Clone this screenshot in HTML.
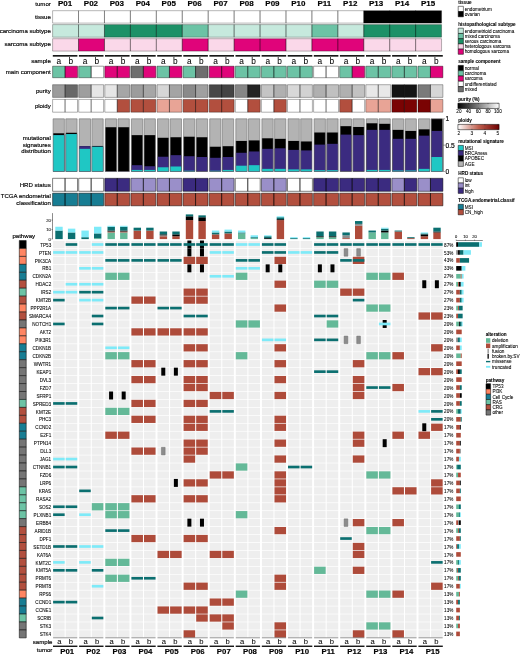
<!DOCTYPE html>
<html lang="en">
<head>
<meta charset="utf-8">
<title>Oncoprint figure</title>
<style>html,body{margin:0;padding:0;background:#fff;}svg{display:block;}svg text{stroke:#000;stroke-width:.16px;}svg text.s{stroke-width:.07px;}svg text.n{stroke-width:.05px;}</style>
</head>
<body>
<svg width="520" height="654" viewBox="0 0 520 654" font-family="'Liberation Sans', Arial, Helvetica, sans-serif" shape-rendering="auto" stroke-linejoin="round">
<defs><linearGradient id="gp" x1="0" x2="1" y1="0" y2="0"><stop offset="0" stop-color="#000"/><stop offset="1" stop-color="#fff"/></linearGradient><linearGradient id="gl" x1="0" x2="1" y1="0" y2="0"><stop offset="0" stop-color="#fff"/><stop offset="0.5" stop-color="#c0604f"/><stop offset="1" stop-color="#6e0000"/></linearGradient></defs>
<rect x="0" y="0" width="520" height="654" fill="#fff"/>
<text x="65" y="6.2" font-size="8" text-anchor="middle" font-weight="bold">P01</text>
<text x="90.93" y="6.2" font-size="8" text-anchor="middle" font-weight="bold">P02</text>
<text x="116.86" y="6.2" font-size="8" text-anchor="middle" font-weight="bold">P03</text>
<text x="142.79" y="6.2" font-size="8" text-anchor="middle" font-weight="bold">P04</text>
<text x="168.72" y="6.2" font-size="8" text-anchor="middle" font-weight="bold">P05</text>
<text x="194.65" y="6.2" font-size="8" text-anchor="middle" font-weight="bold">P06</text>
<text x="220.58" y="6.2" font-size="8" text-anchor="middle" font-weight="bold">P07</text>
<text x="246.51" y="6.2" font-size="8" text-anchor="middle" font-weight="bold">P08</text>
<text x="272.44" y="6.2" font-size="8" text-anchor="middle" font-weight="bold">P09</text>
<text x="298.37" y="6.2" font-size="8" text-anchor="middle" font-weight="bold">P10</text>
<text x="324.3" y="6.2" font-size="8" text-anchor="middle" font-weight="bold">P11</text>
<text x="350.23" y="6.2" font-size="8" text-anchor="middle" font-weight="bold">P12</text>
<text x="376.16" y="6.2" font-size="8" text-anchor="middle" font-weight="bold">P13</text>
<text x="402.09" y="6.2" font-size="8" text-anchor="middle" font-weight="bold">P14</text>
<text x="428.02" y="6.2" font-size="8" text-anchor="middle" font-weight="bold">P15</text>
<text x="50.8" y="6.3" font-size="6.1" text-anchor="end">tumor</text>
<rect x="52.6" y="10.7" width="26.33" height="12.4" fill="#fff"/>
<rect x="78.53" y="10.7" width="26.33" height="12.4" fill="#fff"/>
<rect x="104.46" y="10.7" width="26.33" height="12.4" fill="#fff"/>
<rect x="130.39" y="10.7" width="26.33" height="12.4" fill="#fff"/>
<rect x="156.32" y="10.7" width="26.33" height="12.4" fill="#fff"/>
<rect x="182.25" y="10.7" width="26.33" height="12.4" fill="#fff"/>
<rect x="208.18" y="10.7" width="26.33" height="12.4" fill="#fff"/>
<rect x="234.11" y="10.7" width="26.33" height="12.4" fill="#fff"/>
<rect x="260.04" y="10.7" width="26.33" height="12.4" fill="#fff"/>
<rect x="285.97" y="10.7" width="26.33" height="12.4" fill="#fff"/>
<rect x="311.9" y="10.7" width="26.33" height="12.4" fill="#fff"/>
<rect x="337.83" y="10.7" width="26.33" height="12.4" fill="#fff"/>
<rect x="363.76" y="10.7" width="26.33" height="12.4" fill="#000"/>
<rect x="389.69" y="10.7" width="26.33" height="12.4" fill="#000"/>
<rect x="415.62" y="10.7" width="25.93" height="12.4" fill="#000"/>
<rect x="52.6" y="10.7" width="25.93" height="12.4" fill="none" stroke="#000" stroke-width="0.8" stroke-opacity="0.36"/>
<rect x="78.53" y="10.7" width="25.93" height="12.4" fill="none" stroke="#000" stroke-width="0.8" stroke-opacity="0.36"/>
<rect x="104.46" y="10.7" width="25.93" height="12.4" fill="none" stroke="#000" stroke-width="0.8" stroke-opacity="0.36"/>
<rect x="130.39" y="10.7" width="25.93" height="12.4" fill="none" stroke="#000" stroke-width="0.8" stroke-opacity="0.36"/>
<rect x="156.32" y="10.7" width="25.93" height="12.4" fill="none" stroke="#000" stroke-width="0.8" stroke-opacity="0.36"/>
<rect x="182.25" y="10.7" width="25.93" height="12.4" fill="none" stroke="#000" stroke-width="0.8" stroke-opacity="0.36"/>
<rect x="208.18" y="10.7" width="25.93" height="12.4" fill="none" stroke="#000" stroke-width="0.8" stroke-opacity="0.36"/>
<rect x="234.11" y="10.7" width="25.93" height="12.4" fill="none" stroke="#000" stroke-width="0.8" stroke-opacity="0.36"/>
<rect x="260.04" y="10.7" width="25.93" height="12.4" fill="none" stroke="#000" stroke-width="0.8" stroke-opacity="0.36"/>
<rect x="285.97" y="10.7" width="25.93" height="12.4" fill="none" stroke="#000" stroke-width="0.8" stroke-opacity="0.36"/>
<rect x="311.9" y="10.7" width="25.93" height="12.4" fill="none" stroke="#000" stroke-width="0.8" stroke-opacity="0.36"/>
<rect x="337.83" y="10.7" width="25.93" height="12.4" fill="none" stroke="#000" stroke-width="0.8" stroke-opacity="0.36"/>
<rect x="363.76" y="10.7" width="25.93" height="12.4" fill="none" stroke="#000" stroke-width="0.8" stroke-opacity="0.36"/>
<rect x="389.69" y="10.7" width="25.93" height="12.4" fill="none" stroke="#000" stroke-width="0.8" stroke-opacity="0.36"/>
<rect x="415.62" y="10.7" width="25.93" height="12.4" fill="none" stroke="#000" stroke-width="0.8" stroke-opacity="0.36"/>
<text x="50.8" y="18.8" font-size="6.1" text-anchor="end">tissue</text>
<rect x="52.6" y="24.6" width="26.33" height="12.6" fill="#c6e9dd"/>
<rect x="78.53" y="24.6" width="26.33" height="12.6" fill="#c6e9dd"/>
<rect x="104.46" y="24.6" width="26.33" height="12.6" fill="#1c9167"/>
<rect x="130.39" y="24.6" width="26.33" height="12.6" fill="#1c9167"/>
<rect x="156.32" y="24.6" width="26.33" height="12.6" fill="#1c9167"/>
<rect x="182.25" y="24.6" width="26.33" height="12.6" fill="#6cc3a5"/>
<rect x="208.18" y="24.6" width="26.33" height="12.6" fill="#c6e9dd"/>
<rect x="234.11" y="24.6" width="26.33" height="12.6" fill="#c6e9dd"/>
<rect x="260.04" y="24.6" width="26.33" height="12.6" fill="#c6e9dd"/>
<rect x="285.97" y="24.6" width="26.33" height="12.6" fill="#c6e9dd"/>
<rect x="311.9" y="24.6" width="26.33" height="12.6" fill="#6cc3a5"/>
<rect x="337.83" y="24.6" width="26.33" height="12.6" fill="#c6e9dd"/>
<rect x="363.76" y="24.6" width="26.33" height="12.6" fill="#1c9167"/>
<rect x="389.69" y="24.6" width="26.33" height="12.6" fill="#1c9167"/>
<rect x="415.62" y="24.6" width="25.93" height="12.6" fill="#1c9167"/>
<rect x="52.6" y="24.6" width="25.93" height="12.6" fill="none" stroke="#000" stroke-width="0.8" stroke-opacity="0.36"/>
<rect x="78.53" y="24.6" width="25.93" height="12.6" fill="none" stroke="#000" stroke-width="0.8" stroke-opacity="0.36"/>
<rect x="104.46" y="24.6" width="25.93" height="12.6" fill="none" stroke="#000" stroke-width="0.8" stroke-opacity="0.36"/>
<rect x="130.39" y="24.6" width="25.93" height="12.6" fill="none" stroke="#000" stroke-width="0.8" stroke-opacity="0.36"/>
<rect x="156.32" y="24.6" width="25.93" height="12.6" fill="none" stroke="#000" stroke-width="0.8" stroke-opacity="0.36"/>
<rect x="182.25" y="24.6" width="25.93" height="12.6" fill="none" stroke="#000" stroke-width="0.8" stroke-opacity="0.36"/>
<rect x="208.18" y="24.6" width="25.93" height="12.6" fill="none" stroke="#000" stroke-width="0.8" stroke-opacity="0.36"/>
<rect x="234.11" y="24.6" width="25.93" height="12.6" fill="none" stroke="#000" stroke-width="0.8" stroke-opacity="0.36"/>
<rect x="260.04" y="24.6" width="25.93" height="12.6" fill="none" stroke="#000" stroke-width="0.8" stroke-opacity="0.36"/>
<rect x="285.97" y="24.6" width="25.93" height="12.6" fill="none" stroke="#000" stroke-width="0.8" stroke-opacity="0.36"/>
<rect x="311.9" y="24.6" width="25.93" height="12.6" fill="none" stroke="#000" stroke-width="0.8" stroke-opacity="0.36"/>
<rect x="337.83" y="24.6" width="25.93" height="12.6" fill="none" stroke="#000" stroke-width="0.8" stroke-opacity="0.36"/>
<rect x="363.76" y="24.6" width="25.93" height="12.6" fill="none" stroke="#000" stroke-width="0.8" stroke-opacity="0.36"/>
<rect x="389.69" y="24.6" width="25.93" height="12.6" fill="none" stroke="#000" stroke-width="0.8" stroke-opacity="0.36"/>
<rect x="415.62" y="24.6" width="25.93" height="12.6" fill="none" stroke="#000" stroke-width="0.8" stroke-opacity="0.36"/>
<text x="50.8" y="32.5" font-size="6.1" text-anchor="end">carcinoma subtype</text>
<rect x="52.6" y="38.7" width="26.33" height="12.4" fill="#fad8e9"/>
<rect x="78.53" y="38.7" width="26.33" height="12.4" fill="#e0047a"/>
<rect x="104.46" y="38.7" width="26.33" height="12.4" fill="#fad8e9"/>
<rect x="130.39" y="38.7" width="26.33" height="12.4" fill="#fad8e9"/>
<rect x="156.32" y="38.7" width="26.33" height="12.4" fill="#fad8e9"/>
<rect x="182.25" y="38.7" width="26.33" height="12.4" fill="#e0047a"/>
<rect x="208.18" y="38.7" width="26.33" height="12.4" fill="#fad8e9"/>
<rect x="234.11" y="38.7" width="26.33" height="12.4" fill="#e0047a"/>
<rect x="260.04" y="38.7" width="26.33" height="12.4" fill="#e0047a"/>
<rect x="285.97" y="38.7" width="26.33" height="12.4" fill="#fad8e9"/>
<rect x="311.9" y="38.7" width="26.33" height="12.4" fill="#e0047a"/>
<rect x="337.83" y="38.7" width="26.33" height="12.4" fill="#e0047a"/>
<rect x="363.76" y="38.7" width="26.33" height="12.4" fill="#fad8e9"/>
<rect x="389.69" y="38.7" width="26.33" height="12.4" fill="#fad8e9"/>
<rect x="415.62" y="38.7" width="25.93" height="12.4" fill="#fad8e9"/>
<rect x="52.6" y="38.7" width="25.93" height="12.4" fill="none" stroke="#000" stroke-width="0.8" stroke-opacity="0.36"/>
<rect x="78.53" y="38.7" width="25.93" height="12.4" fill="none" stroke="#000" stroke-width="0.8" stroke-opacity="0.36"/>
<rect x="104.46" y="38.7" width="25.93" height="12.4" fill="none" stroke="#000" stroke-width="0.8" stroke-opacity="0.36"/>
<rect x="130.39" y="38.7" width="25.93" height="12.4" fill="none" stroke="#000" stroke-width="0.8" stroke-opacity="0.36"/>
<rect x="156.32" y="38.7" width="25.93" height="12.4" fill="none" stroke="#000" stroke-width="0.8" stroke-opacity="0.36"/>
<rect x="182.25" y="38.7" width="25.93" height="12.4" fill="none" stroke="#000" stroke-width="0.8" stroke-opacity="0.36"/>
<rect x="208.18" y="38.7" width="25.93" height="12.4" fill="none" stroke="#000" stroke-width="0.8" stroke-opacity="0.36"/>
<rect x="234.11" y="38.7" width="25.93" height="12.4" fill="none" stroke="#000" stroke-width="0.8" stroke-opacity="0.36"/>
<rect x="260.04" y="38.7" width="25.93" height="12.4" fill="none" stroke="#000" stroke-width="0.8" stroke-opacity="0.36"/>
<rect x="285.97" y="38.7" width="25.93" height="12.4" fill="none" stroke="#000" stroke-width="0.8" stroke-opacity="0.36"/>
<rect x="311.9" y="38.7" width="25.93" height="12.4" fill="none" stroke="#000" stroke-width="0.8" stroke-opacity="0.36"/>
<rect x="337.83" y="38.7" width="25.93" height="12.4" fill="none" stroke="#000" stroke-width="0.8" stroke-opacity="0.36"/>
<rect x="363.76" y="38.7" width="25.93" height="12.4" fill="none" stroke="#000" stroke-width="0.8" stroke-opacity="0.36"/>
<rect x="389.69" y="38.7" width="25.93" height="12.4" fill="none" stroke="#000" stroke-width="0.8" stroke-opacity="0.36"/>
<rect x="415.62" y="38.7" width="25.93" height="12.4" fill="none" stroke="#000" stroke-width="0.8" stroke-opacity="0.36"/>
<text x="50.8" y="46.3" font-size="6.1" text-anchor="end">sarcoma subtype</text>
<rect x="52.8" y="55.1" width="24.6" height="1.5" fill="#000"/>
<text x="58.9" y="64" font-size="8.3" text-anchor="middle" class="n">a</text>
<text x="70.8" y="64" font-size="8.3" text-anchor="middle" class="n">b</text>
<rect x="78.9" y="55.1" width="24.6" height="1.5" fill="#000"/>
<text x="85" y="64" font-size="8.3" text-anchor="middle" class="n">a</text>
<text x="96.9" y="64" font-size="8.3" text-anchor="middle" class="n">b</text>
<rect x="105" y="55.1" width="24.6" height="1.5" fill="#000"/>
<text x="111.1" y="64" font-size="8.3" text-anchor="middle" class="n">a</text>
<text x="123" y="64" font-size="8.3" text-anchor="middle" class="n">b</text>
<rect x="131.1" y="55.1" width="24.6" height="1.5" fill="#000"/>
<text x="137.2" y="64" font-size="8.3" text-anchor="middle" class="n">a</text>
<text x="149.1" y="64" font-size="8.3" text-anchor="middle" class="n">b</text>
<rect x="157.2" y="55.1" width="24.6" height="1.5" fill="#000"/>
<text x="163.3" y="64" font-size="8.3" text-anchor="middle" class="n">a</text>
<text x="175.2" y="64" font-size="8.3" text-anchor="middle" class="n">b</text>
<rect x="183.3" y="55.1" width="24.6" height="1.5" fill="#000"/>
<text x="189.4" y="64" font-size="8.3" text-anchor="middle" class="n">a</text>
<text x="201.3" y="64" font-size="8.3" text-anchor="middle" class="n">b</text>
<rect x="209.4" y="55.1" width="24.6" height="1.5" fill="#000"/>
<text x="215.5" y="64" font-size="8.3" text-anchor="middle" class="n">a</text>
<text x="227.4" y="64" font-size="8.3" text-anchor="middle" class="n">b</text>
<rect x="235.5" y="55.1" width="24.6" height="1.5" fill="#000"/>
<text x="241.6" y="64" font-size="8.3" text-anchor="middle" class="n">a</text>
<text x="253.5" y="64" font-size="8.3" text-anchor="middle" class="n">b</text>
<rect x="261.6" y="55.1" width="24.6" height="1.5" fill="#000"/>
<text x="267.7" y="64" font-size="8.3" text-anchor="middle" class="n">a</text>
<text x="279.6" y="64" font-size="8.3" text-anchor="middle" class="n">b</text>
<rect x="287.7" y="55.1" width="24.6" height="1.5" fill="#000"/>
<text x="293.8" y="64" font-size="8.3" text-anchor="middle" class="n">a</text>
<text x="305.7" y="64" font-size="8.3" text-anchor="middle" class="n">b</text>
<rect x="313.8" y="55.1" width="24.6" height="1.5" fill="#000"/>
<text x="319.9" y="64" font-size="8.3" text-anchor="middle" class="n">a</text>
<text x="331.8" y="64" font-size="8.3" text-anchor="middle" class="n">b</text>
<rect x="339.9" y="55.1" width="24.6" height="1.5" fill="#000"/>
<text x="346" y="64" font-size="8.3" text-anchor="middle" class="n">a</text>
<text x="357.9" y="64" font-size="8.3" text-anchor="middle" class="n">b</text>
<rect x="366" y="55.1" width="24.6" height="1.5" fill="#000"/>
<text x="372.1" y="64" font-size="8.3" text-anchor="middle" class="n">a</text>
<text x="384" y="64" font-size="8.3" text-anchor="middle" class="n">b</text>
<rect x="392.1" y="55.1" width="24.6" height="1.5" fill="#000"/>
<text x="398.2" y="64" font-size="8.3" text-anchor="middle" class="n">a</text>
<text x="410.1" y="64" font-size="8.3" text-anchor="middle" class="n">b</text>
<rect x="418.2" y="55.1" width="24.6" height="1.5" fill="#000"/>
<text x="424.3" y="64" font-size="8.3" text-anchor="middle" class="n">a</text>
<text x="436.2" y="64" font-size="8.3" text-anchor="middle" class="n">b</text>
<text x="50.8" y="63.2" font-size="6.1" text-anchor="end">sample</text>
<rect x="52.6" y="66.2" width="12.75" height="11.5" fill="#6cc3a5"/>
<rect x="65.05" y="66.2" width="12.45" height="11.5" fill="#e0047a"/>
<rect x="52.6" y="66.2" width="12.45" height="11.5" fill="none" stroke="#000" stroke-width="0.7" stroke-opacity="0.55"/>
<rect x="65.05" y="66.2" width="12.45" height="11.5" fill="none" stroke="#000" stroke-width="0.7" stroke-opacity="0.55"/>
<rect x="78.7" y="66.2" width="12.75" height="11.5" fill="#6cc3a5"/>
<rect x="91.15" y="66.2" width="12.45" height="11.5" fill="#ffffff"/>
<rect x="78.7" y="66.2" width="12.45" height="11.5" fill="none" stroke="#000" stroke-width="0.7" stroke-opacity="0.55"/>
<rect x="91.15" y="66.2" width="12.45" height="11.5" fill="none" stroke="#000" stroke-width="0.7" stroke-opacity="0.55"/>
<rect x="104.8" y="66.2" width="12.75" height="11.5" fill="#e0047a"/>
<rect x="117.25" y="66.2" width="12.45" height="11.5" fill="#e0047a"/>
<rect x="104.8" y="66.2" width="12.45" height="11.5" fill="none" stroke="#000" stroke-width="0.7" stroke-opacity="0.55"/>
<rect x="117.25" y="66.2" width="12.45" height="11.5" fill="none" stroke="#000" stroke-width="0.7" stroke-opacity="0.55"/>
<rect x="130.9" y="66.2" width="12.75" height="11.5" fill="#6e6e6e"/>
<rect x="143.35" y="66.2" width="12.45" height="11.5" fill="#e0047a"/>
<rect x="130.9" y="66.2" width="12.45" height="11.5" fill="none" stroke="#000" stroke-width="0.7" stroke-opacity="0.55"/>
<rect x="143.35" y="66.2" width="12.45" height="11.5" fill="none" stroke="#000" stroke-width="0.7" stroke-opacity="0.55"/>
<rect x="157" y="66.2" width="12.75" height="11.5" fill="#6cc3a5"/>
<rect x="169.45" y="66.2" width="12.45" height="11.5" fill="#e0047a"/>
<rect x="157" y="66.2" width="12.45" height="11.5" fill="none" stroke="#000" stroke-width="0.7" stroke-opacity="0.55"/>
<rect x="169.45" y="66.2" width="12.45" height="11.5" fill="none" stroke="#000" stroke-width="0.7" stroke-opacity="0.55"/>
<rect x="183.1" y="66.2" width="12.75" height="11.5" fill="#6cc3a5"/>
<rect x="195.55" y="66.2" width="12.45" height="11.5" fill="#6e6e6e"/>
<rect x="183.1" y="66.2" width="12.45" height="11.5" fill="none" stroke="#000" stroke-width="0.7" stroke-opacity="0.55"/>
<rect x="195.55" y="66.2" width="12.45" height="11.5" fill="none" stroke="#000" stroke-width="0.7" stroke-opacity="0.55"/>
<rect x="209.2" y="66.2" width="12.75" height="11.5" fill="#e0047a"/>
<rect x="221.65" y="66.2" width="12.45" height="11.5" fill="#e0047a"/>
<rect x="209.2" y="66.2" width="12.45" height="11.5" fill="none" stroke="#000" stroke-width="0.7" stroke-opacity="0.55"/>
<rect x="221.65" y="66.2" width="12.45" height="11.5" fill="none" stroke="#000" stroke-width="0.7" stroke-opacity="0.55"/>
<rect x="235.3" y="66.2" width="12.75" height="11.5" fill="#6cc3a5"/>
<rect x="247.75" y="66.2" width="12.45" height="11.5" fill="#6cc3a5"/>
<rect x="235.3" y="66.2" width="12.45" height="11.5" fill="none" stroke="#000" stroke-width="0.7" stroke-opacity="0.55"/>
<rect x="247.75" y="66.2" width="12.45" height="11.5" fill="none" stroke="#000" stroke-width="0.7" stroke-opacity="0.55"/>
<rect x="261.4" y="66.2" width="12.75" height="11.5" fill="#6cc3a5"/>
<rect x="273.85" y="66.2" width="12.45" height="11.5" fill="#6cc3a5"/>
<rect x="261.4" y="66.2" width="12.45" height="11.5" fill="none" stroke="#000" stroke-width="0.7" stroke-opacity="0.55"/>
<rect x="273.85" y="66.2" width="12.45" height="11.5" fill="none" stroke="#000" stroke-width="0.7" stroke-opacity="0.55"/>
<rect x="287.5" y="66.2" width="12.75" height="11.5" fill="#6cc3a5"/>
<rect x="299.95" y="66.2" width="12.45" height="11.5" fill="#6cc3a5"/>
<rect x="287.5" y="66.2" width="12.45" height="11.5" fill="none" stroke="#000" stroke-width="0.7" stroke-opacity="0.55"/>
<rect x="299.95" y="66.2" width="12.45" height="11.5" fill="none" stroke="#000" stroke-width="0.7" stroke-opacity="0.55"/>
<rect x="313.6" y="66.2" width="12.75" height="11.5" fill="#ffffff"/>
<rect x="326.05" y="66.2" width="12.45" height="11.5" fill="#ffffff"/>
<rect x="313.6" y="66.2" width="12.45" height="11.5" fill="none" stroke="#000" stroke-width="0.7" stroke-opacity="0.55"/>
<rect x="326.05" y="66.2" width="12.45" height="11.5" fill="none" stroke="#000" stroke-width="0.7" stroke-opacity="0.55"/>
<rect x="339.7" y="66.2" width="12.75" height="11.5" fill="#6cc3a5"/>
<rect x="352.15" y="66.2" width="12.45" height="11.5" fill="#e0047a"/>
<rect x="339.7" y="66.2" width="12.45" height="11.5" fill="none" stroke="#000" stroke-width="0.7" stroke-opacity="0.55"/>
<rect x="352.15" y="66.2" width="12.45" height="11.5" fill="none" stroke="#000" stroke-width="0.7" stroke-opacity="0.55"/>
<rect x="365.8" y="66.2" width="12.75" height="11.5" fill="#6cc3a5"/>
<rect x="378.25" y="66.2" width="12.45" height="11.5" fill="#6cc3a5"/>
<rect x="365.8" y="66.2" width="12.45" height="11.5" fill="none" stroke="#000" stroke-width="0.7" stroke-opacity="0.55"/>
<rect x="378.25" y="66.2" width="12.45" height="11.5" fill="none" stroke="#000" stroke-width="0.7" stroke-opacity="0.55"/>
<rect x="391.9" y="66.2" width="12.75" height="11.5" fill="#6cc3a5"/>
<rect x="404.35" y="66.2" width="12.45" height="11.5" fill="#6cc3a5"/>
<rect x="391.9" y="66.2" width="12.45" height="11.5" fill="none" stroke="#000" stroke-width="0.7" stroke-opacity="0.55"/>
<rect x="404.35" y="66.2" width="12.45" height="11.5" fill="none" stroke="#000" stroke-width="0.7" stroke-opacity="0.55"/>
<rect x="418" y="66.2" width="12.75" height="11.5" fill="#6cc3a5"/>
<rect x="430.45" y="66.2" width="12.45" height="11.5" fill="#e0047a"/>
<rect x="418" y="66.2" width="12.45" height="11.5" fill="none" stroke="#000" stroke-width="0.7" stroke-opacity="0.55"/>
<rect x="430.45" y="66.2" width="12.45" height="11.5" fill="none" stroke="#000" stroke-width="0.7" stroke-opacity="0.55"/>
<text x="50.8" y="74.05" font-size="6.1" text-anchor="end">main component</text>
<rect x="52.6" y="84.7" width="12.75" height="12.7" fill="#9b9b9b"/>
<rect x="65.05" y="84.7" width="12.45" height="12.7" fill="#686868"/>
<rect x="52.6" y="84.7" width="12.45" height="12.7" fill="none" stroke="#000" stroke-width="0.7" stroke-opacity="0.45"/>
<rect x="65.05" y="84.7" width="12.45" height="12.7" fill="none" stroke="#000" stroke-width="0.7" stroke-opacity="0.45"/>
<rect x="78.7" y="84.7" width="12.75" height="12.7" fill="#9e9e9e"/>
<rect x="91.15" y="84.7" width="12.45" height="12.7" fill="#e6e6e6"/>
<rect x="78.7" y="84.7" width="12.45" height="12.7" fill="none" stroke="#000" stroke-width="0.7" stroke-opacity="0.45"/>
<rect x="91.15" y="84.7" width="12.45" height="12.7" fill="none" stroke="#000" stroke-width="0.7" stroke-opacity="0.45"/>
<rect x="104.8" y="84.7" width="12.75" height="12.7" fill="#e6e6e6"/>
<rect x="117.25" y="84.7" width="12.45" height="12.7" fill="#a6a6a6"/>
<rect x="104.8" y="84.7" width="12.45" height="12.7" fill="none" stroke="#000" stroke-width="0.7" stroke-opacity="0.45"/>
<rect x="117.25" y="84.7" width="12.45" height="12.7" fill="none" stroke="#000" stroke-width="0.7" stroke-opacity="0.45"/>
<rect x="130.9" y="84.7" width="12.75" height="12.7" fill="#9c9c9c"/>
<rect x="143.35" y="84.7" width="12.45" height="12.7" fill="#a6a6a6"/>
<rect x="130.9" y="84.7" width="12.45" height="12.7" fill="none" stroke="#000" stroke-width="0.7" stroke-opacity="0.45"/>
<rect x="143.35" y="84.7" width="12.45" height="12.7" fill="none" stroke="#000" stroke-width="0.7" stroke-opacity="0.45"/>
<rect x="157" y="84.7" width="12.75" height="12.7" fill="#d6d6d6"/>
<rect x="169.45" y="84.7" width="12.45" height="12.7" fill="#a4a4a4"/>
<rect x="157" y="84.7" width="12.45" height="12.7" fill="none" stroke="#000" stroke-width="0.7" stroke-opacity="0.45"/>
<rect x="169.45" y="84.7" width="12.45" height="12.7" fill="none" stroke="#000" stroke-width="0.7" stroke-opacity="0.45"/>
<rect x="183.1" y="84.7" width="12.75" height="12.7" fill="#8a8a8a"/>
<rect x="195.55" y="84.7" width="12.45" height="12.7" fill="#a0a0a0"/>
<rect x="183.1" y="84.7" width="12.45" height="12.7" fill="none" stroke="#000" stroke-width="0.7" stroke-opacity="0.45"/>
<rect x="195.55" y="84.7" width="12.45" height="12.7" fill="none" stroke="#000" stroke-width="0.7" stroke-opacity="0.45"/>
<rect x="209.2" y="84.7" width="12.75" height="12.7" fill="#484848"/>
<rect x="221.65" y="84.7" width="12.45" height="12.7" fill="#444444"/>
<rect x="209.2" y="84.7" width="12.45" height="12.7" fill="none" stroke="#000" stroke-width="0.7" stroke-opacity="0.45"/>
<rect x="221.65" y="84.7" width="12.45" height="12.7" fill="none" stroke="#000" stroke-width="0.7" stroke-opacity="0.45"/>
<rect x="235.3" y="84.7" width="12.75" height="12.7" fill="#868686"/>
<rect x="247.75" y="84.7" width="12.45" height="12.7" fill="#242424"/>
<rect x="235.3" y="84.7" width="12.45" height="12.7" fill="none" stroke="#000" stroke-width="0.7" stroke-opacity="0.45"/>
<rect x="247.75" y="84.7" width="12.45" height="12.7" fill="none" stroke="#000" stroke-width="0.7" stroke-opacity="0.45"/>
<rect x="261.4" y="84.7" width="12.75" height="12.7" fill="#c4c4c4"/>
<rect x="273.85" y="84.7" width="12.45" height="12.7" fill="#b0b0b0"/>
<rect x="261.4" y="84.7" width="12.45" height="12.7" fill="none" stroke="#000" stroke-width="0.7" stroke-opacity="0.45"/>
<rect x="273.85" y="84.7" width="12.45" height="12.7" fill="none" stroke="#000" stroke-width="0.7" stroke-opacity="0.45"/>
<rect x="287.5" y="84.7" width="12.75" height="12.7" fill="#d8d8d8"/>
<rect x="299.95" y="84.7" width="12.45" height="12.7" fill="#d2d2d2"/>
<rect x="287.5" y="84.7" width="12.45" height="12.7" fill="none" stroke="#000" stroke-width="0.7" stroke-opacity="0.45"/>
<rect x="299.95" y="84.7" width="12.45" height="12.7" fill="none" stroke="#000" stroke-width="0.7" stroke-opacity="0.45"/>
<rect x="313.6" y="84.7" width="12.75" height="12.7" fill="#b0b0b0"/>
<rect x="326.05" y="84.7" width="12.45" height="12.7" fill="#c0c0c0"/>
<rect x="313.6" y="84.7" width="12.45" height="12.7" fill="none" stroke="#000" stroke-width="0.7" stroke-opacity="0.45"/>
<rect x="326.05" y="84.7" width="12.45" height="12.7" fill="none" stroke="#000" stroke-width="0.7" stroke-opacity="0.45"/>
<rect x="339.7" y="84.7" width="12.75" height="12.7" fill="#b0b0b0"/>
<rect x="352.15" y="84.7" width="12.45" height="12.7" fill="#c2c2c2"/>
<rect x="339.7" y="84.7" width="12.45" height="12.7" fill="none" stroke="#000" stroke-width="0.7" stroke-opacity="0.45"/>
<rect x="352.15" y="84.7" width="12.45" height="12.7" fill="none" stroke="#000" stroke-width="0.7" stroke-opacity="0.45"/>
<rect x="365.8" y="84.7" width="12.75" height="12.7" fill="#e8e8e8"/>
<rect x="378.25" y="84.7" width="12.45" height="12.7" fill="#e8e8e8"/>
<rect x="365.8" y="84.7" width="12.45" height="12.7" fill="none" stroke="#000" stroke-width="0.7" stroke-opacity="0.45"/>
<rect x="378.25" y="84.7" width="12.45" height="12.7" fill="none" stroke="#000" stroke-width="0.7" stroke-opacity="0.45"/>
<rect x="391.9" y="84.7" width="12.75" height="12.7" fill="#141414"/>
<rect x="404.35" y="84.7" width="12.45" height="12.7" fill="#141414"/>
<rect x="391.9" y="84.7" width="12.45" height="12.7" fill="none" stroke="#000" stroke-width="0.7" stroke-opacity="0.45"/>
<rect x="404.35" y="84.7" width="12.45" height="12.7" fill="none" stroke="#000" stroke-width="0.7" stroke-opacity="0.45"/>
<rect x="418" y="84.7" width="12.75" height="12.7" fill="#7a7a7a"/>
<rect x="430.45" y="84.7" width="12.45" height="12.7" fill="#d6d6d6"/>
<rect x="418" y="84.7" width="12.45" height="12.7" fill="none" stroke="#000" stroke-width="0.7" stroke-opacity="0.45"/>
<rect x="430.45" y="84.7" width="12.45" height="12.7" fill="none" stroke="#000" stroke-width="0.7" stroke-opacity="0.45"/>
<text x="50.8" y="93.15" font-size="6.1" text-anchor="end">purity</text>
<rect x="52.6" y="99.4" width="12.75" height="12.8" fill="#ffffff"/>
<rect x="65.05" y="99.4" width="12.45" height="12.8" fill="#ffffff"/>
<rect x="52.6" y="99.4" width="12.45" height="12.8" fill="none" stroke="#000" stroke-width="0.7" stroke-opacity="0.45"/>
<rect x="65.05" y="99.4" width="12.45" height="12.8" fill="none" stroke="#000" stroke-width="0.7" stroke-opacity="0.45"/>
<rect x="78.7" y="99.4" width="12.75" height="12.8" fill="#ffffff"/>
<rect x="91.15" y="99.4" width="12.45" height="12.8" fill="#ffffff"/>
<rect x="78.7" y="99.4" width="12.45" height="12.8" fill="none" stroke="#000" stroke-width="0.7" stroke-opacity="0.45"/>
<rect x="91.15" y="99.4" width="12.45" height="12.8" fill="none" stroke="#000" stroke-width="0.7" stroke-opacity="0.45"/>
<rect x="104.8" y="99.4" width="12.75" height="12.8" fill="#ffffff"/>
<rect x="117.25" y="99.4" width="12.45" height="12.8" fill="#b24f3e"/>
<rect x="104.8" y="99.4" width="12.45" height="12.8" fill="none" stroke="#000" stroke-width="0.7" stroke-opacity="0.45"/>
<rect x="117.25" y="99.4" width="12.45" height="12.8" fill="none" stroke="#000" stroke-width="0.7" stroke-opacity="0.45"/>
<rect x="130.9" y="99.4" width="12.75" height="12.8" fill="#b24f3e"/>
<rect x="143.35" y="99.4" width="12.45" height="12.8" fill="#b24f3e"/>
<rect x="130.9" y="99.4" width="12.45" height="12.8" fill="none" stroke="#000" stroke-width="0.7" stroke-opacity="0.45"/>
<rect x="143.35" y="99.4" width="12.45" height="12.8" fill="none" stroke="#000" stroke-width="0.7" stroke-opacity="0.45"/>
<rect x="157" y="99.4" width="12.75" height="12.8" fill="#e8a496"/>
<rect x="169.45" y="99.4" width="12.45" height="12.8" fill="#e8a496"/>
<rect x="157" y="99.4" width="12.45" height="12.8" fill="none" stroke="#000" stroke-width="0.7" stroke-opacity="0.45"/>
<rect x="169.45" y="99.4" width="12.45" height="12.8" fill="none" stroke="#000" stroke-width="0.7" stroke-opacity="0.45"/>
<rect x="183.1" y="99.4" width="12.75" height="12.8" fill="#b24f3e"/>
<rect x="195.55" y="99.4" width="12.45" height="12.8" fill="#b24f3e"/>
<rect x="183.1" y="99.4" width="12.45" height="12.8" fill="none" stroke="#000" stroke-width="0.7" stroke-opacity="0.45"/>
<rect x="195.55" y="99.4" width="12.45" height="12.8" fill="none" stroke="#000" stroke-width="0.7" stroke-opacity="0.45"/>
<rect x="209.2" y="99.4" width="12.75" height="12.8" fill="#b24f3e"/>
<rect x="221.65" y="99.4" width="12.45" height="12.8" fill="#b24f3e"/>
<rect x="209.2" y="99.4" width="12.45" height="12.8" fill="none" stroke="#000" stroke-width="0.7" stroke-opacity="0.45"/>
<rect x="221.65" y="99.4" width="12.45" height="12.8" fill="none" stroke="#000" stroke-width="0.7" stroke-opacity="0.45"/>
<rect x="235.3" y="99.4" width="12.75" height="12.8" fill="#ffffff"/>
<rect x="247.75" y="99.4" width="12.45" height="12.8" fill="#b24f3e"/>
<rect x="235.3" y="99.4" width="12.45" height="12.8" fill="none" stroke="#000" stroke-width="0.7" stroke-opacity="0.45"/>
<rect x="247.75" y="99.4" width="12.45" height="12.8" fill="none" stroke="#000" stroke-width="0.7" stroke-opacity="0.45"/>
<rect x="261.4" y="99.4" width="12.75" height="12.8" fill="#ffffff"/>
<rect x="273.85" y="99.4" width="12.45" height="12.8" fill="#b24f3e"/>
<rect x="261.4" y="99.4" width="12.45" height="12.8" fill="none" stroke="#000" stroke-width="0.7" stroke-opacity="0.45"/>
<rect x="273.85" y="99.4" width="12.45" height="12.8" fill="none" stroke="#000" stroke-width="0.7" stroke-opacity="0.45"/>
<rect x="287.5" y="99.4" width="12.75" height="12.8" fill="#ffffff"/>
<rect x="299.95" y="99.4" width="12.45" height="12.8" fill="#ffffff"/>
<rect x="287.5" y="99.4" width="12.45" height="12.8" fill="none" stroke="#000" stroke-width="0.7" stroke-opacity="0.45"/>
<rect x="299.95" y="99.4" width="12.45" height="12.8" fill="none" stroke="#000" stroke-width="0.7" stroke-opacity="0.45"/>
<rect x="313.6" y="99.4" width="12.75" height="12.8" fill="#ffffff"/>
<rect x="326.05" y="99.4" width="12.45" height="12.8" fill="#ffffff"/>
<rect x="313.6" y="99.4" width="12.45" height="12.8" fill="none" stroke="#000" stroke-width="0.7" stroke-opacity="0.45"/>
<rect x="326.05" y="99.4" width="12.45" height="12.8" fill="none" stroke="#000" stroke-width="0.7" stroke-opacity="0.45"/>
<rect x="339.7" y="99.4" width="12.75" height="12.8" fill="#b24f3e"/>
<rect x="352.15" y="99.4" width="12.45" height="12.8" fill="#ffffff"/>
<rect x="339.7" y="99.4" width="12.45" height="12.8" fill="none" stroke="#000" stroke-width="0.7" stroke-opacity="0.45"/>
<rect x="352.15" y="99.4" width="12.45" height="12.8" fill="none" stroke="#000" stroke-width="0.7" stroke-opacity="0.45"/>
<rect x="365.8" y="99.4" width="12.75" height="12.8" fill="#e8a496"/>
<rect x="378.25" y="99.4" width="12.45" height="12.8" fill="#e8a496"/>
<rect x="365.8" y="99.4" width="12.45" height="12.8" fill="none" stroke="#000" stroke-width="0.7" stroke-opacity="0.45"/>
<rect x="378.25" y="99.4" width="12.45" height="12.8" fill="none" stroke="#000" stroke-width="0.7" stroke-opacity="0.45"/>
<rect x="391.9" y="99.4" width="12.75" height="12.8" fill="#7a0303"/>
<rect x="404.35" y="99.4" width="12.45" height="12.8" fill="#7a0303"/>
<rect x="391.9" y="99.4" width="12.45" height="12.8" fill="none" stroke="#000" stroke-width="0.7" stroke-opacity="0.45"/>
<rect x="404.35" y="99.4" width="12.45" height="12.8" fill="none" stroke="#000" stroke-width="0.7" stroke-opacity="0.45"/>
<rect x="418" y="99.4" width="12.75" height="12.8" fill="#7a0303"/>
<rect x="430.45" y="99.4" width="12.45" height="12.8" fill="#e8a496"/>
<rect x="418" y="99.4" width="12.45" height="12.8" fill="none" stroke="#000" stroke-width="0.7" stroke-opacity="0.45"/>
<rect x="430.45" y="99.4" width="12.45" height="12.8" fill="none" stroke="#000" stroke-width="0.7" stroke-opacity="0.45"/>
<text x="50.8" y="107.9" font-size="6.1" text-anchor="end">ploidy</text>
<rect x="52.6" y="178.3" width="12.75" height="13" fill="#ffffff"/>
<rect x="65.05" y="178.3" width="12.45" height="13" fill="#ffffff"/>
<rect x="52.6" y="178.3" width="12.45" height="13" fill="none" stroke="#000" stroke-width="0.8" stroke-opacity="0.62"/>
<rect x="65.05" y="178.3" width="12.45" height="13" fill="none" stroke="#000" stroke-width="0.8" stroke-opacity="0.62"/>
<rect x="78.7" y="178.3" width="12.75" height="13" fill="#ffffff"/>
<rect x="91.15" y="178.3" width="12.45" height="13" fill="#ffffff"/>
<rect x="78.7" y="178.3" width="12.45" height="13" fill="none" stroke="#000" stroke-width="0.8" stroke-opacity="0.62"/>
<rect x="91.15" y="178.3" width="12.45" height="13" fill="none" stroke="#000" stroke-width="0.8" stroke-opacity="0.62"/>
<rect x="104.8" y="178.3" width="12.75" height="13" fill="#3b2b80"/>
<rect x="117.25" y="178.3" width="12.45" height="13" fill="#3b2b80"/>
<rect x="104.8" y="178.3" width="12.45" height="13" fill="none" stroke="#000" stroke-width="0.8" stroke-opacity="0.62"/>
<rect x="117.25" y="178.3" width="12.45" height="13" fill="none" stroke="#000" stroke-width="0.8" stroke-opacity="0.62"/>
<rect x="130.9" y="178.3" width="12.75" height="13" fill="#9a8fc9"/>
<rect x="143.35" y="178.3" width="12.45" height="13" fill="#9a8fc9"/>
<rect x="130.9" y="178.3" width="12.45" height="13" fill="none" stroke="#000" stroke-width="0.8" stroke-opacity="0.62"/>
<rect x="143.35" y="178.3" width="12.45" height="13" fill="none" stroke="#000" stroke-width="0.8" stroke-opacity="0.62"/>
<rect x="157" y="178.3" width="12.75" height="13" fill="#9a8fc9"/>
<rect x="169.45" y="178.3" width="12.45" height="13" fill="#9a8fc9"/>
<rect x="157" y="178.3" width="12.45" height="13" fill="none" stroke="#000" stroke-width="0.8" stroke-opacity="0.62"/>
<rect x="169.45" y="178.3" width="12.45" height="13" fill="none" stroke="#000" stroke-width="0.8" stroke-opacity="0.62"/>
<rect x="183.1" y="178.3" width="12.75" height="13" fill="#3b2b80"/>
<rect x="195.55" y="178.3" width="12.45" height="13" fill="#3b2b80"/>
<rect x="183.1" y="178.3" width="12.45" height="13" fill="none" stroke="#000" stroke-width="0.8" stroke-opacity="0.62"/>
<rect x="195.55" y="178.3" width="12.45" height="13" fill="none" stroke="#000" stroke-width="0.8" stroke-opacity="0.62"/>
<rect x="209.2" y="178.3" width="12.75" height="13" fill="#9a8fc9"/>
<rect x="221.65" y="178.3" width="12.45" height="13" fill="#9a8fc9"/>
<rect x="209.2" y="178.3" width="12.45" height="13" fill="none" stroke="#000" stroke-width="0.8" stroke-opacity="0.62"/>
<rect x="221.65" y="178.3" width="12.45" height="13" fill="none" stroke="#000" stroke-width="0.8" stroke-opacity="0.62"/>
<rect x="235.3" y="178.3" width="12.75" height="13" fill="#ffffff"/>
<rect x="247.75" y="178.3" width="12.45" height="13" fill="#ffffff"/>
<rect x="235.3" y="178.3" width="12.45" height="13" fill="none" stroke="#000" stroke-width="0.8" stroke-opacity="0.62"/>
<rect x="247.75" y="178.3" width="12.45" height="13" fill="none" stroke="#000" stroke-width="0.8" stroke-opacity="0.62"/>
<rect x="261.4" y="178.3" width="12.75" height="13" fill="#9a8fc9"/>
<rect x="273.85" y="178.3" width="12.45" height="13" fill="#9a8fc9"/>
<rect x="261.4" y="178.3" width="12.45" height="13" fill="none" stroke="#000" stroke-width="0.8" stroke-opacity="0.62"/>
<rect x="273.85" y="178.3" width="12.45" height="13" fill="none" stroke="#000" stroke-width="0.8" stroke-opacity="0.62"/>
<rect x="287.5" y="178.3" width="12.75" height="13" fill="#ffffff"/>
<rect x="299.95" y="178.3" width="12.45" height="13" fill="#ffffff"/>
<rect x="287.5" y="178.3" width="12.45" height="13" fill="none" stroke="#000" stroke-width="0.8" stroke-opacity="0.62"/>
<rect x="299.95" y="178.3" width="12.45" height="13" fill="none" stroke="#000" stroke-width="0.8" stroke-opacity="0.62"/>
<rect x="313.6" y="178.3" width="12.75" height="13" fill="#3b2b80"/>
<rect x="326.05" y="178.3" width="12.45" height="13" fill="#3b2b80"/>
<rect x="313.6" y="178.3" width="12.45" height="13" fill="none" stroke="#000" stroke-width="0.8" stroke-opacity="0.62"/>
<rect x="326.05" y="178.3" width="12.45" height="13" fill="none" stroke="#000" stroke-width="0.8" stroke-opacity="0.62"/>
<rect x="339.7" y="178.3" width="12.75" height="13" fill="#3b2b80"/>
<rect x="352.15" y="178.3" width="12.45" height="13" fill="#3b2b80"/>
<rect x="339.7" y="178.3" width="12.45" height="13" fill="none" stroke="#000" stroke-width="0.8" stroke-opacity="0.62"/>
<rect x="352.15" y="178.3" width="12.45" height="13" fill="none" stroke="#000" stroke-width="0.8" stroke-opacity="0.62"/>
<rect x="365.8" y="178.3" width="12.75" height="13" fill="#3b2b80"/>
<rect x="378.25" y="178.3" width="12.45" height="13" fill="#3b2b80"/>
<rect x="365.8" y="178.3" width="12.45" height="13" fill="none" stroke="#000" stroke-width="0.8" stroke-opacity="0.62"/>
<rect x="378.25" y="178.3" width="12.45" height="13" fill="none" stroke="#000" stroke-width="0.8" stroke-opacity="0.62"/>
<rect x="391.9" y="178.3" width="12.75" height="13" fill="#9a8fc9"/>
<rect x="404.35" y="178.3" width="12.45" height="13" fill="#3b2b80"/>
<rect x="391.9" y="178.3" width="12.45" height="13" fill="none" stroke="#000" stroke-width="0.8" stroke-opacity="0.62"/>
<rect x="404.35" y="178.3" width="12.45" height="13" fill="none" stroke="#000" stroke-width="0.8" stroke-opacity="0.62"/>
<rect x="418" y="178.3" width="12.75" height="13" fill="#9a8fc9"/>
<rect x="430.45" y="178.3" width="12.45" height="13" fill="#3b2b80"/>
<rect x="418" y="178.3" width="12.45" height="13" fill="none" stroke="#000" stroke-width="0.8" stroke-opacity="0.62"/>
<rect x="430.45" y="178.3" width="12.45" height="13" fill="none" stroke="#000" stroke-width="0.8" stroke-opacity="0.62"/>
<text x="50.8" y="186.9" font-size="6.1" text-anchor="end">HRD status</text>
<rect x="52.6" y="193.2" width="12.75" height="12.6" fill="#177d93"/>
<rect x="65.05" y="193.2" width="12.45" height="12.6" fill="#177d93"/>
<rect x="52.6" y="193.2" width="12.45" height="12.6" fill="none" stroke="#000" stroke-width="0.8" stroke-opacity="0.62"/>
<rect x="65.05" y="193.2" width="12.45" height="12.6" fill="none" stroke="#000" stroke-width="0.8" stroke-opacity="0.62"/>
<rect x="78.7" y="193.2" width="12.75" height="12.6" fill="#177d93"/>
<rect x="91.15" y="193.2" width="12.45" height="12.6" fill="#177d93"/>
<rect x="78.7" y="193.2" width="12.45" height="12.6" fill="none" stroke="#000" stroke-width="0.8" stroke-opacity="0.62"/>
<rect x="91.15" y="193.2" width="12.45" height="12.6" fill="none" stroke="#000" stroke-width="0.8" stroke-opacity="0.62"/>
<rect x="104.8" y="193.2" width="12.75" height="12.6" fill="#b24f3e"/>
<rect x="117.25" y="193.2" width="12.45" height="12.6" fill="#b24f3e"/>
<rect x="104.8" y="193.2" width="12.45" height="12.6" fill="none" stroke="#000" stroke-width="0.8" stroke-opacity="0.62"/>
<rect x="117.25" y="193.2" width="12.45" height="12.6" fill="none" stroke="#000" stroke-width="0.8" stroke-opacity="0.62"/>
<rect x="130.9" y="193.2" width="12.75" height="12.6" fill="#b24f3e"/>
<rect x="143.35" y="193.2" width="12.45" height="12.6" fill="#b24f3e"/>
<rect x="130.9" y="193.2" width="12.45" height="12.6" fill="none" stroke="#000" stroke-width="0.8" stroke-opacity="0.62"/>
<rect x="143.35" y="193.2" width="12.45" height="12.6" fill="none" stroke="#000" stroke-width="0.8" stroke-opacity="0.62"/>
<rect x="157" y="193.2" width="12.75" height="12.6" fill="#b24f3e"/>
<rect x="169.45" y="193.2" width="12.45" height="12.6" fill="#b24f3e"/>
<rect x="157" y="193.2" width="12.45" height="12.6" fill="none" stroke="#000" stroke-width="0.8" stroke-opacity="0.62"/>
<rect x="169.45" y="193.2" width="12.45" height="12.6" fill="none" stroke="#000" stroke-width="0.8" stroke-opacity="0.62"/>
<rect x="183.1" y="193.2" width="12.75" height="12.6" fill="#b24f3e"/>
<rect x="195.55" y="193.2" width="12.45" height="12.6" fill="#b24f3e"/>
<rect x="183.1" y="193.2" width="12.45" height="12.6" fill="none" stroke="#000" stroke-width="0.8" stroke-opacity="0.62"/>
<rect x="195.55" y="193.2" width="12.45" height="12.6" fill="none" stroke="#000" stroke-width="0.8" stroke-opacity="0.62"/>
<rect x="209.2" y="193.2" width="12.75" height="12.6" fill="#b24f3e"/>
<rect x="221.65" y="193.2" width="12.45" height="12.6" fill="#b24f3e"/>
<rect x="209.2" y="193.2" width="12.45" height="12.6" fill="none" stroke="#000" stroke-width="0.8" stroke-opacity="0.62"/>
<rect x="221.65" y="193.2" width="12.45" height="12.6" fill="none" stroke="#000" stroke-width="0.8" stroke-opacity="0.62"/>
<rect x="235.3" y="193.2" width="12.75" height="12.6" fill="#b24f3e"/>
<rect x="247.75" y="193.2" width="12.45" height="12.6" fill="#b24f3e"/>
<rect x="235.3" y="193.2" width="12.45" height="12.6" fill="none" stroke="#000" stroke-width="0.8" stroke-opacity="0.62"/>
<rect x="247.75" y="193.2" width="12.45" height="12.6" fill="none" stroke="#000" stroke-width="0.8" stroke-opacity="0.62"/>
<rect x="261.4" y="193.2" width="12.75" height="12.6" fill="#b24f3e"/>
<rect x="273.85" y="193.2" width="12.45" height="12.6" fill="#b24f3e"/>
<rect x="261.4" y="193.2" width="12.45" height="12.6" fill="none" stroke="#000" stroke-width="0.8" stroke-opacity="0.62"/>
<rect x="273.85" y="193.2" width="12.45" height="12.6" fill="none" stroke="#000" stroke-width="0.8" stroke-opacity="0.62"/>
<rect x="287.5" y="193.2" width="12.75" height="12.6" fill="#b24f3e"/>
<rect x="299.95" y="193.2" width="12.45" height="12.6" fill="#b24f3e"/>
<rect x="287.5" y="193.2" width="12.45" height="12.6" fill="none" stroke="#000" stroke-width="0.8" stroke-opacity="0.62"/>
<rect x="299.95" y="193.2" width="12.45" height="12.6" fill="none" stroke="#000" stroke-width="0.8" stroke-opacity="0.62"/>
<rect x="313.6" y="193.2" width="12.75" height="12.6" fill="#b24f3e"/>
<rect x="326.05" y="193.2" width="12.45" height="12.6" fill="#b24f3e"/>
<rect x="313.6" y="193.2" width="12.45" height="12.6" fill="none" stroke="#000" stroke-width="0.8" stroke-opacity="0.62"/>
<rect x="326.05" y="193.2" width="12.45" height="12.6" fill="none" stroke="#000" stroke-width="0.8" stroke-opacity="0.62"/>
<rect x="339.7" y="193.2" width="12.75" height="12.6" fill="#b24f3e"/>
<rect x="352.15" y="193.2" width="12.45" height="12.6" fill="#b24f3e"/>
<rect x="339.7" y="193.2" width="12.45" height="12.6" fill="none" stroke="#000" stroke-width="0.8" stroke-opacity="0.62"/>
<rect x="352.15" y="193.2" width="12.45" height="12.6" fill="none" stroke="#000" stroke-width="0.8" stroke-opacity="0.62"/>
<rect x="365.8" y="193.2" width="12.75" height="12.6" fill="#b24f3e"/>
<rect x="378.25" y="193.2" width="12.45" height="12.6" fill="#b24f3e"/>
<rect x="365.8" y="193.2" width="12.45" height="12.6" fill="none" stroke="#000" stroke-width="0.8" stroke-opacity="0.62"/>
<rect x="378.25" y="193.2" width="12.45" height="12.6" fill="none" stroke="#000" stroke-width="0.8" stroke-opacity="0.62"/>
<rect x="391.9" y="193.2" width="12.75" height="12.6" fill="#b24f3e"/>
<rect x="404.35" y="193.2" width="12.45" height="12.6" fill="#b24f3e"/>
<rect x="391.9" y="193.2" width="12.45" height="12.6" fill="none" stroke="#000" stroke-width="0.8" stroke-opacity="0.62"/>
<rect x="404.35" y="193.2" width="12.45" height="12.6" fill="none" stroke="#000" stroke-width="0.8" stroke-opacity="0.62"/>
<rect x="418" y="193.2" width="12.75" height="12.6" fill="#b24f3e"/>
<rect x="430.45" y="193.2" width="12.45" height="12.6" fill="#b24f3e"/>
<rect x="418" y="193.2" width="12.45" height="12.6" fill="none" stroke="#000" stroke-width="0.8" stroke-opacity="0.62"/>
<rect x="430.45" y="193.2" width="12.45" height="12.6" fill="none" stroke="#000" stroke-width="0.8" stroke-opacity="0.62"/>
<text x="50.8" y="197.9" font-size="6.1" text-anchor="end">TCGA endometrial</text>
<text x="50.8" y="204.6" font-size="6.1" text-anchor="end">classification</text>
<rect x="53.1" y="118.8" width="11.3" height="52.7" fill="#b3b3b3"/>
<rect x="53.1" y="133.29" width="11.3" height="38.21" fill="#000000"/>
<rect x="53.1" y="135.14" width="11.3" height="36.36" fill="#3b2b80"/>
<rect x="53.1" y="135.14" width="11.3" height="36.36" fill="#1fc7c4"/>
<rect x="53.1" y="118.8" width="11.3" height="52.7" fill="none" stroke="#6e6e6e" stroke-width="0.6"/>
<rect x="65.8" y="118.8" width="11.3" height="52.7" fill="#b3b3b3"/>
<rect x="65.8" y="132.77" width="11.3" height="38.73" fill="#000000"/>
<rect x="65.8" y="134.08" width="11.3" height="37.42" fill="#3b2b80"/>
<rect x="65.8" y="134.08" width="11.3" height="37.42" fill="#1fc7c4"/>
<rect x="65.8" y="118.8" width="11.3" height="52.7" fill="none" stroke="#6e6e6e" stroke-width="0.6"/>
<rect x="79.2" y="118.8" width="11.3" height="52.7" fill="#b3b3b3"/>
<rect x="79.2" y="146.2" width="11.3" height="25.3" fill="#000000"/>
<rect x="79.2" y="146.2" width="11.3" height="25.3" fill="#3b2b80"/>
<rect x="79.2" y="148.84" width="11.3" height="22.66" fill="#1fc7c4"/>
<rect x="79.2" y="118.8" width="11.3" height="52.7" fill="none" stroke="#6e6e6e" stroke-width="0.6"/>
<rect x="91.9" y="118.8" width="11.3" height="52.7" fill="#b3b3b3"/>
<rect x="91.9" y="145.94" width="11.3" height="25.56" fill="#000000"/>
<rect x="91.9" y="146.73" width="11.3" height="24.77" fill="#3b2b80"/>
<rect x="91.9" y="146.73" width="11.3" height="24.77" fill="#1fc7c4"/>
<rect x="91.9" y="118.8" width="11.3" height="52.7" fill="none" stroke="#6e6e6e" stroke-width="0.6"/>
<rect x="105.3" y="118.8" width="11.3" height="52.7" fill="#b3b3b3"/>
<rect x="105.3" y="127.23" width="11.3" height="44.27" fill="#000000"/>
<rect x="105.3" y="171.24" width="11.3" height="0.26" fill="#3b2b80"/>
<rect x="105.3" y="118.8" width="11.3" height="52.7" fill="none" stroke="#6e6e6e" stroke-width="0.6"/>
<rect x="118" y="118.8" width="11.3" height="52.7" fill="#b3b3b3"/>
<rect x="118" y="127.23" width="11.3" height="44.27" fill="#000000"/>
<rect x="118" y="171.24" width="11.3" height="0.26" fill="#3b2b80"/>
<rect x="118" y="118.8" width="11.3" height="52.7" fill="none" stroke="#6e6e6e" stroke-width="0.6"/>
<rect x="131.4" y="118.8" width="11.3" height="52.7" fill="#b3b3b3"/>
<rect x="131.4" y="135.14" width="11.3" height="36.36" fill="#000000"/>
<rect x="131.4" y="165.18" width="11.3" height="6.32" fill="#3b2b80"/>
<rect x="131.4" y="169.92" width="11.3" height="1.58" fill="#1fc7c4"/>
<rect x="131.4" y="118.8" width="11.3" height="52.7" fill="none" stroke="#6e6e6e" stroke-width="0.6"/>
<rect x="144.1" y="118.8" width="11.3" height="52.7" fill="#b3b3b3"/>
<rect x="144.1" y="135.14" width="11.3" height="36.36" fill="#000000"/>
<rect x="144.1" y="166.23" width="11.3" height="5.27" fill="#3b2b80"/>
<rect x="144.1" y="169.92" width="11.3" height="1.58" fill="#1fc7c4"/>
<rect x="144.1" y="118.8" width="11.3" height="52.7" fill="none" stroke="#6e6e6e" stroke-width="0.6"/>
<rect x="157.5" y="118.8" width="11.3" height="52.7" fill="#b3b3b3"/>
<rect x="157.5" y="137.77" width="11.3" height="33.73" fill="#000000"/>
<rect x="157.5" y="156.74" width="11.3" height="14.76" fill="#3b2b80"/>
<rect x="157.5" y="167.28" width="11.3" height="4.22" fill="#1fc7c4"/>
<rect x="157.5" y="118.8" width="11.3" height="52.7" fill="none" stroke="#6e6e6e" stroke-width="0.6"/>
<rect x="170.2" y="118.8" width="11.3" height="52.7" fill="#b3b3b3"/>
<rect x="170.2" y="137.25" width="11.3" height="34.26" fill="#000000"/>
<rect x="170.2" y="155.16" width="11.3" height="16.34" fill="#3b2b80"/>
<rect x="170.2" y="166.49" width="11.3" height="5.01" fill="#1fc7c4"/>
<rect x="170.2" y="118.8" width="11.3" height="52.7" fill="none" stroke="#6e6e6e" stroke-width="0.6"/>
<rect x="183.6" y="118.8" width="11.3" height="52.7" fill="#b3b3b3"/>
<rect x="183.6" y="136.72" width="11.3" height="34.78" fill="#000000"/>
<rect x="183.6" y="156.22" width="11.3" height="15.28" fill="#3b2b80"/>
<rect x="183.6" y="170.71" width="11.3" height="0.79" fill="#1fc7c4"/>
<rect x="183.6" y="118.8" width="11.3" height="52.7" fill="none" stroke="#6e6e6e" stroke-width="0.6"/>
<rect x="196.3" y="118.8" width="11.3" height="52.7" fill="#b3b3b3"/>
<rect x="196.3" y="137.25" width="11.3" height="34.26" fill="#000000"/>
<rect x="196.3" y="157.01" width="11.3" height="14.49" fill="#3b2b80"/>
<rect x="196.3" y="118.8" width="11.3" height="52.7" fill="none" stroke="#6e6e6e" stroke-width="0.6"/>
<rect x="209.7" y="118.8" width="11.3" height="52.7" fill="#b3b3b3"/>
<rect x="209.7" y="146.73" width="11.3" height="24.77" fill="#000000"/>
<rect x="209.7" y="157.8" width="11.3" height="13.7" fill="#3b2b80"/>
<rect x="209.7" y="170.71" width="11.3" height="0.79" fill="#1fc7c4"/>
<rect x="209.7" y="118.8" width="11.3" height="52.7" fill="none" stroke="#6e6e6e" stroke-width="0.6"/>
<rect x="222.4" y="118.8" width="11.3" height="52.7" fill="#b3b3b3"/>
<rect x="222.4" y="146.2" width="11.3" height="25.3" fill="#000000"/>
<rect x="222.4" y="157.01" width="11.3" height="14.49" fill="#3b2b80"/>
<rect x="222.4" y="169.92" width="11.3" height="1.58" fill="#1fc7c4"/>
<rect x="222.4" y="118.8" width="11.3" height="52.7" fill="none" stroke="#6e6e6e" stroke-width="0.6"/>
<rect x="235.8" y="118.8" width="11.3" height="52.7" fill="#b3b3b3"/>
<rect x="235.8" y="140.93" width="11.3" height="30.57" fill="#000000"/>
<rect x="235.8" y="152.79" width="11.3" height="18.71" fill="#3b2b80"/>
<rect x="235.8" y="165.7" width="11.3" height="5.8" fill="#1fc7c4"/>
<rect x="235.8" y="118.8" width="11.3" height="52.7" fill="none" stroke="#6e6e6e" stroke-width="0.6"/>
<rect x="248.5" y="118.8" width="11.3" height="52.7" fill="#b3b3b3"/>
<rect x="248.5" y="140.41" width="11.3" height="31.09" fill="#000000"/>
<rect x="248.5" y="151.47" width="11.3" height="20.03" fill="#3b2b80"/>
<rect x="248.5" y="165.18" width="11.3" height="6.32" fill="#1fc7c4"/>
<rect x="248.5" y="118.8" width="11.3" height="52.7" fill="none" stroke="#6e6e6e" stroke-width="0.6"/>
<rect x="261.9" y="118.8" width="11.3" height="52.7" fill="#b3b3b3"/>
<rect x="261.9" y="138.3" width="11.3" height="33.2" fill="#000000"/>
<rect x="261.9" y="148.84" width="11.3" height="22.66" fill="#3b2b80"/>
<rect x="261.9" y="168.87" width="11.3" height="2.64" fill="#1fc7c4"/>
<rect x="261.9" y="118.8" width="11.3" height="52.7" fill="none" stroke="#6e6e6e" stroke-width="0.6"/>
<rect x="274.6" y="118.8" width="11.3" height="52.7" fill="#b3b3b3"/>
<rect x="274.6" y="138.83" width="11.3" height="32.67" fill="#000000"/>
<rect x="274.6" y="148.31" width="11.3" height="23.19" fill="#3b2b80"/>
<rect x="274.6" y="168.87" width="11.3" height="2.64" fill="#1fc7c4"/>
<rect x="274.6" y="118.8" width="11.3" height="52.7" fill="none" stroke="#6e6e6e" stroke-width="0.6"/>
<rect x="288" y="118.8" width="11.3" height="52.7" fill="#b3b3b3"/>
<rect x="288" y="140.93" width="11.3" height="30.57" fill="#000000"/>
<rect x="288" y="149.89" width="11.3" height="21.61" fill="#3b2b80"/>
<rect x="288" y="169.39" width="11.3" height="2.11" fill="#1fc7c4"/>
<rect x="288" y="118.8" width="11.3" height="52.7" fill="none" stroke="#6e6e6e" stroke-width="0.6"/>
<rect x="300.7" y="118.8" width="11.3" height="52.7" fill="#b3b3b3"/>
<rect x="300.7" y="141.46" width="11.3" height="30.04" fill="#000000"/>
<rect x="300.7" y="150.42" width="11.3" height="21.08" fill="#3b2b80"/>
<rect x="300.7" y="169.39" width="11.3" height="2.11" fill="#1fc7c4"/>
<rect x="300.7" y="118.8" width="11.3" height="52.7" fill="none" stroke="#6e6e6e" stroke-width="0.6"/>
<rect x="314.1" y="118.8" width="11.3" height="52.7" fill="#b3b3b3"/>
<rect x="314.1" y="132.5" width="11.3" height="39" fill="#000000"/>
<rect x="314.1" y="144.62" width="11.3" height="26.88" fill="#3b2b80"/>
<rect x="314.1" y="170.18" width="11.3" height="1.32" fill="#1fc7c4"/>
<rect x="314.1" y="118.8" width="11.3" height="52.7" fill="none" stroke="#6e6e6e" stroke-width="0.6"/>
<rect x="326.8" y="118.8" width="11.3" height="52.7" fill="#b3b3b3"/>
<rect x="326.8" y="132.5" width="11.3" height="39" fill="#000000"/>
<rect x="326.8" y="143.83" width="11.3" height="27.67" fill="#3b2b80"/>
<rect x="326.8" y="170.18" width="11.3" height="1.32" fill="#1fc7c4"/>
<rect x="326.8" y="118.8" width="11.3" height="52.7" fill="none" stroke="#6e6e6e" stroke-width="0.6"/>
<rect x="340.2" y="118.8" width="11.3" height="52.7" fill="#b3b3b3"/>
<rect x="340.2" y="126.18" width="11.3" height="45.32" fill="#000000"/>
<rect x="340.2" y="134.61" width="11.3" height="36.89" fill="#3b2b80"/>
<rect x="340.2" y="118.8" width="11.3" height="52.7" fill="none" stroke="#6e6e6e" stroke-width="0.6"/>
<rect x="352.9" y="118.8" width="11.3" height="52.7" fill="#b3b3b3"/>
<rect x="352.9" y="126.97" width="11.3" height="44.53" fill="#000000"/>
<rect x="352.9" y="135.14" width="11.3" height="36.36" fill="#3b2b80"/>
<rect x="352.9" y="118.8" width="11.3" height="52.7" fill="none" stroke="#6e6e6e" stroke-width="0.6"/>
<rect x="366.3" y="118.8" width="11.3" height="52.7" fill="#b3b3b3"/>
<rect x="366.3" y="123.28" width="11.3" height="48.22" fill="#000000"/>
<rect x="366.3" y="129.87" width="11.3" height="41.63" fill="#3b2b80"/>
<rect x="366.3" y="169.92" width="11.3" height="1.58" fill="#1fc7c4"/>
<rect x="366.3" y="118.8" width="11.3" height="52.7" fill="none" stroke="#6e6e6e" stroke-width="0.6"/>
<rect x="379" y="118.8" width="11.3" height="52.7" fill="#b3b3b3"/>
<rect x="379" y="123.81" width="11.3" height="47.69" fill="#000000"/>
<rect x="379" y="129.87" width="11.3" height="41.63" fill="#3b2b80"/>
<rect x="379" y="169.92" width="11.3" height="1.58" fill="#1fc7c4"/>
<rect x="379" y="118.8" width="11.3" height="52.7" fill="none" stroke="#6e6e6e" stroke-width="0.6"/>
<rect x="392.4" y="118.8" width="11.3" height="52.7" fill="#b3b3b3"/>
<rect x="392.4" y="129.87" width="11.3" height="41.63" fill="#000000"/>
<rect x="392.4" y="138.83" width="11.3" height="32.67" fill="#3b2b80"/>
<rect x="392.4" y="170.45" width="11.3" height="1.05" fill="#1fc7c4"/>
<rect x="392.4" y="118.8" width="11.3" height="52.7" fill="none" stroke="#6e6e6e" stroke-width="0.6"/>
<rect x="405.1" y="118.8" width="11.3" height="52.7" fill="#b3b3b3"/>
<rect x="405.1" y="130.92" width="11.3" height="40.58" fill="#000000"/>
<rect x="405.1" y="138.83" width="11.3" height="32.67" fill="#3b2b80"/>
<rect x="405.1" y="170.45" width="11.3" height="1.05" fill="#1fc7c4"/>
<rect x="405.1" y="118.8" width="11.3" height="52.7" fill="none" stroke="#6e6e6e" stroke-width="0.6"/>
<rect x="418.5" y="118.8" width="11.3" height="52.7" fill="#b3b3b3"/>
<rect x="418.5" y="129.34" width="11.3" height="42.16" fill="#000000"/>
<rect x="418.5" y="135.66" width="11.3" height="35.84" fill="#3b2b80"/>
<rect x="418.5" y="168.87" width="11.3" height="2.64" fill="#1fc7c4"/>
<rect x="418.5" y="118.8" width="11.3" height="52.7" fill="none" stroke="#6e6e6e" stroke-width="0.6"/>
<rect x="431.2" y="118.8" width="11.3" height="52.7" fill="#b3b3b3"/>
<rect x="431.2" y="118.8" width="11.3" height="52.7" fill="#000000"/>
<rect x="431.2" y="130.92" width="11.3" height="40.58" fill="#3b2b80"/>
<rect x="431.2" y="157.01" width="11.3" height="14.49" fill="#1fc7c4"/>
<rect x="431.2" y="118.8" width="11.3" height="52.7" fill="none" stroke="#6e6e6e" stroke-width="0.6"/>
<text x="50.8" y="140" font-size="6.1" text-anchor="end">mutational</text>
<text x="50.8" y="146.6" font-size="6.1" text-anchor="end">signatures</text>
<text x="50.8" y="153.2" font-size="6.1" text-anchor="end">distribution</text>
<line x1="443.5" y1="118.8" x2="443.5" y2="171.5" stroke="#000" stroke-width="0.4"/>
<line x1="443.5" y1="118.8" x2="444.7" y2="118.8" stroke="#000" stroke-width="0.5"/>
<text x="445.5" y="121.2" font-size="6.7">1</text>
<line x1="443.5" y1="145.15" x2="444.7" y2="145.15" stroke="#000" stroke-width="0.5"/>
<text x="445.5" y="147.55" font-size="6.7">0.5</text>
<line x1="443.5" y1="171.5" x2="444.7" y2="171.5" stroke="#000" stroke-width="0.5"/>
<text x="445.5" y="173.9" font-size="6.7">0</text>
<rect x="53.1" y="240.88" width="11.55" height="7.25" fill="#eeeeee"/>
<rect x="65.7" y="240.88" width="11.55" height="7.25" fill="#eeeeee"/>
<rect x="79.2" y="240.88" width="11.55" height="7.25" fill="#eeeeee"/>
<rect x="91.8" y="240.88" width="11.55" height="7.25" fill="#eeeeee"/>
<rect x="105.3" y="240.88" width="11.55" height="7.25" fill="#eeeeee"/>
<rect x="117.9" y="240.88" width="11.55" height="7.25" fill="#eeeeee"/>
<rect x="131.4" y="240.88" width="11.55" height="7.25" fill="#eeeeee"/>
<rect x="144" y="240.88" width="11.55" height="7.25" fill="#eeeeee"/>
<rect x="157.5" y="240.88" width="11.55" height="7.25" fill="#eeeeee"/>
<rect x="170.1" y="240.88" width="11.55" height="7.25" fill="#eeeeee"/>
<rect x="183.6" y="240.88" width="11.55" height="7.25" fill="#eeeeee"/>
<rect x="196.2" y="240.88" width="11.55" height="7.25" fill="#eeeeee"/>
<rect x="209.7" y="240.88" width="11.55" height="7.25" fill="#eeeeee"/>
<rect x="222.3" y="240.88" width="11.55" height="7.25" fill="#eeeeee"/>
<rect x="235.8" y="240.88" width="11.55" height="7.25" fill="#eeeeee"/>
<rect x="248.4" y="240.88" width="11.55" height="7.25" fill="#eeeeee"/>
<rect x="261.9" y="240.88" width="11.55" height="7.25" fill="#eeeeee"/>
<rect x="274.5" y="240.88" width="11.55" height="7.25" fill="#eeeeee"/>
<rect x="288" y="240.88" width="11.55" height="7.25" fill="#eeeeee"/>
<rect x="300.6" y="240.88" width="11.55" height="7.25" fill="#eeeeee"/>
<rect x="314.1" y="240.88" width="11.55" height="7.25" fill="#eeeeee"/>
<rect x="326.7" y="240.88" width="11.55" height="7.25" fill="#eeeeee"/>
<rect x="340.2" y="240.88" width="11.55" height="7.25" fill="#eeeeee"/>
<rect x="352.8" y="240.88" width="11.55" height="7.25" fill="#eeeeee"/>
<rect x="366.3" y="240.88" width="11.55" height="7.25" fill="#eeeeee"/>
<rect x="378.9" y="240.88" width="11.55" height="7.25" fill="#eeeeee"/>
<rect x="392.4" y="240.88" width="11.55" height="7.25" fill="#eeeeee"/>
<rect x="405" y="240.88" width="11.55" height="7.25" fill="#eeeeee"/>
<rect x="418.5" y="240.88" width="11.55" height="7.25" fill="#eeeeee"/>
<rect x="431.1" y="240.88" width="11.55" height="7.25" fill="#eeeeee"/>
<rect x="53.1" y="248.82" width="11.55" height="7.25" fill="#eeeeee"/>
<rect x="65.7" y="248.82" width="11.55" height="7.25" fill="#eeeeee"/>
<rect x="79.2" y="248.82" width="11.55" height="7.25" fill="#eeeeee"/>
<rect x="91.8" y="248.82" width="11.55" height="7.25" fill="#eeeeee"/>
<rect x="105.3" y="248.82" width="11.55" height="7.25" fill="#eeeeee"/>
<rect x="117.9" y="248.82" width="11.55" height="7.25" fill="#eeeeee"/>
<rect x="131.4" y="248.82" width="11.55" height="7.25" fill="#eeeeee"/>
<rect x="144" y="248.82" width="11.55" height="7.25" fill="#eeeeee"/>
<rect x="157.5" y="248.82" width="11.55" height="7.25" fill="#eeeeee"/>
<rect x="170.1" y="248.82" width="11.55" height="7.25" fill="#eeeeee"/>
<rect x="183.6" y="248.82" width="11.55" height="7.25" fill="#eeeeee"/>
<rect x="196.2" y="248.82" width="11.55" height="7.25" fill="#eeeeee"/>
<rect x="209.7" y="248.82" width="11.55" height="7.25" fill="#eeeeee"/>
<rect x="222.3" y="248.82" width="11.55" height="7.25" fill="#eeeeee"/>
<rect x="235.8" y="248.82" width="11.55" height="7.25" fill="#eeeeee"/>
<rect x="248.4" y="248.82" width="11.55" height="7.25" fill="#eeeeee"/>
<rect x="261.9" y="248.82" width="11.55" height="7.25" fill="#eeeeee"/>
<rect x="274.5" y="248.82" width="11.55" height="7.25" fill="#eeeeee"/>
<rect x="288" y="248.82" width="11.55" height="7.25" fill="#eeeeee"/>
<rect x="300.6" y="248.82" width="11.55" height="7.25" fill="#eeeeee"/>
<rect x="314.1" y="248.82" width="11.55" height="7.25" fill="#eeeeee"/>
<rect x="326.7" y="248.82" width="11.55" height="7.25" fill="#eeeeee"/>
<rect x="340.2" y="248.82" width="11.55" height="7.25" fill="#eeeeee"/>
<rect x="352.8" y="248.82" width="11.55" height="7.25" fill="#eeeeee"/>
<rect x="366.3" y="248.82" width="11.55" height="7.25" fill="#eeeeee"/>
<rect x="378.9" y="248.82" width="11.55" height="7.25" fill="#eeeeee"/>
<rect x="392.4" y="248.82" width="11.55" height="7.25" fill="#eeeeee"/>
<rect x="405" y="248.82" width="11.55" height="7.25" fill="#eeeeee"/>
<rect x="418.5" y="248.82" width="11.55" height="7.25" fill="#eeeeee"/>
<rect x="431.1" y="248.82" width="11.55" height="7.25" fill="#eeeeee"/>
<rect x="53.1" y="256.77" width="11.55" height="7.25" fill="#eeeeee"/>
<rect x="65.7" y="256.77" width="11.55" height="7.25" fill="#eeeeee"/>
<rect x="79.2" y="256.77" width="11.55" height="7.25" fill="#eeeeee"/>
<rect x="91.8" y="256.77" width="11.55" height="7.25" fill="#eeeeee"/>
<rect x="105.3" y="256.77" width="11.55" height="7.25" fill="#eeeeee"/>
<rect x="117.9" y="256.77" width="11.55" height="7.25" fill="#eeeeee"/>
<rect x="131.4" y="256.77" width="11.55" height="7.25" fill="#eeeeee"/>
<rect x="144" y="256.77" width="11.55" height="7.25" fill="#eeeeee"/>
<rect x="157.5" y="256.77" width="11.55" height="7.25" fill="#eeeeee"/>
<rect x="170.1" y="256.77" width="11.55" height="7.25" fill="#eeeeee"/>
<rect x="183.6" y="256.77" width="11.55" height="7.25" fill="#eeeeee"/>
<rect x="196.2" y="256.77" width="11.55" height="7.25" fill="#eeeeee"/>
<rect x="209.7" y="256.77" width="11.55" height="7.25" fill="#eeeeee"/>
<rect x="222.3" y="256.77" width="11.55" height="7.25" fill="#eeeeee"/>
<rect x="235.8" y="256.77" width="11.55" height="7.25" fill="#eeeeee"/>
<rect x="248.4" y="256.77" width="11.55" height="7.25" fill="#eeeeee"/>
<rect x="261.9" y="256.77" width="11.55" height="7.25" fill="#eeeeee"/>
<rect x="274.5" y="256.77" width="11.55" height="7.25" fill="#eeeeee"/>
<rect x="288" y="256.77" width="11.55" height="7.25" fill="#eeeeee"/>
<rect x="300.6" y="256.77" width="11.55" height="7.25" fill="#eeeeee"/>
<rect x="314.1" y="256.77" width="11.55" height="7.25" fill="#eeeeee"/>
<rect x="326.7" y="256.77" width="11.55" height="7.25" fill="#eeeeee"/>
<rect x="340.2" y="256.77" width="11.55" height="7.25" fill="#eeeeee"/>
<rect x="352.8" y="256.77" width="11.55" height="7.25" fill="#eeeeee"/>
<rect x="366.3" y="256.77" width="11.55" height="7.25" fill="#eeeeee"/>
<rect x="378.9" y="256.77" width="11.55" height="7.25" fill="#eeeeee"/>
<rect x="392.4" y="256.77" width="11.55" height="7.25" fill="#eeeeee"/>
<rect x="405" y="256.77" width="11.55" height="7.25" fill="#eeeeee"/>
<rect x="418.5" y="256.77" width="11.55" height="7.25" fill="#eeeeee"/>
<rect x="431.1" y="256.77" width="11.55" height="7.25" fill="#eeeeee"/>
<rect x="53.1" y="264.72" width="11.55" height="7.25" fill="#eeeeee"/>
<rect x="65.7" y="264.72" width="11.55" height="7.25" fill="#eeeeee"/>
<rect x="79.2" y="264.72" width="11.55" height="7.25" fill="#eeeeee"/>
<rect x="91.8" y="264.72" width="11.55" height="7.25" fill="#eeeeee"/>
<rect x="105.3" y="264.72" width="11.55" height="7.25" fill="#eeeeee"/>
<rect x="117.9" y="264.72" width="11.55" height="7.25" fill="#eeeeee"/>
<rect x="131.4" y="264.72" width="11.55" height="7.25" fill="#eeeeee"/>
<rect x="144" y="264.72" width="11.55" height="7.25" fill="#eeeeee"/>
<rect x="157.5" y="264.72" width="11.55" height="7.25" fill="#eeeeee"/>
<rect x="170.1" y="264.72" width="11.55" height="7.25" fill="#eeeeee"/>
<rect x="183.6" y="264.72" width="11.55" height="7.25" fill="#eeeeee"/>
<rect x="196.2" y="264.72" width="11.55" height="7.25" fill="#eeeeee"/>
<rect x="209.7" y="264.72" width="11.55" height="7.25" fill="#eeeeee"/>
<rect x="222.3" y="264.72" width="11.55" height="7.25" fill="#eeeeee"/>
<rect x="235.8" y="264.72" width="11.55" height="7.25" fill="#eeeeee"/>
<rect x="248.4" y="264.72" width="11.55" height="7.25" fill="#eeeeee"/>
<rect x="261.9" y="264.72" width="11.55" height="7.25" fill="#eeeeee"/>
<rect x="274.5" y="264.72" width="11.55" height="7.25" fill="#eeeeee"/>
<rect x="288" y="264.72" width="11.55" height="7.25" fill="#eeeeee"/>
<rect x="300.6" y="264.72" width="11.55" height="7.25" fill="#eeeeee"/>
<rect x="314.1" y="264.72" width="11.55" height="7.25" fill="#eeeeee"/>
<rect x="326.7" y="264.72" width="11.55" height="7.25" fill="#eeeeee"/>
<rect x="340.2" y="264.72" width="11.55" height="7.25" fill="#eeeeee"/>
<rect x="352.8" y="264.72" width="11.55" height="7.25" fill="#eeeeee"/>
<rect x="366.3" y="264.72" width="11.55" height="7.25" fill="#eeeeee"/>
<rect x="378.9" y="264.72" width="11.55" height="7.25" fill="#eeeeee"/>
<rect x="392.4" y="264.72" width="11.55" height="7.25" fill="#eeeeee"/>
<rect x="405" y="264.72" width="11.55" height="7.25" fill="#eeeeee"/>
<rect x="418.5" y="264.72" width="11.55" height="7.25" fill="#eeeeee"/>
<rect x="431.1" y="264.72" width="11.55" height="7.25" fill="#eeeeee"/>
<rect x="53.1" y="272.66" width="11.55" height="7.25" fill="#eeeeee"/>
<rect x="65.7" y="272.66" width="11.55" height="7.25" fill="#eeeeee"/>
<rect x="79.2" y="272.66" width="11.55" height="7.25" fill="#eeeeee"/>
<rect x="91.8" y="272.66" width="11.55" height="7.25" fill="#eeeeee"/>
<rect x="105.3" y="272.66" width="11.55" height="7.25" fill="#eeeeee"/>
<rect x="117.9" y="272.66" width="11.55" height="7.25" fill="#eeeeee"/>
<rect x="131.4" y="272.66" width="11.55" height="7.25" fill="#eeeeee"/>
<rect x="144" y="272.66" width="11.55" height="7.25" fill="#eeeeee"/>
<rect x="157.5" y="272.66" width="11.55" height="7.25" fill="#eeeeee"/>
<rect x="170.1" y="272.66" width="11.55" height="7.25" fill="#eeeeee"/>
<rect x="183.6" y="272.66" width="11.55" height="7.25" fill="#eeeeee"/>
<rect x="196.2" y="272.66" width="11.55" height="7.25" fill="#eeeeee"/>
<rect x="209.7" y="272.66" width="11.55" height="7.25" fill="#eeeeee"/>
<rect x="222.3" y="272.66" width="11.55" height="7.25" fill="#eeeeee"/>
<rect x="235.8" y="272.66" width="11.55" height="7.25" fill="#eeeeee"/>
<rect x="248.4" y="272.66" width="11.55" height="7.25" fill="#eeeeee"/>
<rect x="261.9" y="272.66" width="11.55" height="7.25" fill="#eeeeee"/>
<rect x="274.5" y="272.66" width="11.55" height="7.25" fill="#eeeeee"/>
<rect x="288" y="272.66" width="11.55" height="7.25" fill="#eeeeee"/>
<rect x="300.6" y="272.66" width="11.55" height="7.25" fill="#eeeeee"/>
<rect x="314.1" y="272.66" width="11.55" height="7.25" fill="#eeeeee"/>
<rect x="326.7" y="272.66" width="11.55" height="7.25" fill="#eeeeee"/>
<rect x="340.2" y="272.66" width="11.55" height="7.25" fill="#eeeeee"/>
<rect x="352.8" y="272.66" width="11.55" height="7.25" fill="#eeeeee"/>
<rect x="366.3" y="272.66" width="11.55" height="7.25" fill="#eeeeee"/>
<rect x="378.9" y="272.66" width="11.55" height="7.25" fill="#eeeeee"/>
<rect x="392.4" y="272.66" width="11.55" height="7.25" fill="#eeeeee"/>
<rect x="405" y="272.66" width="11.55" height="7.25" fill="#eeeeee"/>
<rect x="418.5" y="272.66" width="11.55" height="7.25" fill="#eeeeee"/>
<rect x="431.1" y="272.66" width="11.55" height="7.25" fill="#eeeeee"/>
<rect x="53.1" y="280.61" width="11.55" height="7.25" fill="#eeeeee"/>
<rect x="65.7" y="280.61" width="11.55" height="7.25" fill="#eeeeee"/>
<rect x="79.2" y="280.61" width="11.55" height="7.25" fill="#eeeeee"/>
<rect x="91.8" y="280.61" width="11.55" height="7.25" fill="#eeeeee"/>
<rect x="105.3" y="280.61" width="11.55" height="7.25" fill="#eeeeee"/>
<rect x="117.9" y="280.61" width="11.55" height="7.25" fill="#eeeeee"/>
<rect x="131.4" y="280.61" width="11.55" height="7.25" fill="#eeeeee"/>
<rect x="144" y="280.61" width="11.55" height="7.25" fill="#eeeeee"/>
<rect x="157.5" y="280.61" width="11.55" height="7.25" fill="#eeeeee"/>
<rect x="170.1" y="280.61" width="11.55" height="7.25" fill="#eeeeee"/>
<rect x="183.6" y="280.61" width="11.55" height="7.25" fill="#eeeeee"/>
<rect x="196.2" y="280.61" width="11.55" height="7.25" fill="#eeeeee"/>
<rect x="209.7" y="280.61" width="11.55" height="7.25" fill="#eeeeee"/>
<rect x="222.3" y="280.61" width="11.55" height="7.25" fill="#eeeeee"/>
<rect x="235.8" y="280.61" width="11.55" height="7.25" fill="#eeeeee"/>
<rect x="248.4" y="280.61" width="11.55" height="7.25" fill="#eeeeee"/>
<rect x="261.9" y="280.61" width="11.55" height="7.25" fill="#eeeeee"/>
<rect x="274.5" y="280.61" width="11.55" height="7.25" fill="#eeeeee"/>
<rect x="288" y="280.61" width="11.55" height="7.25" fill="#eeeeee"/>
<rect x="300.6" y="280.61" width="11.55" height="7.25" fill="#eeeeee"/>
<rect x="314.1" y="280.61" width="11.55" height="7.25" fill="#eeeeee"/>
<rect x="326.7" y="280.61" width="11.55" height="7.25" fill="#eeeeee"/>
<rect x="340.2" y="280.61" width="11.55" height="7.25" fill="#eeeeee"/>
<rect x="352.8" y="280.61" width="11.55" height="7.25" fill="#eeeeee"/>
<rect x="366.3" y="280.61" width="11.55" height="7.25" fill="#eeeeee"/>
<rect x="378.9" y="280.61" width="11.55" height="7.25" fill="#eeeeee"/>
<rect x="392.4" y="280.61" width="11.55" height="7.25" fill="#eeeeee"/>
<rect x="405" y="280.61" width="11.55" height="7.25" fill="#eeeeee"/>
<rect x="418.5" y="280.61" width="11.55" height="7.25" fill="#eeeeee"/>
<rect x="431.1" y="280.61" width="11.55" height="7.25" fill="#eeeeee"/>
<rect x="53.1" y="288.56" width="11.55" height="7.25" fill="#eeeeee"/>
<rect x="65.7" y="288.56" width="11.55" height="7.25" fill="#eeeeee"/>
<rect x="79.2" y="288.56" width="11.55" height="7.25" fill="#eeeeee"/>
<rect x="91.8" y="288.56" width="11.55" height="7.25" fill="#eeeeee"/>
<rect x="105.3" y="288.56" width="11.55" height="7.25" fill="#eeeeee"/>
<rect x="117.9" y="288.56" width="11.55" height="7.25" fill="#eeeeee"/>
<rect x="131.4" y="288.56" width="11.55" height="7.25" fill="#eeeeee"/>
<rect x="144" y="288.56" width="11.55" height="7.25" fill="#eeeeee"/>
<rect x="157.5" y="288.56" width="11.55" height="7.25" fill="#eeeeee"/>
<rect x="170.1" y="288.56" width="11.55" height="7.25" fill="#eeeeee"/>
<rect x="183.6" y="288.56" width="11.55" height="7.25" fill="#eeeeee"/>
<rect x="196.2" y="288.56" width="11.55" height="7.25" fill="#eeeeee"/>
<rect x="209.7" y="288.56" width="11.55" height="7.25" fill="#eeeeee"/>
<rect x="222.3" y="288.56" width="11.55" height="7.25" fill="#eeeeee"/>
<rect x="235.8" y="288.56" width="11.55" height="7.25" fill="#eeeeee"/>
<rect x="248.4" y="288.56" width="11.55" height="7.25" fill="#eeeeee"/>
<rect x="261.9" y="288.56" width="11.55" height="7.25" fill="#eeeeee"/>
<rect x="274.5" y="288.56" width="11.55" height="7.25" fill="#eeeeee"/>
<rect x="288" y="288.56" width="11.55" height="7.25" fill="#eeeeee"/>
<rect x="300.6" y="288.56" width="11.55" height="7.25" fill="#eeeeee"/>
<rect x="314.1" y="288.56" width="11.55" height="7.25" fill="#eeeeee"/>
<rect x="326.7" y="288.56" width="11.55" height="7.25" fill="#eeeeee"/>
<rect x="340.2" y="288.56" width="11.55" height="7.25" fill="#eeeeee"/>
<rect x="352.8" y="288.56" width="11.55" height="7.25" fill="#eeeeee"/>
<rect x="366.3" y="288.56" width="11.55" height="7.25" fill="#eeeeee"/>
<rect x="378.9" y="288.56" width="11.55" height="7.25" fill="#eeeeee"/>
<rect x="392.4" y="288.56" width="11.55" height="7.25" fill="#eeeeee"/>
<rect x="405" y="288.56" width="11.55" height="7.25" fill="#eeeeee"/>
<rect x="418.5" y="288.56" width="11.55" height="7.25" fill="#eeeeee"/>
<rect x="431.1" y="288.56" width="11.55" height="7.25" fill="#eeeeee"/>
<rect x="53.1" y="296.5" width="11.55" height="7.25" fill="#eeeeee"/>
<rect x="65.7" y="296.5" width="11.55" height="7.25" fill="#eeeeee"/>
<rect x="79.2" y="296.5" width="11.55" height="7.25" fill="#eeeeee"/>
<rect x="91.8" y="296.5" width="11.55" height="7.25" fill="#eeeeee"/>
<rect x="105.3" y="296.5" width="11.55" height="7.25" fill="#eeeeee"/>
<rect x="117.9" y="296.5" width="11.55" height="7.25" fill="#eeeeee"/>
<rect x="131.4" y="296.5" width="11.55" height="7.25" fill="#eeeeee"/>
<rect x="144" y="296.5" width="11.55" height="7.25" fill="#eeeeee"/>
<rect x="157.5" y="296.5" width="11.55" height="7.25" fill="#eeeeee"/>
<rect x="170.1" y="296.5" width="11.55" height="7.25" fill="#eeeeee"/>
<rect x="183.6" y="296.5" width="11.55" height="7.25" fill="#eeeeee"/>
<rect x="196.2" y="296.5" width="11.55" height="7.25" fill="#eeeeee"/>
<rect x="209.7" y="296.5" width="11.55" height="7.25" fill="#eeeeee"/>
<rect x="222.3" y="296.5" width="11.55" height="7.25" fill="#eeeeee"/>
<rect x="235.8" y="296.5" width="11.55" height="7.25" fill="#eeeeee"/>
<rect x="248.4" y="296.5" width="11.55" height="7.25" fill="#eeeeee"/>
<rect x="261.9" y="296.5" width="11.55" height="7.25" fill="#eeeeee"/>
<rect x="274.5" y="296.5" width="11.55" height="7.25" fill="#eeeeee"/>
<rect x="288" y="296.5" width="11.55" height="7.25" fill="#eeeeee"/>
<rect x="300.6" y="296.5" width="11.55" height="7.25" fill="#eeeeee"/>
<rect x="314.1" y="296.5" width="11.55" height="7.25" fill="#eeeeee"/>
<rect x="326.7" y="296.5" width="11.55" height="7.25" fill="#eeeeee"/>
<rect x="340.2" y="296.5" width="11.55" height="7.25" fill="#eeeeee"/>
<rect x="352.8" y="296.5" width="11.55" height="7.25" fill="#eeeeee"/>
<rect x="366.3" y="296.5" width="11.55" height="7.25" fill="#eeeeee"/>
<rect x="378.9" y="296.5" width="11.55" height="7.25" fill="#eeeeee"/>
<rect x="392.4" y="296.5" width="11.55" height="7.25" fill="#eeeeee"/>
<rect x="405" y="296.5" width="11.55" height="7.25" fill="#eeeeee"/>
<rect x="418.5" y="296.5" width="11.55" height="7.25" fill="#eeeeee"/>
<rect x="431.1" y="296.5" width="11.55" height="7.25" fill="#eeeeee"/>
<rect x="53.1" y="304.45" width="11.55" height="7.25" fill="#eeeeee"/>
<rect x="65.7" y="304.45" width="11.55" height="7.25" fill="#eeeeee"/>
<rect x="79.2" y="304.45" width="11.55" height="7.25" fill="#eeeeee"/>
<rect x="91.8" y="304.45" width="11.55" height="7.25" fill="#eeeeee"/>
<rect x="105.3" y="304.45" width="11.55" height="7.25" fill="#eeeeee"/>
<rect x="117.9" y="304.45" width="11.55" height="7.25" fill="#eeeeee"/>
<rect x="131.4" y="304.45" width="11.55" height="7.25" fill="#eeeeee"/>
<rect x="144" y="304.45" width="11.55" height="7.25" fill="#eeeeee"/>
<rect x="157.5" y="304.45" width="11.55" height="7.25" fill="#eeeeee"/>
<rect x="170.1" y="304.45" width="11.55" height="7.25" fill="#eeeeee"/>
<rect x="183.6" y="304.45" width="11.55" height="7.25" fill="#eeeeee"/>
<rect x="196.2" y="304.45" width="11.55" height="7.25" fill="#eeeeee"/>
<rect x="209.7" y="304.45" width="11.55" height="7.25" fill="#eeeeee"/>
<rect x="222.3" y="304.45" width="11.55" height="7.25" fill="#eeeeee"/>
<rect x="235.8" y="304.45" width="11.55" height="7.25" fill="#eeeeee"/>
<rect x="248.4" y="304.45" width="11.55" height="7.25" fill="#eeeeee"/>
<rect x="261.9" y="304.45" width="11.55" height="7.25" fill="#eeeeee"/>
<rect x="274.5" y="304.45" width="11.55" height="7.25" fill="#eeeeee"/>
<rect x="288" y="304.45" width="11.55" height="7.25" fill="#eeeeee"/>
<rect x="300.6" y="304.45" width="11.55" height="7.25" fill="#eeeeee"/>
<rect x="314.1" y="304.45" width="11.55" height="7.25" fill="#eeeeee"/>
<rect x="326.7" y="304.45" width="11.55" height="7.25" fill="#eeeeee"/>
<rect x="340.2" y="304.45" width="11.55" height="7.25" fill="#eeeeee"/>
<rect x="352.8" y="304.45" width="11.55" height="7.25" fill="#eeeeee"/>
<rect x="366.3" y="304.45" width="11.55" height="7.25" fill="#eeeeee"/>
<rect x="378.9" y="304.45" width="11.55" height="7.25" fill="#eeeeee"/>
<rect x="392.4" y="304.45" width="11.55" height="7.25" fill="#eeeeee"/>
<rect x="405" y="304.45" width="11.55" height="7.25" fill="#eeeeee"/>
<rect x="418.5" y="304.45" width="11.55" height="7.25" fill="#eeeeee"/>
<rect x="431.1" y="304.45" width="11.55" height="7.25" fill="#eeeeee"/>
<rect x="53.1" y="312.4" width="11.55" height="7.25" fill="#eeeeee"/>
<rect x="65.7" y="312.4" width="11.55" height="7.25" fill="#eeeeee"/>
<rect x="79.2" y="312.4" width="11.55" height="7.25" fill="#eeeeee"/>
<rect x="91.8" y="312.4" width="11.55" height="7.25" fill="#eeeeee"/>
<rect x="105.3" y="312.4" width="11.55" height="7.25" fill="#eeeeee"/>
<rect x="117.9" y="312.4" width="11.55" height="7.25" fill="#eeeeee"/>
<rect x="131.4" y="312.4" width="11.55" height="7.25" fill="#eeeeee"/>
<rect x="144" y="312.4" width="11.55" height="7.25" fill="#eeeeee"/>
<rect x="157.5" y="312.4" width="11.55" height="7.25" fill="#eeeeee"/>
<rect x="170.1" y="312.4" width="11.55" height="7.25" fill="#eeeeee"/>
<rect x="183.6" y="312.4" width="11.55" height="7.25" fill="#eeeeee"/>
<rect x="196.2" y="312.4" width="11.55" height="7.25" fill="#eeeeee"/>
<rect x="209.7" y="312.4" width="11.55" height="7.25" fill="#eeeeee"/>
<rect x="222.3" y="312.4" width="11.55" height="7.25" fill="#eeeeee"/>
<rect x="235.8" y="312.4" width="11.55" height="7.25" fill="#eeeeee"/>
<rect x="248.4" y="312.4" width="11.55" height="7.25" fill="#eeeeee"/>
<rect x="261.9" y="312.4" width="11.55" height="7.25" fill="#eeeeee"/>
<rect x="274.5" y="312.4" width="11.55" height="7.25" fill="#eeeeee"/>
<rect x="288" y="312.4" width="11.55" height="7.25" fill="#eeeeee"/>
<rect x="300.6" y="312.4" width="11.55" height="7.25" fill="#eeeeee"/>
<rect x="314.1" y="312.4" width="11.55" height="7.25" fill="#eeeeee"/>
<rect x="326.7" y="312.4" width="11.55" height="7.25" fill="#eeeeee"/>
<rect x="340.2" y="312.4" width="11.55" height="7.25" fill="#eeeeee"/>
<rect x="352.8" y="312.4" width="11.55" height="7.25" fill="#eeeeee"/>
<rect x="366.3" y="312.4" width="11.55" height="7.25" fill="#eeeeee"/>
<rect x="378.9" y="312.4" width="11.55" height="7.25" fill="#eeeeee"/>
<rect x="392.4" y="312.4" width="11.55" height="7.25" fill="#eeeeee"/>
<rect x="405" y="312.4" width="11.55" height="7.25" fill="#eeeeee"/>
<rect x="418.5" y="312.4" width="11.55" height="7.25" fill="#eeeeee"/>
<rect x="431.1" y="312.4" width="11.55" height="7.25" fill="#eeeeee"/>
<rect x="53.1" y="320.35" width="11.55" height="7.25" fill="#eeeeee"/>
<rect x="65.7" y="320.35" width="11.55" height="7.25" fill="#eeeeee"/>
<rect x="79.2" y="320.35" width="11.55" height="7.25" fill="#eeeeee"/>
<rect x="91.8" y="320.35" width="11.55" height="7.25" fill="#eeeeee"/>
<rect x="105.3" y="320.35" width="11.55" height="7.25" fill="#eeeeee"/>
<rect x="117.9" y="320.35" width="11.55" height="7.25" fill="#eeeeee"/>
<rect x="131.4" y="320.35" width="11.55" height="7.25" fill="#eeeeee"/>
<rect x="144" y="320.35" width="11.55" height="7.25" fill="#eeeeee"/>
<rect x="157.5" y="320.35" width="11.55" height="7.25" fill="#eeeeee"/>
<rect x="170.1" y="320.35" width="11.55" height="7.25" fill="#eeeeee"/>
<rect x="183.6" y="320.35" width="11.55" height="7.25" fill="#eeeeee"/>
<rect x="196.2" y="320.35" width="11.55" height="7.25" fill="#eeeeee"/>
<rect x="209.7" y="320.35" width="11.55" height="7.25" fill="#eeeeee"/>
<rect x="222.3" y="320.35" width="11.55" height="7.25" fill="#eeeeee"/>
<rect x="235.8" y="320.35" width="11.55" height="7.25" fill="#eeeeee"/>
<rect x="248.4" y="320.35" width="11.55" height="7.25" fill="#eeeeee"/>
<rect x="261.9" y="320.35" width="11.55" height="7.25" fill="#eeeeee"/>
<rect x="274.5" y="320.35" width="11.55" height="7.25" fill="#eeeeee"/>
<rect x="288" y="320.35" width="11.55" height="7.25" fill="#eeeeee"/>
<rect x="300.6" y="320.35" width="11.55" height="7.25" fill="#eeeeee"/>
<rect x="314.1" y="320.35" width="11.55" height="7.25" fill="#eeeeee"/>
<rect x="326.7" y="320.35" width="11.55" height="7.25" fill="#eeeeee"/>
<rect x="340.2" y="320.35" width="11.55" height="7.25" fill="#eeeeee"/>
<rect x="352.8" y="320.35" width="11.55" height="7.25" fill="#eeeeee"/>
<rect x="366.3" y="320.35" width="11.55" height="7.25" fill="#eeeeee"/>
<rect x="378.9" y="320.35" width="11.55" height="7.25" fill="#eeeeee"/>
<rect x="392.4" y="320.35" width="11.55" height="7.25" fill="#eeeeee"/>
<rect x="405" y="320.35" width="11.55" height="7.25" fill="#eeeeee"/>
<rect x="418.5" y="320.35" width="11.55" height="7.25" fill="#eeeeee"/>
<rect x="431.1" y="320.35" width="11.55" height="7.25" fill="#eeeeee"/>
<rect x="53.1" y="328.29" width="11.55" height="7.25" fill="#eeeeee"/>
<rect x="65.7" y="328.29" width="11.55" height="7.25" fill="#eeeeee"/>
<rect x="79.2" y="328.29" width="11.55" height="7.25" fill="#eeeeee"/>
<rect x="91.8" y="328.29" width="11.55" height="7.25" fill="#eeeeee"/>
<rect x="105.3" y="328.29" width="11.55" height="7.25" fill="#eeeeee"/>
<rect x="117.9" y="328.29" width="11.55" height="7.25" fill="#eeeeee"/>
<rect x="131.4" y="328.29" width="11.55" height="7.25" fill="#eeeeee"/>
<rect x="144" y="328.29" width="11.55" height="7.25" fill="#eeeeee"/>
<rect x="157.5" y="328.29" width="11.55" height="7.25" fill="#eeeeee"/>
<rect x="170.1" y="328.29" width="11.55" height="7.25" fill="#eeeeee"/>
<rect x="183.6" y="328.29" width="11.55" height="7.25" fill="#eeeeee"/>
<rect x="196.2" y="328.29" width="11.55" height="7.25" fill="#eeeeee"/>
<rect x="209.7" y="328.29" width="11.55" height="7.25" fill="#eeeeee"/>
<rect x="222.3" y="328.29" width="11.55" height="7.25" fill="#eeeeee"/>
<rect x="235.8" y="328.29" width="11.55" height="7.25" fill="#eeeeee"/>
<rect x="248.4" y="328.29" width="11.55" height="7.25" fill="#eeeeee"/>
<rect x="261.9" y="328.29" width="11.55" height="7.25" fill="#eeeeee"/>
<rect x="274.5" y="328.29" width="11.55" height="7.25" fill="#eeeeee"/>
<rect x="288" y="328.29" width="11.55" height="7.25" fill="#eeeeee"/>
<rect x="300.6" y="328.29" width="11.55" height="7.25" fill="#eeeeee"/>
<rect x="314.1" y="328.29" width="11.55" height="7.25" fill="#eeeeee"/>
<rect x="326.7" y="328.29" width="11.55" height="7.25" fill="#eeeeee"/>
<rect x="340.2" y="328.29" width="11.55" height="7.25" fill="#eeeeee"/>
<rect x="352.8" y="328.29" width="11.55" height="7.25" fill="#eeeeee"/>
<rect x="366.3" y="328.29" width="11.55" height="7.25" fill="#eeeeee"/>
<rect x="378.9" y="328.29" width="11.55" height="7.25" fill="#eeeeee"/>
<rect x="392.4" y="328.29" width="11.55" height="7.25" fill="#eeeeee"/>
<rect x="405" y="328.29" width="11.55" height="7.25" fill="#eeeeee"/>
<rect x="418.5" y="328.29" width="11.55" height="7.25" fill="#eeeeee"/>
<rect x="431.1" y="328.29" width="11.55" height="7.25" fill="#eeeeee"/>
<rect x="53.1" y="336.24" width="11.55" height="7.25" fill="#eeeeee"/>
<rect x="65.7" y="336.24" width="11.55" height="7.25" fill="#eeeeee"/>
<rect x="79.2" y="336.24" width="11.55" height="7.25" fill="#eeeeee"/>
<rect x="91.8" y="336.24" width="11.55" height="7.25" fill="#eeeeee"/>
<rect x="105.3" y="336.24" width="11.55" height="7.25" fill="#eeeeee"/>
<rect x="117.9" y="336.24" width="11.55" height="7.25" fill="#eeeeee"/>
<rect x="131.4" y="336.24" width="11.55" height="7.25" fill="#eeeeee"/>
<rect x="144" y="336.24" width="11.55" height="7.25" fill="#eeeeee"/>
<rect x="157.5" y="336.24" width="11.55" height="7.25" fill="#eeeeee"/>
<rect x="170.1" y="336.24" width="11.55" height="7.25" fill="#eeeeee"/>
<rect x="183.6" y="336.24" width="11.55" height="7.25" fill="#eeeeee"/>
<rect x="196.2" y="336.24" width="11.55" height="7.25" fill="#eeeeee"/>
<rect x="209.7" y="336.24" width="11.55" height="7.25" fill="#eeeeee"/>
<rect x="222.3" y="336.24" width="11.55" height="7.25" fill="#eeeeee"/>
<rect x="235.8" y="336.24" width="11.55" height="7.25" fill="#eeeeee"/>
<rect x="248.4" y="336.24" width="11.55" height="7.25" fill="#eeeeee"/>
<rect x="261.9" y="336.24" width="11.55" height="7.25" fill="#eeeeee"/>
<rect x="274.5" y="336.24" width="11.55" height="7.25" fill="#eeeeee"/>
<rect x="288" y="336.24" width="11.55" height="7.25" fill="#eeeeee"/>
<rect x="300.6" y="336.24" width="11.55" height="7.25" fill="#eeeeee"/>
<rect x="314.1" y="336.24" width="11.55" height="7.25" fill="#eeeeee"/>
<rect x="326.7" y="336.24" width="11.55" height="7.25" fill="#eeeeee"/>
<rect x="340.2" y="336.24" width="11.55" height="7.25" fill="#eeeeee"/>
<rect x="352.8" y="336.24" width="11.55" height="7.25" fill="#eeeeee"/>
<rect x="366.3" y="336.24" width="11.55" height="7.25" fill="#eeeeee"/>
<rect x="378.9" y="336.24" width="11.55" height="7.25" fill="#eeeeee"/>
<rect x="392.4" y="336.24" width="11.55" height="7.25" fill="#eeeeee"/>
<rect x="405" y="336.24" width="11.55" height="7.25" fill="#eeeeee"/>
<rect x="418.5" y="336.24" width="11.55" height="7.25" fill="#eeeeee"/>
<rect x="431.1" y="336.24" width="11.55" height="7.25" fill="#eeeeee"/>
<rect x="53.1" y="344.19" width="11.55" height="7.25" fill="#eeeeee"/>
<rect x="65.7" y="344.19" width="11.55" height="7.25" fill="#eeeeee"/>
<rect x="79.2" y="344.19" width="11.55" height="7.25" fill="#eeeeee"/>
<rect x="91.8" y="344.19" width="11.55" height="7.25" fill="#eeeeee"/>
<rect x="105.3" y="344.19" width="11.55" height="7.25" fill="#eeeeee"/>
<rect x="117.9" y="344.19" width="11.55" height="7.25" fill="#eeeeee"/>
<rect x="131.4" y="344.19" width="11.55" height="7.25" fill="#eeeeee"/>
<rect x="144" y="344.19" width="11.55" height="7.25" fill="#eeeeee"/>
<rect x="157.5" y="344.19" width="11.55" height="7.25" fill="#eeeeee"/>
<rect x="170.1" y="344.19" width="11.55" height="7.25" fill="#eeeeee"/>
<rect x="183.6" y="344.19" width="11.55" height="7.25" fill="#eeeeee"/>
<rect x="196.2" y="344.19" width="11.55" height="7.25" fill="#eeeeee"/>
<rect x="209.7" y="344.19" width="11.55" height="7.25" fill="#eeeeee"/>
<rect x="222.3" y="344.19" width="11.55" height="7.25" fill="#eeeeee"/>
<rect x="235.8" y="344.19" width="11.55" height="7.25" fill="#eeeeee"/>
<rect x="248.4" y="344.19" width="11.55" height="7.25" fill="#eeeeee"/>
<rect x="261.9" y="344.19" width="11.55" height="7.25" fill="#eeeeee"/>
<rect x="274.5" y="344.19" width="11.55" height="7.25" fill="#eeeeee"/>
<rect x="288" y="344.19" width="11.55" height="7.25" fill="#eeeeee"/>
<rect x="300.6" y="344.19" width="11.55" height="7.25" fill="#eeeeee"/>
<rect x="314.1" y="344.19" width="11.55" height="7.25" fill="#eeeeee"/>
<rect x="326.7" y="344.19" width="11.55" height="7.25" fill="#eeeeee"/>
<rect x="340.2" y="344.19" width="11.55" height="7.25" fill="#eeeeee"/>
<rect x="352.8" y="344.19" width="11.55" height="7.25" fill="#eeeeee"/>
<rect x="366.3" y="344.19" width="11.55" height="7.25" fill="#eeeeee"/>
<rect x="378.9" y="344.19" width="11.55" height="7.25" fill="#eeeeee"/>
<rect x="392.4" y="344.19" width="11.55" height="7.25" fill="#eeeeee"/>
<rect x="405" y="344.19" width="11.55" height="7.25" fill="#eeeeee"/>
<rect x="418.5" y="344.19" width="11.55" height="7.25" fill="#eeeeee"/>
<rect x="431.1" y="344.19" width="11.55" height="7.25" fill="#eeeeee"/>
<rect x="53.1" y="352.13" width="11.55" height="7.25" fill="#eeeeee"/>
<rect x="65.7" y="352.13" width="11.55" height="7.25" fill="#eeeeee"/>
<rect x="79.2" y="352.13" width="11.55" height="7.25" fill="#eeeeee"/>
<rect x="91.8" y="352.13" width="11.55" height="7.25" fill="#eeeeee"/>
<rect x="105.3" y="352.13" width="11.55" height="7.25" fill="#eeeeee"/>
<rect x="117.9" y="352.13" width="11.55" height="7.25" fill="#eeeeee"/>
<rect x="131.4" y="352.13" width="11.55" height="7.25" fill="#eeeeee"/>
<rect x="144" y="352.13" width="11.55" height="7.25" fill="#eeeeee"/>
<rect x="157.5" y="352.13" width="11.55" height="7.25" fill="#eeeeee"/>
<rect x="170.1" y="352.13" width="11.55" height="7.25" fill="#eeeeee"/>
<rect x="183.6" y="352.13" width="11.55" height="7.25" fill="#eeeeee"/>
<rect x="196.2" y="352.13" width="11.55" height="7.25" fill="#eeeeee"/>
<rect x="209.7" y="352.13" width="11.55" height="7.25" fill="#eeeeee"/>
<rect x="222.3" y="352.13" width="11.55" height="7.25" fill="#eeeeee"/>
<rect x="235.8" y="352.13" width="11.55" height="7.25" fill="#eeeeee"/>
<rect x="248.4" y="352.13" width="11.55" height="7.25" fill="#eeeeee"/>
<rect x="261.9" y="352.13" width="11.55" height="7.25" fill="#eeeeee"/>
<rect x="274.5" y="352.13" width="11.55" height="7.25" fill="#eeeeee"/>
<rect x="288" y="352.13" width="11.55" height="7.25" fill="#eeeeee"/>
<rect x="300.6" y="352.13" width="11.55" height="7.25" fill="#eeeeee"/>
<rect x="314.1" y="352.13" width="11.55" height="7.25" fill="#eeeeee"/>
<rect x="326.7" y="352.13" width="11.55" height="7.25" fill="#eeeeee"/>
<rect x="340.2" y="352.13" width="11.55" height="7.25" fill="#eeeeee"/>
<rect x="352.8" y="352.13" width="11.55" height="7.25" fill="#eeeeee"/>
<rect x="366.3" y="352.13" width="11.55" height="7.25" fill="#eeeeee"/>
<rect x="378.9" y="352.13" width="11.55" height="7.25" fill="#eeeeee"/>
<rect x="392.4" y="352.13" width="11.55" height="7.25" fill="#eeeeee"/>
<rect x="405" y="352.13" width="11.55" height="7.25" fill="#eeeeee"/>
<rect x="418.5" y="352.13" width="11.55" height="7.25" fill="#eeeeee"/>
<rect x="431.1" y="352.13" width="11.55" height="7.25" fill="#eeeeee"/>
<rect x="53.1" y="360.08" width="11.55" height="7.25" fill="#eeeeee"/>
<rect x="65.7" y="360.08" width="11.55" height="7.25" fill="#eeeeee"/>
<rect x="79.2" y="360.08" width="11.55" height="7.25" fill="#eeeeee"/>
<rect x="91.8" y="360.08" width="11.55" height="7.25" fill="#eeeeee"/>
<rect x="105.3" y="360.08" width="11.55" height="7.25" fill="#eeeeee"/>
<rect x="117.9" y="360.08" width="11.55" height="7.25" fill="#eeeeee"/>
<rect x="131.4" y="360.08" width="11.55" height="7.25" fill="#eeeeee"/>
<rect x="144" y="360.08" width="11.55" height="7.25" fill="#eeeeee"/>
<rect x="157.5" y="360.08" width="11.55" height="7.25" fill="#eeeeee"/>
<rect x="170.1" y="360.08" width="11.55" height="7.25" fill="#eeeeee"/>
<rect x="183.6" y="360.08" width="11.55" height="7.25" fill="#eeeeee"/>
<rect x="196.2" y="360.08" width="11.55" height="7.25" fill="#eeeeee"/>
<rect x="209.7" y="360.08" width="11.55" height="7.25" fill="#eeeeee"/>
<rect x="222.3" y="360.08" width="11.55" height="7.25" fill="#eeeeee"/>
<rect x="235.8" y="360.08" width="11.55" height="7.25" fill="#eeeeee"/>
<rect x="248.4" y="360.08" width="11.55" height="7.25" fill="#eeeeee"/>
<rect x="261.9" y="360.08" width="11.55" height="7.25" fill="#eeeeee"/>
<rect x="274.5" y="360.08" width="11.55" height="7.25" fill="#eeeeee"/>
<rect x="288" y="360.08" width="11.55" height="7.25" fill="#eeeeee"/>
<rect x="300.6" y="360.08" width="11.55" height="7.25" fill="#eeeeee"/>
<rect x="314.1" y="360.08" width="11.55" height="7.25" fill="#eeeeee"/>
<rect x="326.7" y="360.08" width="11.55" height="7.25" fill="#eeeeee"/>
<rect x="340.2" y="360.08" width="11.55" height="7.25" fill="#eeeeee"/>
<rect x="352.8" y="360.08" width="11.55" height="7.25" fill="#eeeeee"/>
<rect x="366.3" y="360.08" width="11.55" height="7.25" fill="#eeeeee"/>
<rect x="378.9" y="360.08" width="11.55" height="7.25" fill="#eeeeee"/>
<rect x="392.4" y="360.08" width="11.55" height="7.25" fill="#eeeeee"/>
<rect x="405" y="360.08" width="11.55" height="7.25" fill="#eeeeee"/>
<rect x="418.5" y="360.08" width="11.55" height="7.25" fill="#eeeeee"/>
<rect x="431.1" y="360.08" width="11.55" height="7.25" fill="#eeeeee"/>
<rect x="53.1" y="368.03" width="11.55" height="7.25" fill="#eeeeee"/>
<rect x="65.7" y="368.03" width="11.55" height="7.25" fill="#eeeeee"/>
<rect x="79.2" y="368.03" width="11.55" height="7.25" fill="#eeeeee"/>
<rect x="91.8" y="368.03" width="11.55" height="7.25" fill="#eeeeee"/>
<rect x="105.3" y="368.03" width="11.55" height="7.25" fill="#eeeeee"/>
<rect x="117.9" y="368.03" width="11.55" height="7.25" fill="#eeeeee"/>
<rect x="131.4" y="368.03" width="11.55" height="7.25" fill="#eeeeee"/>
<rect x="144" y="368.03" width="11.55" height="7.25" fill="#eeeeee"/>
<rect x="157.5" y="368.03" width="11.55" height="7.25" fill="#eeeeee"/>
<rect x="170.1" y="368.03" width="11.55" height="7.25" fill="#eeeeee"/>
<rect x="183.6" y="368.03" width="11.55" height="7.25" fill="#eeeeee"/>
<rect x="196.2" y="368.03" width="11.55" height="7.25" fill="#eeeeee"/>
<rect x="209.7" y="368.03" width="11.55" height="7.25" fill="#eeeeee"/>
<rect x="222.3" y="368.03" width="11.55" height="7.25" fill="#eeeeee"/>
<rect x="235.8" y="368.03" width="11.55" height="7.25" fill="#eeeeee"/>
<rect x="248.4" y="368.03" width="11.55" height="7.25" fill="#eeeeee"/>
<rect x="261.9" y="368.03" width="11.55" height="7.25" fill="#eeeeee"/>
<rect x="274.5" y="368.03" width="11.55" height="7.25" fill="#eeeeee"/>
<rect x="288" y="368.03" width="11.55" height="7.25" fill="#eeeeee"/>
<rect x="300.6" y="368.03" width="11.55" height="7.25" fill="#eeeeee"/>
<rect x="314.1" y="368.03" width="11.55" height="7.25" fill="#eeeeee"/>
<rect x="326.7" y="368.03" width="11.55" height="7.25" fill="#eeeeee"/>
<rect x="340.2" y="368.03" width="11.55" height="7.25" fill="#eeeeee"/>
<rect x="352.8" y="368.03" width="11.55" height="7.25" fill="#eeeeee"/>
<rect x="366.3" y="368.03" width="11.55" height="7.25" fill="#eeeeee"/>
<rect x="378.9" y="368.03" width="11.55" height="7.25" fill="#eeeeee"/>
<rect x="392.4" y="368.03" width="11.55" height="7.25" fill="#eeeeee"/>
<rect x="405" y="368.03" width="11.55" height="7.25" fill="#eeeeee"/>
<rect x="418.5" y="368.03" width="11.55" height="7.25" fill="#eeeeee"/>
<rect x="431.1" y="368.03" width="11.55" height="7.25" fill="#eeeeee"/>
<rect x="53.1" y="375.97" width="11.55" height="7.25" fill="#eeeeee"/>
<rect x="65.7" y="375.97" width="11.55" height="7.25" fill="#eeeeee"/>
<rect x="79.2" y="375.97" width="11.55" height="7.25" fill="#eeeeee"/>
<rect x="91.8" y="375.97" width="11.55" height="7.25" fill="#eeeeee"/>
<rect x="105.3" y="375.97" width="11.55" height="7.25" fill="#eeeeee"/>
<rect x="117.9" y="375.97" width="11.55" height="7.25" fill="#eeeeee"/>
<rect x="131.4" y="375.97" width="11.55" height="7.25" fill="#eeeeee"/>
<rect x="144" y="375.97" width="11.55" height="7.25" fill="#eeeeee"/>
<rect x="157.5" y="375.97" width="11.55" height="7.25" fill="#eeeeee"/>
<rect x="170.1" y="375.97" width="11.55" height="7.25" fill="#eeeeee"/>
<rect x="183.6" y="375.97" width="11.55" height="7.25" fill="#eeeeee"/>
<rect x="196.2" y="375.97" width="11.55" height="7.25" fill="#eeeeee"/>
<rect x="209.7" y="375.97" width="11.55" height="7.25" fill="#eeeeee"/>
<rect x="222.3" y="375.97" width="11.55" height="7.25" fill="#eeeeee"/>
<rect x="235.8" y="375.97" width="11.55" height="7.25" fill="#eeeeee"/>
<rect x="248.4" y="375.97" width="11.55" height="7.25" fill="#eeeeee"/>
<rect x="261.9" y="375.97" width="11.55" height="7.25" fill="#eeeeee"/>
<rect x="274.5" y="375.97" width="11.55" height="7.25" fill="#eeeeee"/>
<rect x="288" y="375.97" width="11.55" height="7.25" fill="#eeeeee"/>
<rect x="300.6" y="375.97" width="11.55" height="7.25" fill="#eeeeee"/>
<rect x="314.1" y="375.97" width="11.55" height="7.25" fill="#eeeeee"/>
<rect x="326.7" y="375.97" width="11.55" height="7.25" fill="#eeeeee"/>
<rect x="340.2" y="375.97" width="11.55" height="7.25" fill="#eeeeee"/>
<rect x="352.8" y="375.97" width="11.55" height="7.25" fill="#eeeeee"/>
<rect x="366.3" y="375.97" width="11.55" height="7.25" fill="#eeeeee"/>
<rect x="378.9" y="375.97" width="11.55" height="7.25" fill="#eeeeee"/>
<rect x="392.4" y="375.97" width="11.55" height="7.25" fill="#eeeeee"/>
<rect x="405" y="375.97" width="11.55" height="7.25" fill="#eeeeee"/>
<rect x="418.5" y="375.97" width="11.55" height="7.25" fill="#eeeeee"/>
<rect x="431.1" y="375.97" width="11.55" height="7.25" fill="#eeeeee"/>
<rect x="53.1" y="383.92" width="11.55" height="7.25" fill="#eeeeee"/>
<rect x="65.7" y="383.92" width="11.55" height="7.25" fill="#eeeeee"/>
<rect x="79.2" y="383.92" width="11.55" height="7.25" fill="#eeeeee"/>
<rect x="91.8" y="383.92" width="11.55" height="7.25" fill="#eeeeee"/>
<rect x="105.3" y="383.92" width="11.55" height="7.25" fill="#eeeeee"/>
<rect x="117.9" y="383.92" width="11.55" height="7.25" fill="#eeeeee"/>
<rect x="131.4" y="383.92" width="11.55" height="7.25" fill="#eeeeee"/>
<rect x="144" y="383.92" width="11.55" height="7.25" fill="#eeeeee"/>
<rect x="157.5" y="383.92" width="11.55" height="7.25" fill="#eeeeee"/>
<rect x="170.1" y="383.92" width="11.55" height="7.25" fill="#eeeeee"/>
<rect x="183.6" y="383.92" width="11.55" height="7.25" fill="#eeeeee"/>
<rect x="196.2" y="383.92" width="11.55" height="7.25" fill="#eeeeee"/>
<rect x="209.7" y="383.92" width="11.55" height="7.25" fill="#eeeeee"/>
<rect x="222.3" y="383.92" width="11.55" height="7.25" fill="#eeeeee"/>
<rect x="235.8" y="383.92" width="11.55" height="7.25" fill="#eeeeee"/>
<rect x="248.4" y="383.92" width="11.55" height="7.25" fill="#eeeeee"/>
<rect x="261.9" y="383.92" width="11.55" height="7.25" fill="#eeeeee"/>
<rect x="274.5" y="383.92" width="11.55" height="7.25" fill="#eeeeee"/>
<rect x="288" y="383.92" width="11.55" height="7.25" fill="#eeeeee"/>
<rect x="300.6" y="383.92" width="11.55" height="7.25" fill="#eeeeee"/>
<rect x="314.1" y="383.92" width="11.55" height="7.25" fill="#eeeeee"/>
<rect x="326.7" y="383.92" width="11.55" height="7.25" fill="#eeeeee"/>
<rect x="340.2" y="383.92" width="11.55" height="7.25" fill="#eeeeee"/>
<rect x="352.8" y="383.92" width="11.55" height="7.25" fill="#eeeeee"/>
<rect x="366.3" y="383.92" width="11.55" height="7.25" fill="#eeeeee"/>
<rect x="378.9" y="383.92" width="11.55" height="7.25" fill="#eeeeee"/>
<rect x="392.4" y="383.92" width="11.55" height="7.25" fill="#eeeeee"/>
<rect x="405" y="383.92" width="11.55" height="7.25" fill="#eeeeee"/>
<rect x="418.5" y="383.92" width="11.55" height="7.25" fill="#eeeeee"/>
<rect x="431.1" y="383.92" width="11.55" height="7.25" fill="#eeeeee"/>
<rect x="53.1" y="391.87" width="11.55" height="7.25" fill="#eeeeee"/>
<rect x="65.7" y="391.87" width="11.55" height="7.25" fill="#eeeeee"/>
<rect x="79.2" y="391.87" width="11.55" height="7.25" fill="#eeeeee"/>
<rect x="91.8" y="391.87" width="11.55" height="7.25" fill="#eeeeee"/>
<rect x="105.3" y="391.87" width="11.55" height="7.25" fill="#eeeeee"/>
<rect x="117.9" y="391.87" width="11.55" height="7.25" fill="#eeeeee"/>
<rect x="131.4" y="391.87" width="11.55" height="7.25" fill="#eeeeee"/>
<rect x="144" y="391.87" width="11.55" height="7.25" fill="#eeeeee"/>
<rect x="157.5" y="391.87" width="11.55" height="7.25" fill="#eeeeee"/>
<rect x="170.1" y="391.87" width="11.55" height="7.25" fill="#eeeeee"/>
<rect x="183.6" y="391.87" width="11.55" height="7.25" fill="#eeeeee"/>
<rect x="196.2" y="391.87" width="11.55" height="7.25" fill="#eeeeee"/>
<rect x="209.7" y="391.87" width="11.55" height="7.25" fill="#eeeeee"/>
<rect x="222.3" y="391.87" width="11.55" height="7.25" fill="#eeeeee"/>
<rect x="235.8" y="391.87" width="11.55" height="7.25" fill="#eeeeee"/>
<rect x="248.4" y="391.87" width="11.55" height="7.25" fill="#eeeeee"/>
<rect x="261.9" y="391.87" width="11.55" height="7.25" fill="#eeeeee"/>
<rect x="274.5" y="391.87" width="11.55" height="7.25" fill="#eeeeee"/>
<rect x="288" y="391.87" width="11.55" height="7.25" fill="#eeeeee"/>
<rect x="300.6" y="391.87" width="11.55" height="7.25" fill="#eeeeee"/>
<rect x="314.1" y="391.87" width="11.55" height="7.25" fill="#eeeeee"/>
<rect x="326.7" y="391.87" width="11.55" height="7.25" fill="#eeeeee"/>
<rect x="340.2" y="391.87" width="11.55" height="7.25" fill="#eeeeee"/>
<rect x="352.8" y="391.87" width="11.55" height="7.25" fill="#eeeeee"/>
<rect x="366.3" y="391.87" width="11.55" height="7.25" fill="#eeeeee"/>
<rect x="378.9" y="391.87" width="11.55" height="7.25" fill="#eeeeee"/>
<rect x="392.4" y="391.87" width="11.55" height="7.25" fill="#eeeeee"/>
<rect x="405" y="391.87" width="11.55" height="7.25" fill="#eeeeee"/>
<rect x="418.5" y="391.87" width="11.55" height="7.25" fill="#eeeeee"/>
<rect x="431.1" y="391.87" width="11.55" height="7.25" fill="#eeeeee"/>
<rect x="53.1" y="399.81" width="11.55" height="7.25" fill="#eeeeee"/>
<rect x="65.7" y="399.81" width="11.55" height="7.25" fill="#eeeeee"/>
<rect x="79.2" y="399.81" width="11.55" height="7.25" fill="#eeeeee"/>
<rect x="91.8" y="399.81" width="11.55" height="7.25" fill="#eeeeee"/>
<rect x="105.3" y="399.81" width="11.55" height="7.25" fill="#eeeeee"/>
<rect x="117.9" y="399.81" width="11.55" height="7.25" fill="#eeeeee"/>
<rect x="131.4" y="399.81" width="11.55" height="7.25" fill="#eeeeee"/>
<rect x="144" y="399.81" width="11.55" height="7.25" fill="#eeeeee"/>
<rect x="157.5" y="399.81" width="11.55" height="7.25" fill="#eeeeee"/>
<rect x="170.1" y="399.81" width="11.55" height="7.25" fill="#eeeeee"/>
<rect x="183.6" y="399.81" width="11.55" height="7.25" fill="#eeeeee"/>
<rect x="196.2" y="399.81" width="11.55" height="7.25" fill="#eeeeee"/>
<rect x="209.7" y="399.81" width="11.55" height="7.25" fill="#eeeeee"/>
<rect x="222.3" y="399.81" width="11.55" height="7.25" fill="#eeeeee"/>
<rect x="235.8" y="399.81" width="11.55" height="7.25" fill="#eeeeee"/>
<rect x="248.4" y="399.81" width="11.55" height="7.25" fill="#eeeeee"/>
<rect x="261.9" y="399.81" width="11.55" height="7.25" fill="#eeeeee"/>
<rect x="274.5" y="399.81" width="11.55" height="7.25" fill="#eeeeee"/>
<rect x="288" y="399.81" width="11.55" height="7.25" fill="#eeeeee"/>
<rect x="300.6" y="399.81" width="11.55" height="7.25" fill="#eeeeee"/>
<rect x="314.1" y="399.81" width="11.55" height="7.25" fill="#eeeeee"/>
<rect x="326.7" y="399.81" width="11.55" height="7.25" fill="#eeeeee"/>
<rect x="340.2" y="399.81" width="11.55" height="7.25" fill="#eeeeee"/>
<rect x="352.8" y="399.81" width="11.55" height="7.25" fill="#eeeeee"/>
<rect x="366.3" y="399.81" width="11.55" height="7.25" fill="#eeeeee"/>
<rect x="378.9" y="399.81" width="11.55" height="7.25" fill="#eeeeee"/>
<rect x="392.4" y="399.81" width="11.55" height="7.25" fill="#eeeeee"/>
<rect x="405" y="399.81" width="11.55" height="7.25" fill="#eeeeee"/>
<rect x="418.5" y="399.81" width="11.55" height="7.25" fill="#eeeeee"/>
<rect x="431.1" y="399.81" width="11.55" height="7.25" fill="#eeeeee"/>
<rect x="53.1" y="407.76" width="11.55" height="7.25" fill="#eeeeee"/>
<rect x="65.7" y="407.76" width="11.55" height="7.25" fill="#eeeeee"/>
<rect x="79.2" y="407.76" width="11.55" height="7.25" fill="#eeeeee"/>
<rect x="91.8" y="407.76" width="11.55" height="7.25" fill="#eeeeee"/>
<rect x="105.3" y="407.76" width="11.55" height="7.25" fill="#eeeeee"/>
<rect x="117.9" y="407.76" width="11.55" height="7.25" fill="#eeeeee"/>
<rect x="131.4" y="407.76" width="11.55" height="7.25" fill="#eeeeee"/>
<rect x="144" y="407.76" width="11.55" height="7.25" fill="#eeeeee"/>
<rect x="157.5" y="407.76" width="11.55" height="7.25" fill="#eeeeee"/>
<rect x="170.1" y="407.76" width="11.55" height="7.25" fill="#eeeeee"/>
<rect x="183.6" y="407.76" width="11.55" height="7.25" fill="#eeeeee"/>
<rect x="196.2" y="407.76" width="11.55" height="7.25" fill="#eeeeee"/>
<rect x="209.7" y="407.76" width="11.55" height="7.25" fill="#eeeeee"/>
<rect x="222.3" y="407.76" width="11.55" height="7.25" fill="#eeeeee"/>
<rect x="235.8" y="407.76" width="11.55" height="7.25" fill="#eeeeee"/>
<rect x="248.4" y="407.76" width="11.55" height="7.25" fill="#eeeeee"/>
<rect x="261.9" y="407.76" width="11.55" height="7.25" fill="#eeeeee"/>
<rect x="274.5" y="407.76" width="11.55" height="7.25" fill="#eeeeee"/>
<rect x="288" y="407.76" width="11.55" height="7.25" fill="#eeeeee"/>
<rect x="300.6" y="407.76" width="11.55" height="7.25" fill="#eeeeee"/>
<rect x="314.1" y="407.76" width="11.55" height="7.25" fill="#eeeeee"/>
<rect x="326.7" y="407.76" width="11.55" height="7.25" fill="#eeeeee"/>
<rect x="340.2" y="407.76" width="11.55" height="7.25" fill="#eeeeee"/>
<rect x="352.8" y="407.76" width="11.55" height="7.25" fill="#eeeeee"/>
<rect x="366.3" y="407.76" width="11.55" height="7.25" fill="#eeeeee"/>
<rect x="378.9" y="407.76" width="11.55" height="7.25" fill="#eeeeee"/>
<rect x="392.4" y="407.76" width="11.55" height="7.25" fill="#eeeeee"/>
<rect x="405" y="407.76" width="11.55" height="7.25" fill="#eeeeee"/>
<rect x="418.5" y="407.76" width="11.55" height="7.25" fill="#eeeeee"/>
<rect x="431.1" y="407.76" width="11.55" height="7.25" fill="#eeeeee"/>
<rect x="53.1" y="415.71" width="11.55" height="7.25" fill="#eeeeee"/>
<rect x="65.7" y="415.71" width="11.55" height="7.25" fill="#eeeeee"/>
<rect x="79.2" y="415.71" width="11.55" height="7.25" fill="#eeeeee"/>
<rect x="91.8" y="415.71" width="11.55" height="7.25" fill="#eeeeee"/>
<rect x="105.3" y="415.71" width="11.55" height="7.25" fill="#eeeeee"/>
<rect x="117.9" y="415.71" width="11.55" height="7.25" fill="#eeeeee"/>
<rect x="131.4" y="415.71" width="11.55" height="7.25" fill="#eeeeee"/>
<rect x="144" y="415.71" width="11.55" height="7.25" fill="#eeeeee"/>
<rect x="157.5" y="415.71" width="11.55" height="7.25" fill="#eeeeee"/>
<rect x="170.1" y="415.71" width="11.55" height="7.25" fill="#eeeeee"/>
<rect x="183.6" y="415.71" width="11.55" height="7.25" fill="#eeeeee"/>
<rect x="196.2" y="415.71" width="11.55" height="7.25" fill="#eeeeee"/>
<rect x="209.7" y="415.71" width="11.55" height="7.25" fill="#eeeeee"/>
<rect x="222.3" y="415.71" width="11.55" height="7.25" fill="#eeeeee"/>
<rect x="235.8" y="415.71" width="11.55" height="7.25" fill="#eeeeee"/>
<rect x="248.4" y="415.71" width="11.55" height="7.25" fill="#eeeeee"/>
<rect x="261.9" y="415.71" width="11.55" height="7.25" fill="#eeeeee"/>
<rect x="274.5" y="415.71" width="11.55" height="7.25" fill="#eeeeee"/>
<rect x="288" y="415.71" width="11.55" height="7.25" fill="#eeeeee"/>
<rect x="300.6" y="415.71" width="11.55" height="7.25" fill="#eeeeee"/>
<rect x="314.1" y="415.71" width="11.55" height="7.25" fill="#eeeeee"/>
<rect x="326.7" y="415.71" width="11.55" height="7.25" fill="#eeeeee"/>
<rect x="340.2" y="415.71" width="11.55" height="7.25" fill="#eeeeee"/>
<rect x="352.8" y="415.71" width="11.55" height="7.25" fill="#eeeeee"/>
<rect x="366.3" y="415.71" width="11.55" height="7.25" fill="#eeeeee"/>
<rect x="378.9" y="415.71" width="11.55" height="7.25" fill="#eeeeee"/>
<rect x="392.4" y="415.71" width="11.55" height="7.25" fill="#eeeeee"/>
<rect x="405" y="415.71" width="11.55" height="7.25" fill="#eeeeee"/>
<rect x="418.5" y="415.71" width="11.55" height="7.25" fill="#eeeeee"/>
<rect x="431.1" y="415.71" width="11.55" height="7.25" fill="#eeeeee"/>
<rect x="53.1" y="423.66" width="11.55" height="7.25" fill="#eeeeee"/>
<rect x="65.7" y="423.66" width="11.55" height="7.25" fill="#eeeeee"/>
<rect x="79.2" y="423.66" width="11.55" height="7.25" fill="#eeeeee"/>
<rect x="91.8" y="423.66" width="11.55" height="7.25" fill="#eeeeee"/>
<rect x="105.3" y="423.66" width="11.55" height="7.25" fill="#eeeeee"/>
<rect x="117.9" y="423.66" width="11.55" height="7.25" fill="#eeeeee"/>
<rect x="131.4" y="423.66" width="11.55" height="7.25" fill="#eeeeee"/>
<rect x="144" y="423.66" width="11.55" height="7.25" fill="#eeeeee"/>
<rect x="157.5" y="423.66" width="11.55" height="7.25" fill="#eeeeee"/>
<rect x="170.1" y="423.66" width="11.55" height="7.25" fill="#eeeeee"/>
<rect x="183.6" y="423.66" width="11.55" height="7.25" fill="#eeeeee"/>
<rect x="196.2" y="423.66" width="11.55" height="7.25" fill="#eeeeee"/>
<rect x="209.7" y="423.66" width="11.55" height="7.25" fill="#eeeeee"/>
<rect x="222.3" y="423.66" width="11.55" height="7.25" fill="#eeeeee"/>
<rect x="235.8" y="423.66" width="11.55" height="7.25" fill="#eeeeee"/>
<rect x="248.4" y="423.66" width="11.55" height="7.25" fill="#eeeeee"/>
<rect x="261.9" y="423.66" width="11.55" height="7.25" fill="#eeeeee"/>
<rect x="274.5" y="423.66" width="11.55" height="7.25" fill="#eeeeee"/>
<rect x="288" y="423.66" width="11.55" height="7.25" fill="#eeeeee"/>
<rect x="300.6" y="423.66" width="11.55" height="7.25" fill="#eeeeee"/>
<rect x="314.1" y="423.66" width="11.55" height="7.25" fill="#eeeeee"/>
<rect x="326.7" y="423.66" width="11.55" height="7.25" fill="#eeeeee"/>
<rect x="340.2" y="423.66" width="11.55" height="7.25" fill="#eeeeee"/>
<rect x="352.8" y="423.66" width="11.55" height="7.25" fill="#eeeeee"/>
<rect x="366.3" y="423.66" width="11.55" height="7.25" fill="#eeeeee"/>
<rect x="378.9" y="423.66" width="11.55" height="7.25" fill="#eeeeee"/>
<rect x="392.4" y="423.66" width="11.55" height="7.25" fill="#eeeeee"/>
<rect x="405" y="423.66" width="11.55" height="7.25" fill="#eeeeee"/>
<rect x="418.5" y="423.66" width="11.55" height="7.25" fill="#eeeeee"/>
<rect x="431.1" y="423.66" width="11.55" height="7.25" fill="#eeeeee"/>
<rect x="53.1" y="431.6" width="11.55" height="7.25" fill="#eeeeee"/>
<rect x="65.7" y="431.6" width="11.55" height="7.25" fill="#eeeeee"/>
<rect x="79.2" y="431.6" width="11.55" height="7.25" fill="#eeeeee"/>
<rect x="91.8" y="431.6" width="11.55" height="7.25" fill="#eeeeee"/>
<rect x="105.3" y="431.6" width="11.55" height="7.25" fill="#eeeeee"/>
<rect x="117.9" y="431.6" width="11.55" height="7.25" fill="#eeeeee"/>
<rect x="131.4" y="431.6" width="11.55" height="7.25" fill="#eeeeee"/>
<rect x="144" y="431.6" width="11.55" height="7.25" fill="#eeeeee"/>
<rect x="157.5" y="431.6" width="11.55" height="7.25" fill="#eeeeee"/>
<rect x="170.1" y="431.6" width="11.55" height="7.25" fill="#eeeeee"/>
<rect x="183.6" y="431.6" width="11.55" height="7.25" fill="#eeeeee"/>
<rect x="196.2" y="431.6" width="11.55" height="7.25" fill="#eeeeee"/>
<rect x="209.7" y="431.6" width="11.55" height="7.25" fill="#eeeeee"/>
<rect x="222.3" y="431.6" width="11.55" height="7.25" fill="#eeeeee"/>
<rect x="235.8" y="431.6" width="11.55" height="7.25" fill="#eeeeee"/>
<rect x="248.4" y="431.6" width="11.55" height="7.25" fill="#eeeeee"/>
<rect x="261.9" y="431.6" width="11.55" height="7.25" fill="#eeeeee"/>
<rect x="274.5" y="431.6" width="11.55" height="7.25" fill="#eeeeee"/>
<rect x="288" y="431.6" width="11.55" height="7.25" fill="#eeeeee"/>
<rect x="300.6" y="431.6" width="11.55" height="7.25" fill="#eeeeee"/>
<rect x="314.1" y="431.6" width="11.55" height="7.25" fill="#eeeeee"/>
<rect x="326.7" y="431.6" width="11.55" height="7.25" fill="#eeeeee"/>
<rect x="340.2" y="431.6" width="11.55" height="7.25" fill="#eeeeee"/>
<rect x="352.8" y="431.6" width="11.55" height="7.25" fill="#eeeeee"/>
<rect x="366.3" y="431.6" width="11.55" height="7.25" fill="#eeeeee"/>
<rect x="378.9" y="431.6" width="11.55" height="7.25" fill="#eeeeee"/>
<rect x="392.4" y="431.6" width="11.55" height="7.25" fill="#eeeeee"/>
<rect x="405" y="431.6" width="11.55" height="7.25" fill="#eeeeee"/>
<rect x="418.5" y="431.6" width="11.55" height="7.25" fill="#eeeeee"/>
<rect x="431.1" y="431.6" width="11.55" height="7.25" fill="#eeeeee"/>
<rect x="53.1" y="439.55" width="11.55" height="7.25" fill="#eeeeee"/>
<rect x="65.7" y="439.55" width="11.55" height="7.25" fill="#eeeeee"/>
<rect x="79.2" y="439.55" width="11.55" height="7.25" fill="#eeeeee"/>
<rect x="91.8" y="439.55" width="11.55" height="7.25" fill="#eeeeee"/>
<rect x="105.3" y="439.55" width="11.55" height="7.25" fill="#eeeeee"/>
<rect x="117.9" y="439.55" width="11.55" height="7.25" fill="#eeeeee"/>
<rect x="131.4" y="439.55" width="11.55" height="7.25" fill="#eeeeee"/>
<rect x="144" y="439.55" width="11.55" height="7.25" fill="#eeeeee"/>
<rect x="157.5" y="439.55" width="11.55" height="7.25" fill="#eeeeee"/>
<rect x="170.1" y="439.55" width="11.55" height="7.25" fill="#eeeeee"/>
<rect x="183.6" y="439.55" width="11.55" height="7.25" fill="#eeeeee"/>
<rect x="196.2" y="439.55" width="11.55" height="7.25" fill="#eeeeee"/>
<rect x="209.7" y="439.55" width="11.55" height="7.25" fill="#eeeeee"/>
<rect x="222.3" y="439.55" width="11.55" height="7.25" fill="#eeeeee"/>
<rect x="235.8" y="439.55" width="11.55" height="7.25" fill="#eeeeee"/>
<rect x="248.4" y="439.55" width="11.55" height="7.25" fill="#eeeeee"/>
<rect x="261.9" y="439.55" width="11.55" height="7.25" fill="#eeeeee"/>
<rect x="274.5" y="439.55" width="11.55" height="7.25" fill="#eeeeee"/>
<rect x="288" y="439.55" width="11.55" height="7.25" fill="#eeeeee"/>
<rect x="300.6" y="439.55" width="11.55" height="7.25" fill="#eeeeee"/>
<rect x="314.1" y="439.55" width="11.55" height="7.25" fill="#eeeeee"/>
<rect x="326.7" y="439.55" width="11.55" height="7.25" fill="#eeeeee"/>
<rect x="340.2" y="439.55" width="11.55" height="7.25" fill="#eeeeee"/>
<rect x="352.8" y="439.55" width="11.55" height="7.25" fill="#eeeeee"/>
<rect x="366.3" y="439.55" width="11.55" height="7.25" fill="#eeeeee"/>
<rect x="378.9" y="439.55" width="11.55" height="7.25" fill="#eeeeee"/>
<rect x="392.4" y="439.55" width="11.55" height="7.25" fill="#eeeeee"/>
<rect x="405" y="439.55" width="11.55" height="7.25" fill="#eeeeee"/>
<rect x="418.5" y="439.55" width="11.55" height="7.25" fill="#eeeeee"/>
<rect x="431.1" y="439.55" width="11.55" height="7.25" fill="#eeeeee"/>
<rect x="53.1" y="447.5" width="11.55" height="7.25" fill="#eeeeee"/>
<rect x="65.7" y="447.5" width="11.55" height="7.25" fill="#eeeeee"/>
<rect x="79.2" y="447.5" width="11.55" height="7.25" fill="#eeeeee"/>
<rect x="91.8" y="447.5" width="11.55" height="7.25" fill="#eeeeee"/>
<rect x="105.3" y="447.5" width="11.55" height="7.25" fill="#eeeeee"/>
<rect x="117.9" y="447.5" width="11.55" height="7.25" fill="#eeeeee"/>
<rect x="131.4" y="447.5" width="11.55" height="7.25" fill="#eeeeee"/>
<rect x="144" y="447.5" width="11.55" height="7.25" fill="#eeeeee"/>
<rect x="157.5" y="447.5" width="11.55" height="7.25" fill="#eeeeee"/>
<rect x="170.1" y="447.5" width="11.55" height="7.25" fill="#eeeeee"/>
<rect x="183.6" y="447.5" width="11.55" height="7.25" fill="#eeeeee"/>
<rect x="196.2" y="447.5" width="11.55" height="7.25" fill="#eeeeee"/>
<rect x="209.7" y="447.5" width="11.55" height="7.25" fill="#eeeeee"/>
<rect x="222.3" y="447.5" width="11.55" height="7.25" fill="#eeeeee"/>
<rect x="235.8" y="447.5" width="11.55" height="7.25" fill="#eeeeee"/>
<rect x="248.4" y="447.5" width="11.55" height="7.25" fill="#eeeeee"/>
<rect x="261.9" y="447.5" width="11.55" height="7.25" fill="#eeeeee"/>
<rect x="274.5" y="447.5" width="11.55" height="7.25" fill="#eeeeee"/>
<rect x="288" y="447.5" width="11.55" height="7.25" fill="#eeeeee"/>
<rect x="300.6" y="447.5" width="11.55" height="7.25" fill="#eeeeee"/>
<rect x="314.1" y="447.5" width="11.55" height="7.25" fill="#eeeeee"/>
<rect x="326.7" y="447.5" width="11.55" height="7.25" fill="#eeeeee"/>
<rect x="340.2" y="447.5" width="11.55" height="7.25" fill="#eeeeee"/>
<rect x="352.8" y="447.5" width="11.55" height="7.25" fill="#eeeeee"/>
<rect x="366.3" y="447.5" width="11.55" height="7.25" fill="#eeeeee"/>
<rect x="378.9" y="447.5" width="11.55" height="7.25" fill="#eeeeee"/>
<rect x="392.4" y="447.5" width="11.55" height="7.25" fill="#eeeeee"/>
<rect x="405" y="447.5" width="11.55" height="7.25" fill="#eeeeee"/>
<rect x="418.5" y="447.5" width="11.55" height="7.25" fill="#eeeeee"/>
<rect x="431.1" y="447.5" width="11.55" height="7.25" fill="#eeeeee"/>
<rect x="53.1" y="455.44" width="11.55" height="7.25" fill="#eeeeee"/>
<rect x="65.7" y="455.44" width="11.55" height="7.25" fill="#eeeeee"/>
<rect x="79.2" y="455.44" width="11.55" height="7.25" fill="#eeeeee"/>
<rect x="91.8" y="455.44" width="11.55" height="7.25" fill="#eeeeee"/>
<rect x="105.3" y="455.44" width="11.55" height="7.25" fill="#eeeeee"/>
<rect x="117.9" y="455.44" width="11.55" height="7.25" fill="#eeeeee"/>
<rect x="131.4" y="455.44" width="11.55" height="7.25" fill="#eeeeee"/>
<rect x="144" y="455.44" width="11.55" height="7.25" fill="#eeeeee"/>
<rect x="157.5" y="455.44" width="11.55" height="7.25" fill="#eeeeee"/>
<rect x="170.1" y="455.44" width="11.55" height="7.25" fill="#eeeeee"/>
<rect x="183.6" y="455.44" width="11.55" height="7.25" fill="#eeeeee"/>
<rect x="196.2" y="455.44" width="11.55" height="7.25" fill="#eeeeee"/>
<rect x="209.7" y="455.44" width="11.55" height="7.25" fill="#eeeeee"/>
<rect x="222.3" y="455.44" width="11.55" height="7.25" fill="#eeeeee"/>
<rect x="235.8" y="455.44" width="11.55" height="7.25" fill="#eeeeee"/>
<rect x="248.4" y="455.44" width="11.55" height="7.25" fill="#eeeeee"/>
<rect x="261.9" y="455.44" width="11.55" height="7.25" fill="#eeeeee"/>
<rect x="274.5" y="455.44" width="11.55" height="7.25" fill="#eeeeee"/>
<rect x="288" y="455.44" width="11.55" height="7.25" fill="#eeeeee"/>
<rect x="300.6" y="455.44" width="11.55" height="7.25" fill="#eeeeee"/>
<rect x="314.1" y="455.44" width="11.55" height="7.25" fill="#eeeeee"/>
<rect x="326.7" y="455.44" width="11.55" height="7.25" fill="#eeeeee"/>
<rect x="340.2" y="455.44" width="11.55" height="7.25" fill="#eeeeee"/>
<rect x="352.8" y="455.44" width="11.55" height="7.25" fill="#eeeeee"/>
<rect x="366.3" y="455.44" width="11.55" height="7.25" fill="#eeeeee"/>
<rect x="378.9" y="455.44" width="11.55" height="7.25" fill="#eeeeee"/>
<rect x="392.4" y="455.44" width="11.55" height="7.25" fill="#eeeeee"/>
<rect x="405" y="455.44" width="11.55" height="7.25" fill="#eeeeee"/>
<rect x="418.5" y="455.44" width="11.55" height="7.25" fill="#eeeeee"/>
<rect x="431.1" y="455.44" width="11.55" height="7.25" fill="#eeeeee"/>
<rect x="53.1" y="463.39" width="11.55" height="7.25" fill="#eeeeee"/>
<rect x="65.7" y="463.39" width="11.55" height="7.25" fill="#eeeeee"/>
<rect x="79.2" y="463.39" width="11.55" height="7.25" fill="#eeeeee"/>
<rect x="91.8" y="463.39" width="11.55" height="7.25" fill="#eeeeee"/>
<rect x="105.3" y="463.39" width="11.55" height="7.25" fill="#eeeeee"/>
<rect x="117.9" y="463.39" width="11.55" height="7.25" fill="#eeeeee"/>
<rect x="131.4" y="463.39" width="11.55" height="7.25" fill="#eeeeee"/>
<rect x="144" y="463.39" width="11.55" height="7.25" fill="#eeeeee"/>
<rect x="157.5" y="463.39" width="11.55" height="7.25" fill="#eeeeee"/>
<rect x="170.1" y="463.39" width="11.55" height="7.25" fill="#eeeeee"/>
<rect x="183.6" y="463.39" width="11.55" height="7.25" fill="#eeeeee"/>
<rect x="196.2" y="463.39" width="11.55" height="7.25" fill="#eeeeee"/>
<rect x="209.7" y="463.39" width="11.55" height="7.25" fill="#eeeeee"/>
<rect x="222.3" y="463.39" width="11.55" height="7.25" fill="#eeeeee"/>
<rect x="235.8" y="463.39" width="11.55" height="7.25" fill="#eeeeee"/>
<rect x="248.4" y="463.39" width="11.55" height="7.25" fill="#eeeeee"/>
<rect x="261.9" y="463.39" width="11.55" height="7.25" fill="#eeeeee"/>
<rect x="274.5" y="463.39" width="11.55" height="7.25" fill="#eeeeee"/>
<rect x="288" y="463.39" width="11.55" height="7.25" fill="#eeeeee"/>
<rect x="300.6" y="463.39" width="11.55" height="7.25" fill="#eeeeee"/>
<rect x="314.1" y="463.39" width="11.55" height="7.25" fill="#eeeeee"/>
<rect x="326.7" y="463.39" width="11.55" height="7.25" fill="#eeeeee"/>
<rect x="340.2" y="463.39" width="11.55" height="7.25" fill="#eeeeee"/>
<rect x="352.8" y="463.39" width="11.55" height="7.25" fill="#eeeeee"/>
<rect x="366.3" y="463.39" width="11.55" height="7.25" fill="#eeeeee"/>
<rect x="378.9" y="463.39" width="11.55" height="7.25" fill="#eeeeee"/>
<rect x="392.4" y="463.39" width="11.55" height="7.25" fill="#eeeeee"/>
<rect x="405" y="463.39" width="11.55" height="7.25" fill="#eeeeee"/>
<rect x="418.5" y="463.39" width="11.55" height="7.25" fill="#eeeeee"/>
<rect x="431.1" y="463.39" width="11.55" height="7.25" fill="#eeeeee"/>
<rect x="53.1" y="471.34" width="11.55" height="7.25" fill="#eeeeee"/>
<rect x="65.7" y="471.34" width="11.55" height="7.25" fill="#eeeeee"/>
<rect x="79.2" y="471.34" width="11.55" height="7.25" fill="#eeeeee"/>
<rect x="91.8" y="471.34" width="11.55" height="7.25" fill="#eeeeee"/>
<rect x="105.3" y="471.34" width="11.55" height="7.25" fill="#eeeeee"/>
<rect x="117.9" y="471.34" width="11.55" height="7.25" fill="#eeeeee"/>
<rect x="131.4" y="471.34" width="11.55" height="7.25" fill="#eeeeee"/>
<rect x="144" y="471.34" width="11.55" height="7.25" fill="#eeeeee"/>
<rect x="157.5" y="471.34" width="11.55" height="7.25" fill="#eeeeee"/>
<rect x="170.1" y="471.34" width="11.55" height="7.25" fill="#eeeeee"/>
<rect x="183.6" y="471.34" width="11.55" height="7.25" fill="#eeeeee"/>
<rect x="196.2" y="471.34" width="11.55" height="7.25" fill="#eeeeee"/>
<rect x="209.7" y="471.34" width="11.55" height="7.25" fill="#eeeeee"/>
<rect x="222.3" y="471.34" width="11.55" height="7.25" fill="#eeeeee"/>
<rect x="235.8" y="471.34" width="11.55" height="7.25" fill="#eeeeee"/>
<rect x="248.4" y="471.34" width="11.55" height="7.25" fill="#eeeeee"/>
<rect x="261.9" y="471.34" width="11.55" height="7.25" fill="#eeeeee"/>
<rect x="274.5" y="471.34" width="11.55" height="7.25" fill="#eeeeee"/>
<rect x="288" y="471.34" width="11.55" height="7.25" fill="#eeeeee"/>
<rect x="300.6" y="471.34" width="11.55" height="7.25" fill="#eeeeee"/>
<rect x="314.1" y="471.34" width="11.55" height="7.25" fill="#eeeeee"/>
<rect x="326.7" y="471.34" width="11.55" height="7.25" fill="#eeeeee"/>
<rect x="340.2" y="471.34" width="11.55" height="7.25" fill="#eeeeee"/>
<rect x="352.8" y="471.34" width="11.55" height="7.25" fill="#eeeeee"/>
<rect x="366.3" y="471.34" width="11.55" height="7.25" fill="#eeeeee"/>
<rect x="378.9" y="471.34" width="11.55" height="7.25" fill="#eeeeee"/>
<rect x="392.4" y="471.34" width="11.55" height="7.25" fill="#eeeeee"/>
<rect x="405" y="471.34" width="11.55" height="7.25" fill="#eeeeee"/>
<rect x="418.5" y="471.34" width="11.55" height="7.25" fill="#eeeeee"/>
<rect x="431.1" y="471.34" width="11.55" height="7.25" fill="#eeeeee"/>
<rect x="53.1" y="479.28" width="11.55" height="7.25" fill="#eeeeee"/>
<rect x="65.7" y="479.28" width="11.55" height="7.25" fill="#eeeeee"/>
<rect x="79.2" y="479.28" width="11.55" height="7.25" fill="#eeeeee"/>
<rect x="91.8" y="479.28" width="11.55" height="7.25" fill="#eeeeee"/>
<rect x="105.3" y="479.28" width="11.55" height="7.25" fill="#eeeeee"/>
<rect x="117.9" y="479.28" width="11.55" height="7.25" fill="#eeeeee"/>
<rect x="131.4" y="479.28" width="11.55" height="7.25" fill="#eeeeee"/>
<rect x="144" y="479.28" width="11.55" height="7.25" fill="#eeeeee"/>
<rect x="157.5" y="479.28" width="11.55" height="7.25" fill="#eeeeee"/>
<rect x="170.1" y="479.28" width="11.55" height="7.25" fill="#eeeeee"/>
<rect x="183.6" y="479.28" width="11.55" height="7.25" fill="#eeeeee"/>
<rect x="196.2" y="479.28" width="11.55" height="7.25" fill="#eeeeee"/>
<rect x="209.7" y="479.28" width="11.55" height="7.25" fill="#eeeeee"/>
<rect x="222.3" y="479.28" width="11.55" height="7.25" fill="#eeeeee"/>
<rect x="235.8" y="479.28" width="11.55" height="7.25" fill="#eeeeee"/>
<rect x="248.4" y="479.28" width="11.55" height="7.25" fill="#eeeeee"/>
<rect x="261.9" y="479.28" width="11.55" height="7.25" fill="#eeeeee"/>
<rect x="274.5" y="479.28" width="11.55" height="7.25" fill="#eeeeee"/>
<rect x="288" y="479.28" width="11.55" height="7.25" fill="#eeeeee"/>
<rect x="300.6" y="479.28" width="11.55" height="7.25" fill="#eeeeee"/>
<rect x="314.1" y="479.28" width="11.55" height="7.25" fill="#eeeeee"/>
<rect x="326.7" y="479.28" width="11.55" height="7.25" fill="#eeeeee"/>
<rect x="340.2" y="479.28" width="11.55" height="7.25" fill="#eeeeee"/>
<rect x="352.8" y="479.28" width="11.55" height="7.25" fill="#eeeeee"/>
<rect x="366.3" y="479.28" width="11.55" height="7.25" fill="#eeeeee"/>
<rect x="378.9" y="479.28" width="11.55" height="7.25" fill="#eeeeee"/>
<rect x="392.4" y="479.28" width="11.55" height="7.25" fill="#eeeeee"/>
<rect x="405" y="479.28" width="11.55" height="7.25" fill="#eeeeee"/>
<rect x="418.5" y="479.28" width="11.55" height="7.25" fill="#eeeeee"/>
<rect x="431.1" y="479.28" width="11.55" height="7.25" fill="#eeeeee"/>
<rect x="53.1" y="487.23" width="11.55" height="7.25" fill="#eeeeee"/>
<rect x="65.7" y="487.23" width="11.55" height="7.25" fill="#eeeeee"/>
<rect x="79.2" y="487.23" width="11.55" height="7.25" fill="#eeeeee"/>
<rect x="91.8" y="487.23" width="11.55" height="7.25" fill="#eeeeee"/>
<rect x="105.3" y="487.23" width="11.55" height="7.25" fill="#eeeeee"/>
<rect x="117.9" y="487.23" width="11.55" height="7.25" fill="#eeeeee"/>
<rect x="131.4" y="487.23" width="11.55" height="7.25" fill="#eeeeee"/>
<rect x="144" y="487.23" width="11.55" height="7.25" fill="#eeeeee"/>
<rect x="157.5" y="487.23" width="11.55" height="7.25" fill="#eeeeee"/>
<rect x="170.1" y="487.23" width="11.55" height="7.25" fill="#eeeeee"/>
<rect x="183.6" y="487.23" width="11.55" height="7.25" fill="#eeeeee"/>
<rect x="196.2" y="487.23" width="11.55" height="7.25" fill="#eeeeee"/>
<rect x="209.7" y="487.23" width="11.55" height="7.25" fill="#eeeeee"/>
<rect x="222.3" y="487.23" width="11.55" height="7.25" fill="#eeeeee"/>
<rect x="235.8" y="487.23" width="11.55" height="7.25" fill="#eeeeee"/>
<rect x="248.4" y="487.23" width="11.55" height="7.25" fill="#eeeeee"/>
<rect x="261.9" y="487.23" width="11.55" height="7.25" fill="#eeeeee"/>
<rect x="274.5" y="487.23" width="11.55" height="7.25" fill="#eeeeee"/>
<rect x="288" y="487.23" width="11.55" height="7.25" fill="#eeeeee"/>
<rect x="300.6" y="487.23" width="11.55" height="7.25" fill="#eeeeee"/>
<rect x="314.1" y="487.23" width="11.55" height="7.25" fill="#eeeeee"/>
<rect x="326.7" y="487.23" width="11.55" height="7.25" fill="#eeeeee"/>
<rect x="340.2" y="487.23" width="11.55" height="7.25" fill="#eeeeee"/>
<rect x="352.8" y="487.23" width="11.55" height="7.25" fill="#eeeeee"/>
<rect x="366.3" y="487.23" width="11.55" height="7.25" fill="#eeeeee"/>
<rect x="378.9" y="487.23" width="11.55" height="7.25" fill="#eeeeee"/>
<rect x="392.4" y="487.23" width="11.55" height="7.25" fill="#eeeeee"/>
<rect x="405" y="487.23" width="11.55" height="7.25" fill="#eeeeee"/>
<rect x="418.5" y="487.23" width="11.55" height="7.25" fill="#eeeeee"/>
<rect x="431.1" y="487.23" width="11.55" height="7.25" fill="#eeeeee"/>
<rect x="53.1" y="495.18" width="11.55" height="7.25" fill="#eeeeee"/>
<rect x="65.7" y="495.18" width="11.55" height="7.25" fill="#eeeeee"/>
<rect x="79.2" y="495.18" width="11.55" height="7.25" fill="#eeeeee"/>
<rect x="91.8" y="495.18" width="11.55" height="7.25" fill="#eeeeee"/>
<rect x="105.3" y="495.18" width="11.55" height="7.25" fill="#eeeeee"/>
<rect x="117.9" y="495.18" width="11.55" height="7.25" fill="#eeeeee"/>
<rect x="131.4" y="495.18" width="11.55" height="7.25" fill="#eeeeee"/>
<rect x="144" y="495.18" width="11.55" height="7.25" fill="#eeeeee"/>
<rect x="157.5" y="495.18" width="11.55" height="7.25" fill="#eeeeee"/>
<rect x="170.1" y="495.18" width="11.55" height="7.25" fill="#eeeeee"/>
<rect x="183.6" y="495.18" width="11.55" height="7.25" fill="#eeeeee"/>
<rect x="196.2" y="495.18" width="11.55" height="7.25" fill="#eeeeee"/>
<rect x="209.7" y="495.18" width="11.55" height="7.25" fill="#eeeeee"/>
<rect x="222.3" y="495.18" width="11.55" height="7.25" fill="#eeeeee"/>
<rect x="235.8" y="495.18" width="11.55" height="7.25" fill="#eeeeee"/>
<rect x="248.4" y="495.18" width="11.55" height="7.25" fill="#eeeeee"/>
<rect x="261.9" y="495.18" width="11.55" height="7.25" fill="#eeeeee"/>
<rect x="274.5" y="495.18" width="11.55" height="7.25" fill="#eeeeee"/>
<rect x="288" y="495.18" width="11.55" height="7.25" fill="#eeeeee"/>
<rect x="300.6" y="495.18" width="11.55" height="7.25" fill="#eeeeee"/>
<rect x="314.1" y="495.18" width="11.55" height="7.25" fill="#eeeeee"/>
<rect x="326.7" y="495.18" width="11.55" height="7.25" fill="#eeeeee"/>
<rect x="340.2" y="495.18" width="11.55" height="7.25" fill="#eeeeee"/>
<rect x="352.8" y="495.18" width="11.55" height="7.25" fill="#eeeeee"/>
<rect x="366.3" y="495.18" width="11.55" height="7.25" fill="#eeeeee"/>
<rect x="378.9" y="495.18" width="11.55" height="7.25" fill="#eeeeee"/>
<rect x="392.4" y="495.18" width="11.55" height="7.25" fill="#eeeeee"/>
<rect x="405" y="495.18" width="11.55" height="7.25" fill="#eeeeee"/>
<rect x="418.5" y="495.18" width="11.55" height="7.25" fill="#eeeeee"/>
<rect x="431.1" y="495.18" width="11.55" height="7.25" fill="#eeeeee"/>
<rect x="53.1" y="503.13" width="11.55" height="7.25" fill="#eeeeee"/>
<rect x="65.7" y="503.13" width="11.55" height="7.25" fill="#eeeeee"/>
<rect x="79.2" y="503.13" width="11.55" height="7.25" fill="#eeeeee"/>
<rect x="91.8" y="503.13" width="11.55" height="7.25" fill="#eeeeee"/>
<rect x="105.3" y="503.13" width="11.55" height="7.25" fill="#eeeeee"/>
<rect x="117.9" y="503.13" width="11.55" height="7.25" fill="#eeeeee"/>
<rect x="131.4" y="503.13" width="11.55" height="7.25" fill="#eeeeee"/>
<rect x="144" y="503.13" width="11.55" height="7.25" fill="#eeeeee"/>
<rect x="157.5" y="503.13" width="11.55" height="7.25" fill="#eeeeee"/>
<rect x="170.1" y="503.13" width="11.55" height="7.25" fill="#eeeeee"/>
<rect x="183.6" y="503.13" width="11.55" height="7.25" fill="#eeeeee"/>
<rect x="196.2" y="503.13" width="11.55" height="7.25" fill="#eeeeee"/>
<rect x="209.7" y="503.13" width="11.55" height="7.25" fill="#eeeeee"/>
<rect x="222.3" y="503.13" width="11.55" height="7.25" fill="#eeeeee"/>
<rect x="235.8" y="503.13" width="11.55" height="7.25" fill="#eeeeee"/>
<rect x="248.4" y="503.13" width="11.55" height="7.25" fill="#eeeeee"/>
<rect x="261.9" y="503.13" width="11.55" height="7.25" fill="#eeeeee"/>
<rect x="274.5" y="503.13" width="11.55" height="7.25" fill="#eeeeee"/>
<rect x="288" y="503.13" width="11.55" height="7.25" fill="#eeeeee"/>
<rect x="300.6" y="503.13" width="11.55" height="7.25" fill="#eeeeee"/>
<rect x="314.1" y="503.13" width="11.55" height="7.25" fill="#eeeeee"/>
<rect x="326.7" y="503.13" width="11.55" height="7.25" fill="#eeeeee"/>
<rect x="340.2" y="503.13" width="11.55" height="7.25" fill="#eeeeee"/>
<rect x="352.8" y="503.13" width="11.55" height="7.25" fill="#eeeeee"/>
<rect x="366.3" y="503.13" width="11.55" height="7.25" fill="#eeeeee"/>
<rect x="378.9" y="503.13" width="11.55" height="7.25" fill="#eeeeee"/>
<rect x="392.4" y="503.13" width="11.55" height="7.25" fill="#eeeeee"/>
<rect x="405" y="503.13" width="11.55" height="7.25" fill="#eeeeee"/>
<rect x="418.5" y="503.13" width="11.55" height="7.25" fill="#eeeeee"/>
<rect x="431.1" y="503.13" width="11.55" height="7.25" fill="#eeeeee"/>
<rect x="53.1" y="511.07" width="11.55" height="7.25" fill="#eeeeee"/>
<rect x="65.7" y="511.07" width="11.55" height="7.25" fill="#eeeeee"/>
<rect x="79.2" y="511.07" width="11.55" height="7.25" fill="#eeeeee"/>
<rect x="91.8" y="511.07" width="11.55" height="7.25" fill="#eeeeee"/>
<rect x="105.3" y="511.07" width="11.55" height="7.25" fill="#eeeeee"/>
<rect x="117.9" y="511.07" width="11.55" height="7.25" fill="#eeeeee"/>
<rect x="131.4" y="511.07" width="11.55" height="7.25" fill="#eeeeee"/>
<rect x="144" y="511.07" width="11.55" height="7.25" fill="#eeeeee"/>
<rect x="157.5" y="511.07" width="11.55" height="7.25" fill="#eeeeee"/>
<rect x="170.1" y="511.07" width="11.55" height="7.25" fill="#eeeeee"/>
<rect x="183.6" y="511.07" width="11.55" height="7.25" fill="#eeeeee"/>
<rect x="196.2" y="511.07" width="11.55" height="7.25" fill="#eeeeee"/>
<rect x="209.7" y="511.07" width="11.55" height="7.25" fill="#eeeeee"/>
<rect x="222.3" y="511.07" width="11.55" height="7.25" fill="#eeeeee"/>
<rect x="235.8" y="511.07" width="11.55" height="7.25" fill="#eeeeee"/>
<rect x="248.4" y="511.07" width="11.55" height="7.25" fill="#eeeeee"/>
<rect x="261.9" y="511.07" width="11.55" height="7.25" fill="#eeeeee"/>
<rect x="274.5" y="511.07" width="11.55" height="7.25" fill="#eeeeee"/>
<rect x="288" y="511.07" width="11.55" height="7.25" fill="#eeeeee"/>
<rect x="300.6" y="511.07" width="11.55" height="7.25" fill="#eeeeee"/>
<rect x="314.1" y="511.07" width="11.55" height="7.25" fill="#eeeeee"/>
<rect x="326.7" y="511.07" width="11.55" height="7.25" fill="#eeeeee"/>
<rect x="340.2" y="511.07" width="11.55" height="7.25" fill="#eeeeee"/>
<rect x="352.8" y="511.07" width="11.55" height="7.25" fill="#eeeeee"/>
<rect x="366.3" y="511.07" width="11.55" height="7.25" fill="#eeeeee"/>
<rect x="378.9" y="511.07" width="11.55" height="7.25" fill="#eeeeee"/>
<rect x="392.4" y="511.07" width="11.55" height="7.25" fill="#eeeeee"/>
<rect x="405" y="511.07" width="11.55" height="7.25" fill="#eeeeee"/>
<rect x="418.5" y="511.07" width="11.55" height="7.25" fill="#eeeeee"/>
<rect x="431.1" y="511.07" width="11.55" height="7.25" fill="#eeeeee"/>
<rect x="53.1" y="519.02" width="11.55" height="7.25" fill="#eeeeee"/>
<rect x="65.7" y="519.02" width="11.55" height="7.25" fill="#eeeeee"/>
<rect x="79.2" y="519.02" width="11.55" height="7.25" fill="#eeeeee"/>
<rect x="91.8" y="519.02" width="11.55" height="7.25" fill="#eeeeee"/>
<rect x="105.3" y="519.02" width="11.55" height="7.25" fill="#eeeeee"/>
<rect x="117.9" y="519.02" width="11.55" height="7.25" fill="#eeeeee"/>
<rect x="131.4" y="519.02" width="11.55" height="7.25" fill="#eeeeee"/>
<rect x="144" y="519.02" width="11.55" height="7.25" fill="#eeeeee"/>
<rect x="157.5" y="519.02" width="11.55" height="7.25" fill="#eeeeee"/>
<rect x="170.1" y="519.02" width="11.55" height="7.25" fill="#eeeeee"/>
<rect x="183.6" y="519.02" width="11.55" height="7.25" fill="#eeeeee"/>
<rect x="196.2" y="519.02" width="11.55" height="7.25" fill="#eeeeee"/>
<rect x="209.7" y="519.02" width="11.55" height="7.25" fill="#eeeeee"/>
<rect x="222.3" y="519.02" width="11.55" height="7.25" fill="#eeeeee"/>
<rect x="235.8" y="519.02" width="11.55" height="7.25" fill="#eeeeee"/>
<rect x="248.4" y="519.02" width="11.55" height="7.25" fill="#eeeeee"/>
<rect x="261.9" y="519.02" width="11.55" height="7.25" fill="#eeeeee"/>
<rect x="274.5" y="519.02" width="11.55" height="7.25" fill="#eeeeee"/>
<rect x="288" y="519.02" width="11.55" height="7.25" fill="#eeeeee"/>
<rect x="300.6" y="519.02" width="11.55" height="7.25" fill="#eeeeee"/>
<rect x="314.1" y="519.02" width="11.55" height="7.25" fill="#eeeeee"/>
<rect x="326.7" y="519.02" width="11.55" height="7.25" fill="#eeeeee"/>
<rect x="340.2" y="519.02" width="11.55" height="7.25" fill="#eeeeee"/>
<rect x="352.8" y="519.02" width="11.55" height="7.25" fill="#eeeeee"/>
<rect x="366.3" y="519.02" width="11.55" height="7.25" fill="#eeeeee"/>
<rect x="378.9" y="519.02" width="11.55" height="7.25" fill="#eeeeee"/>
<rect x="392.4" y="519.02" width="11.55" height="7.25" fill="#eeeeee"/>
<rect x="405" y="519.02" width="11.55" height="7.25" fill="#eeeeee"/>
<rect x="418.5" y="519.02" width="11.55" height="7.25" fill="#eeeeee"/>
<rect x="431.1" y="519.02" width="11.55" height="7.25" fill="#eeeeee"/>
<rect x="53.1" y="526.97" width="11.55" height="7.25" fill="#eeeeee"/>
<rect x="65.7" y="526.97" width="11.55" height="7.25" fill="#eeeeee"/>
<rect x="79.2" y="526.97" width="11.55" height="7.25" fill="#eeeeee"/>
<rect x="91.8" y="526.97" width="11.55" height="7.25" fill="#eeeeee"/>
<rect x="105.3" y="526.97" width="11.55" height="7.25" fill="#eeeeee"/>
<rect x="117.9" y="526.97" width="11.55" height="7.25" fill="#eeeeee"/>
<rect x="131.4" y="526.97" width="11.55" height="7.25" fill="#eeeeee"/>
<rect x="144" y="526.97" width="11.55" height="7.25" fill="#eeeeee"/>
<rect x="157.5" y="526.97" width="11.55" height="7.25" fill="#eeeeee"/>
<rect x="170.1" y="526.97" width="11.55" height="7.25" fill="#eeeeee"/>
<rect x="183.6" y="526.97" width="11.55" height="7.25" fill="#eeeeee"/>
<rect x="196.2" y="526.97" width="11.55" height="7.25" fill="#eeeeee"/>
<rect x="209.7" y="526.97" width="11.55" height="7.25" fill="#eeeeee"/>
<rect x="222.3" y="526.97" width="11.55" height="7.25" fill="#eeeeee"/>
<rect x="235.8" y="526.97" width="11.55" height="7.25" fill="#eeeeee"/>
<rect x="248.4" y="526.97" width="11.55" height="7.25" fill="#eeeeee"/>
<rect x="261.9" y="526.97" width="11.55" height="7.25" fill="#eeeeee"/>
<rect x="274.5" y="526.97" width="11.55" height="7.25" fill="#eeeeee"/>
<rect x="288" y="526.97" width="11.55" height="7.25" fill="#eeeeee"/>
<rect x="300.6" y="526.97" width="11.55" height="7.25" fill="#eeeeee"/>
<rect x="314.1" y="526.97" width="11.55" height="7.25" fill="#eeeeee"/>
<rect x="326.7" y="526.97" width="11.55" height="7.25" fill="#eeeeee"/>
<rect x="340.2" y="526.97" width="11.55" height="7.25" fill="#eeeeee"/>
<rect x="352.8" y="526.97" width="11.55" height="7.25" fill="#eeeeee"/>
<rect x="366.3" y="526.97" width="11.55" height="7.25" fill="#eeeeee"/>
<rect x="378.9" y="526.97" width="11.55" height="7.25" fill="#eeeeee"/>
<rect x="392.4" y="526.97" width="11.55" height="7.25" fill="#eeeeee"/>
<rect x="405" y="526.97" width="11.55" height="7.25" fill="#eeeeee"/>
<rect x="418.5" y="526.97" width="11.55" height="7.25" fill="#eeeeee"/>
<rect x="431.1" y="526.97" width="11.55" height="7.25" fill="#eeeeee"/>
<rect x="53.1" y="534.91" width="11.55" height="7.25" fill="#eeeeee"/>
<rect x="65.7" y="534.91" width="11.55" height="7.25" fill="#eeeeee"/>
<rect x="79.2" y="534.91" width="11.55" height="7.25" fill="#eeeeee"/>
<rect x="91.8" y="534.91" width="11.55" height="7.25" fill="#eeeeee"/>
<rect x="105.3" y="534.91" width="11.55" height="7.25" fill="#eeeeee"/>
<rect x="117.9" y="534.91" width="11.55" height="7.25" fill="#eeeeee"/>
<rect x="131.4" y="534.91" width="11.55" height="7.25" fill="#eeeeee"/>
<rect x="144" y="534.91" width="11.55" height="7.25" fill="#eeeeee"/>
<rect x="157.5" y="534.91" width="11.55" height="7.25" fill="#eeeeee"/>
<rect x="170.1" y="534.91" width="11.55" height="7.25" fill="#eeeeee"/>
<rect x="183.6" y="534.91" width="11.55" height="7.25" fill="#eeeeee"/>
<rect x="196.2" y="534.91" width="11.55" height="7.25" fill="#eeeeee"/>
<rect x="209.7" y="534.91" width="11.55" height="7.25" fill="#eeeeee"/>
<rect x="222.3" y="534.91" width="11.55" height="7.25" fill="#eeeeee"/>
<rect x="235.8" y="534.91" width="11.55" height="7.25" fill="#eeeeee"/>
<rect x="248.4" y="534.91" width="11.55" height="7.25" fill="#eeeeee"/>
<rect x="261.9" y="534.91" width="11.55" height="7.25" fill="#eeeeee"/>
<rect x="274.5" y="534.91" width="11.55" height="7.25" fill="#eeeeee"/>
<rect x="288" y="534.91" width="11.55" height="7.25" fill="#eeeeee"/>
<rect x="300.6" y="534.91" width="11.55" height="7.25" fill="#eeeeee"/>
<rect x="314.1" y="534.91" width="11.55" height="7.25" fill="#eeeeee"/>
<rect x="326.7" y="534.91" width="11.55" height="7.25" fill="#eeeeee"/>
<rect x="340.2" y="534.91" width="11.55" height="7.25" fill="#eeeeee"/>
<rect x="352.8" y="534.91" width="11.55" height="7.25" fill="#eeeeee"/>
<rect x="366.3" y="534.91" width="11.55" height="7.25" fill="#eeeeee"/>
<rect x="378.9" y="534.91" width="11.55" height="7.25" fill="#eeeeee"/>
<rect x="392.4" y="534.91" width="11.55" height="7.25" fill="#eeeeee"/>
<rect x="405" y="534.91" width="11.55" height="7.25" fill="#eeeeee"/>
<rect x="418.5" y="534.91" width="11.55" height="7.25" fill="#eeeeee"/>
<rect x="431.1" y="534.91" width="11.55" height="7.25" fill="#eeeeee"/>
<rect x="53.1" y="542.86" width="11.55" height="7.25" fill="#eeeeee"/>
<rect x="65.7" y="542.86" width="11.55" height="7.25" fill="#eeeeee"/>
<rect x="79.2" y="542.86" width="11.55" height="7.25" fill="#eeeeee"/>
<rect x="91.8" y="542.86" width="11.55" height="7.25" fill="#eeeeee"/>
<rect x="105.3" y="542.86" width="11.55" height="7.25" fill="#eeeeee"/>
<rect x="117.9" y="542.86" width="11.55" height="7.25" fill="#eeeeee"/>
<rect x="131.4" y="542.86" width="11.55" height="7.25" fill="#eeeeee"/>
<rect x="144" y="542.86" width="11.55" height="7.25" fill="#eeeeee"/>
<rect x="157.5" y="542.86" width="11.55" height="7.25" fill="#eeeeee"/>
<rect x="170.1" y="542.86" width="11.55" height="7.25" fill="#eeeeee"/>
<rect x="183.6" y="542.86" width="11.55" height="7.25" fill="#eeeeee"/>
<rect x="196.2" y="542.86" width="11.55" height="7.25" fill="#eeeeee"/>
<rect x="209.7" y="542.86" width="11.55" height="7.25" fill="#eeeeee"/>
<rect x="222.3" y="542.86" width="11.55" height="7.25" fill="#eeeeee"/>
<rect x="235.8" y="542.86" width="11.55" height="7.25" fill="#eeeeee"/>
<rect x="248.4" y="542.86" width="11.55" height="7.25" fill="#eeeeee"/>
<rect x="261.9" y="542.86" width="11.55" height="7.25" fill="#eeeeee"/>
<rect x="274.5" y="542.86" width="11.55" height="7.25" fill="#eeeeee"/>
<rect x="288" y="542.86" width="11.55" height="7.25" fill="#eeeeee"/>
<rect x="300.6" y="542.86" width="11.55" height="7.25" fill="#eeeeee"/>
<rect x="314.1" y="542.86" width="11.55" height="7.25" fill="#eeeeee"/>
<rect x="326.7" y="542.86" width="11.55" height="7.25" fill="#eeeeee"/>
<rect x="340.2" y="542.86" width="11.55" height="7.25" fill="#eeeeee"/>
<rect x="352.8" y="542.86" width="11.55" height="7.25" fill="#eeeeee"/>
<rect x="366.3" y="542.86" width="11.55" height="7.25" fill="#eeeeee"/>
<rect x="378.9" y="542.86" width="11.55" height="7.25" fill="#eeeeee"/>
<rect x="392.4" y="542.86" width="11.55" height="7.25" fill="#eeeeee"/>
<rect x="405" y="542.86" width="11.55" height="7.25" fill="#eeeeee"/>
<rect x="418.5" y="542.86" width="11.55" height="7.25" fill="#eeeeee"/>
<rect x="431.1" y="542.86" width="11.55" height="7.25" fill="#eeeeee"/>
<rect x="53.1" y="550.81" width="11.55" height="7.25" fill="#eeeeee"/>
<rect x="65.7" y="550.81" width="11.55" height="7.25" fill="#eeeeee"/>
<rect x="79.2" y="550.81" width="11.55" height="7.25" fill="#eeeeee"/>
<rect x="91.8" y="550.81" width="11.55" height="7.25" fill="#eeeeee"/>
<rect x="105.3" y="550.81" width="11.55" height="7.25" fill="#eeeeee"/>
<rect x="117.9" y="550.81" width="11.55" height="7.25" fill="#eeeeee"/>
<rect x="131.4" y="550.81" width="11.55" height="7.25" fill="#eeeeee"/>
<rect x="144" y="550.81" width="11.55" height="7.25" fill="#eeeeee"/>
<rect x="157.5" y="550.81" width="11.55" height="7.25" fill="#eeeeee"/>
<rect x="170.1" y="550.81" width="11.55" height="7.25" fill="#eeeeee"/>
<rect x="183.6" y="550.81" width="11.55" height="7.25" fill="#eeeeee"/>
<rect x="196.2" y="550.81" width="11.55" height="7.25" fill="#eeeeee"/>
<rect x="209.7" y="550.81" width="11.55" height="7.25" fill="#eeeeee"/>
<rect x="222.3" y="550.81" width="11.55" height="7.25" fill="#eeeeee"/>
<rect x="235.8" y="550.81" width="11.55" height="7.25" fill="#eeeeee"/>
<rect x="248.4" y="550.81" width="11.55" height="7.25" fill="#eeeeee"/>
<rect x="261.9" y="550.81" width="11.55" height="7.25" fill="#eeeeee"/>
<rect x="274.5" y="550.81" width="11.55" height="7.25" fill="#eeeeee"/>
<rect x="288" y="550.81" width="11.55" height="7.25" fill="#eeeeee"/>
<rect x="300.6" y="550.81" width="11.55" height="7.25" fill="#eeeeee"/>
<rect x="314.1" y="550.81" width="11.55" height="7.25" fill="#eeeeee"/>
<rect x="326.7" y="550.81" width="11.55" height="7.25" fill="#eeeeee"/>
<rect x="340.2" y="550.81" width="11.55" height="7.25" fill="#eeeeee"/>
<rect x="352.8" y="550.81" width="11.55" height="7.25" fill="#eeeeee"/>
<rect x="366.3" y="550.81" width="11.55" height="7.25" fill="#eeeeee"/>
<rect x="378.9" y="550.81" width="11.55" height="7.25" fill="#eeeeee"/>
<rect x="392.4" y="550.81" width="11.55" height="7.25" fill="#eeeeee"/>
<rect x="405" y="550.81" width="11.55" height="7.25" fill="#eeeeee"/>
<rect x="418.5" y="550.81" width="11.55" height="7.25" fill="#eeeeee"/>
<rect x="431.1" y="550.81" width="11.55" height="7.25" fill="#eeeeee"/>
<rect x="53.1" y="558.75" width="11.55" height="7.25" fill="#eeeeee"/>
<rect x="65.7" y="558.75" width="11.55" height="7.25" fill="#eeeeee"/>
<rect x="79.2" y="558.75" width="11.55" height="7.25" fill="#eeeeee"/>
<rect x="91.8" y="558.75" width="11.55" height="7.25" fill="#eeeeee"/>
<rect x="105.3" y="558.75" width="11.55" height="7.25" fill="#eeeeee"/>
<rect x="117.9" y="558.75" width="11.55" height="7.25" fill="#eeeeee"/>
<rect x="131.4" y="558.75" width="11.55" height="7.25" fill="#eeeeee"/>
<rect x="144" y="558.75" width="11.55" height="7.25" fill="#eeeeee"/>
<rect x="157.5" y="558.75" width="11.55" height="7.25" fill="#eeeeee"/>
<rect x="170.1" y="558.75" width="11.55" height="7.25" fill="#eeeeee"/>
<rect x="183.6" y="558.75" width="11.55" height="7.25" fill="#eeeeee"/>
<rect x="196.2" y="558.75" width="11.55" height="7.25" fill="#eeeeee"/>
<rect x="209.7" y="558.75" width="11.55" height="7.25" fill="#eeeeee"/>
<rect x="222.3" y="558.75" width="11.55" height="7.25" fill="#eeeeee"/>
<rect x="235.8" y="558.75" width="11.55" height="7.25" fill="#eeeeee"/>
<rect x="248.4" y="558.75" width="11.55" height="7.25" fill="#eeeeee"/>
<rect x="261.9" y="558.75" width="11.55" height="7.25" fill="#eeeeee"/>
<rect x="274.5" y="558.75" width="11.55" height="7.25" fill="#eeeeee"/>
<rect x="288" y="558.75" width="11.55" height="7.25" fill="#eeeeee"/>
<rect x="300.6" y="558.75" width="11.55" height="7.25" fill="#eeeeee"/>
<rect x="314.1" y="558.75" width="11.55" height="7.25" fill="#eeeeee"/>
<rect x="326.7" y="558.75" width="11.55" height="7.25" fill="#eeeeee"/>
<rect x="340.2" y="558.75" width="11.55" height="7.25" fill="#eeeeee"/>
<rect x="352.8" y="558.75" width="11.55" height="7.25" fill="#eeeeee"/>
<rect x="366.3" y="558.75" width="11.55" height="7.25" fill="#eeeeee"/>
<rect x="378.9" y="558.75" width="11.55" height="7.25" fill="#eeeeee"/>
<rect x="392.4" y="558.75" width="11.55" height="7.25" fill="#eeeeee"/>
<rect x="405" y="558.75" width="11.55" height="7.25" fill="#eeeeee"/>
<rect x="418.5" y="558.75" width="11.55" height="7.25" fill="#eeeeee"/>
<rect x="431.1" y="558.75" width="11.55" height="7.25" fill="#eeeeee"/>
<rect x="53.1" y="566.7" width="11.55" height="7.25" fill="#eeeeee"/>
<rect x="65.7" y="566.7" width="11.55" height="7.25" fill="#eeeeee"/>
<rect x="79.2" y="566.7" width="11.55" height="7.25" fill="#eeeeee"/>
<rect x="91.8" y="566.7" width="11.55" height="7.25" fill="#eeeeee"/>
<rect x="105.3" y="566.7" width="11.55" height="7.25" fill="#eeeeee"/>
<rect x="117.9" y="566.7" width="11.55" height="7.25" fill="#eeeeee"/>
<rect x="131.4" y="566.7" width="11.55" height="7.25" fill="#eeeeee"/>
<rect x="144" y="566.7" width="11.55" height="7.25" fill="#eeeeee"/>
<rect x="157.5" y="566.7" width="11.55" height="7.25" fill="#eeeeee"/>
<rect x="170.1" y="566.7" width="11.55" height="7.25" fill="#eeeeee"/>
<rect x="183.6" y="566.7" width="11.55" height="7.25" fill="#eeeeee"/>
<rect x="196.2" y="566.7" width="11.55" height="7.25" fill="#eeeeee"/>
<rect x="209.7" y="566.7" width="11.55" height="7.25" fill="#eeeeee"/>
<rect x="222.3" y="566.7" width="11.55" height="7.25" fill="#eeeeee"/>
<rect x="235.8" y="566.7" width="11.55" height="7.25" fill="#eeeeee"/>
<rect x="248.4" y="566.7" width="11.55" height="7.25" fill="#eeeeee"/>
<rect x="261.9" y="566.7" width="11.55" height="7.25" fill="#eeeeee"/>
<rect x="274.5" y="566.7" width="11.55" height="7.25" fill="#eeeeee"/>
<rect x="288" y="566.7" width="11.55" height="7.25" fill="#eeeeee"/>
<rect x="300.6" y="566.7" width="11.55" height="7.25" fill="#eeeeee"/>
<rect x="314.1" y="566.7" width="11.55" height="7.25" fill="#eeeeee"/>
<rect x="326.7" y="566.7" width="11.55" height="7.25" fill="#eeeeee"/>
<rect x="340.2" y="566.7" width="11.55" height="7.25" fill="#eeeeee"/>
<rect x="352.8" y="566.7" width="11.55" height="7.25" fill="#eeeeee"/>
<rect x="366.3" y="566.7" width="11.55" height="7.25" fill="#eeeeee"/>
<rect x="378.9" y="566.7" width="11.55" height="7.25" fill="#eeeeee"/>
<rect x="392.4" y="566.7" width="11.55" height="7.25" fill="#eeeeee"/>
<rect x="405" y="566.7" width="11.55" height="7.25" fill="#eeeeee"/>
<rect x="418.5" y="566.7" width="11.55" height="7.25" fill="#eeeeee"/>
<rect x="431.1" y="566.7" width="11.55" height="7.25" fill="#eeeeee"/>
<rect x="53.1" y="574.65" width="11.55" height="7.25" fill="#eeeeee"/>
<rect x="65.7" y="574.65" width="11.55" height="7.25" fill="#eeeeee"/>
<rect x="79.2" y="574.65" width="11.55" height="7.25" fill="#eeeeee"/>
<rect x="91.8" y="574.65" width="11.55" height="7.25" fill="#eeeeee"/>
<rect x="105.3" y="574.65" width="11.55" height="7.25" fill="#eeeeee"/>
<rect x="117.9" y="574.65" width="11.55" height="7.25" fill="#eeeeee"/>
<rect x="131.4" y="574.65" width="11.55" height="7.25" fill="#eeeeee"/>
<rect x="144" y="574.65" width="11.55" height="7.25" fill="#eeeeee"/>
<rect x="157.5" y="574.65" width="11.55" height="7.25" fill="#eeeeee"/>
<rect x="170.1" y="574.65" width="11.55" height="7.25" fill="#eeeeee"/>
<rect x="183.6" y="574.65" width="11.55" height="7.25" fill="#eeeeee"/>
<rect x="196.2" y="574.65" width="11.55" height="7.25" fill="#eeeeee"/>
<rect x="209.7" y="574.65" width="11.55" height="7.25" fill="#eeeeee"/>
<rect x="222.3" y="574.65" width="11.55" height="7.25" fill="#eeeeee"/>
<rect x="235.8" y="574.65" width="11.55" height="7.25" fill="#eeeeee"/>
<rect x="248.4" y="574.65" width="11.55" height="7.25" fill="#eeeeee"/>
<rect x="261.9" y="574.65" width="11.55" height="7.25" fill="#eeeeee"/>
<rect x="274.5" y="574.65" width="11.55" height="7.25" fill="#eeeeee"/>
<rect x="288" y="574.65" width="11.55" height="7.25" fill="#eeeeee"/>
<rect x="300.6" y="574.65" width="11.55" height="7.25" fill="#eeeeee"/>
<rect x="314.1" y="574.65" width="11.55" height="7.25" fill="#eeeeee"/>
<rect x="326.7" y="574.65" width="11.55" height="7.25" fill="#eeeeee"/>
<rect x="340.2" y="574.65" width="11.55" height="7.25" fill="#eeeeee"/>
<rect x="352.8" y="574.65" width="11.55" height="7.25" fill="#eeeeee"/>
<rect x="366.3" y="574.65" width="11.55" height="7.25" fill="#eeeeee"/>
<rect x="378.9" y="574.65" width="11.55" height="7.25" fill="#eeeeee"/>
<rect x="392.4" y="574.65" width="11.55" height="7.25" fill="#eeeeee"/>
<rect x="405" y="574.65" width="11.55" height="7.25" fill="#eeeeee"/>
<rect x="418.5" y="574.65" width="11.55" height="7.25" fill="#eeeeee"/>
<rect x="431.1" y="574.65" width="11.55" height="7.25" fill="#eeeeee"/>
<rect x="53.1" y="582.6" width="11.55" height="7.25" fill="#eeeeee"/>
<rect x="65.7" y="582.6" width="11.55" height="7.25" fill="#eeeeee"/>
<rect x="79.2" y="582.6" width="11.55" height="7.25" fill="#eeeeee"/>
<rect x="91.8" y="582.6" width="11.55" height="7.25" fill="#eeeeee"/>
<rect x="105.3" y="582.6" width="11.55" height="7.25" fill="#eeeeee"/>
<rect x="117.9" y="582.6" width="11.55" height="7.25" fill="#eeeeee"/>
<rect x="131.4" y="582.6" width="11.55" height="7.25" fill="#eeeeee"/>
<rect x="144" y="582.6" width="11.55" height="7.25" fill="#eeeeee"/>
<rect x="157.5" y="582.6" width="11.55" height="7.25" fill="#eeeeee"/>
<rect x="170.1" y="582.6" width="11.55" height="7.25" fill="#eeeeee"/>
<rect x="183.6" y="582.6" width="11.55" height="7.25" fill="#eeeeee"/>
<rect x="196.2" y="582.6" width="11.55" height="7.25" fill="#eeeeee"/>
<rect x="209.7" y="582.6" width="11.55" height="7.25" fill="#eeeeee"/>
<rect x="222.3" y="582.6" width="11.55" height="7.25" fill="#eeeeee"/>
<rect x="235.8" y="582.6" width="11.55" height="7.25" fill="#eeeeee"/>
<rect x="248.4" y="582.6" width="11.55" height="7.25" fill="#eeeeee"/>
<rect x="261.9" y="582.6" width="11.55" height="7.25" fill="#eeeeee"/>
<rect x="274.5" y="582.6" width="11.55" height="7.25" fill="#eeeeee"/>
<rect x="288" y="582.6" width="11.55" height="7.25" fill="#eeeeee"/>
<rect x="300.6" y="582.6" width="11.55" height="7.25" fill="#eeeeee"/>
<rect x="314.1" y="582.6" width="11.55" height="7.25" fill="#eeeeee"/>
<rect x="326.7" y="582.6" width="11.55" height="7.25" fill="#eeeeee"/>
<rect x="340.2" y="582.6" width="11.55" height="7.25" fill="#eeeeee"/>
<rect x="352.8" y="582.6" width="11.55" height="7.25" fill="#eeeeee"/>
<rect x="366.3" y="582.6" width="11.55" height="7.25" fill="#eeeeee"/>
<rect x="378.9" y="582.6" width="11.55" height="7.25" fill="#eeeeee"/>
<rect x="392.4" y="582.6" width="11.55" height="7.25" fill="#eeeeee"/>
<rect x="405" y="582.6" width="11.55" height="7.25" fill="#eeeeee"/>
<rect x="418.5" y="582.6" width="11.55" height="7.25" fill="#eeeeee"/>
<rect x="431.1" y="582.6" width="11.55" height="7.25" fill="#eeeeee"/>
<rect x="53.1" y="590.54" width="11.55" height="7.25" fill="#eeeeee"/>
<rect x="65.7" y="590.54" width="11.55" height="7.25" fill="#eeeeee"/>
<rect x="79.2" y="590.54" width="11.55" height="7.25" fill="#eeeeee"/>
<rect x="91.8" y="590.54" width="11.55" height="7.25" fill="#eeeeee"/>
<rect x="105.3" y="590.54" width="11.55" height="7.25" fill="#eeeeee"/>
<rect x="117.9" y="590.54" width="11.55" height="7.25" fill="#eeeeee"/>
<rect x="131.4" y="590.54" width="11.55" height="7.25" fill="#eeeeee"/>
<rect x="144" y="590.54" width="11.55" height="7.25" fill="#eeeeee"/>
<rect x="157.5" y="590.54" width="11.55" height="7.25" fill="#eeeeee"/>
<rect x="170.1" y="590.54" width="11.55" height="7.25" fill="#eeeeee"/>
<rect x="183.6" y="590.54" width="11.55" height="7.25" fill="#eeeeee"/>
<rect x="196.2" y="590.54" width="11.55" height="7.25" fill="#eeeeee"/>
<rect x="209.7" y="590.54" width="11.55" height="7.25" fill="#eeeeee"/>
<rect x="222.3" y="590.54" width="11.55" height="7.25" fill="#eeeeee"/>
<rect x="235.8" y="590.54" width="11.55" height="7.25" fill="#eeeeee"/>
<rect x="248.4" y="590.54" width="11.55" height="7.25" fill="#eeeeee"/>
<rect x="261.9" y="590.54" width="11.55" height="7.25" fill="#eeeeee"/>
<rect x="274.5" y="590.54" width="11.55" height="7.25" fill="#eeeeee"/>
<rect x="288" y="590.54" width="11.55" height="7.25" fill="#eeeeee"/>
<rect x="300.6" y="590.54" width="11.55" height="7.25" fill="#eeeeee"/>
<rect x="314.1" y="590.54" width="11.55" height="7.25" fill="#eeeeee"/>
<rect x="326.7" y="590.54" width="11.55" height="7.25" fill="#eeeeee"/>
<rect x="340.2" y="590.54" width="11.55" height="7.25" fill="#eeeeee"/>
<rect x="352.8" y="590.54" width="11.55" height="7.25" fill="#eeeeee"/>
<rect x="366.3" y="590.54" width="11.55" height="7.25" fill="#eeeeee"/>
<rect x="378.9" y="590.54" width="11.55" height="7.25" fill="#eeeeee"/>
<rect x="392.4" y="590.54" width="11.55" height="7.25" fill="#eeeeee"/>
<rect x="405" y="590.54" width="11.55" height="7.25" fill="#eeeeee"/>
<rect x="418.5" y="590.54" width="11.55" height="7.25" fill="#eeeeee"/>
<rect x="431.1" y="590.54" width="11.55" height="7.25" fill="#eeeeee"/>
<rect x="53.1" y="598.49" width="11.55" height="7.25" fill="#eeeeee"/>
<rect x="65.7" y="598.49" width="11.55" height="7.25" fill="#eeeeee"/>
<rect x="79.2" y="598.49" width="11.55" height="7.25" fill="#eeeeee"/>
<rect x="91.8" y="598.49" width="11.55" height="7.25" fill="#eeeeee"/>
<rect x="105.3" y="598.49" width="11.55" height="7.25" fill="#eeeeee"/>
<rect x="117.9" y="598.49" width="11.55" height="7.25" fill="#eeeeee"/>
<rect x="131.4" y="598.49" width="11.55" height="7.25" fill="#eeeeee"/>
<rect x="144" y="598.49" width="11.55" height="7.25" fill="#eeeeee"/>
<rect x="157.5" y="598.49" width="11.55" height="7.25" fill="#eeeeee"/>
<rect x="170.1" y="598.49" width="11.55" height="7.25" fill="#eeeeee"/>
<rect x="183.6" y="598.49" width="11.55" height="7.25" fill="#eeeeee"/>
<rect x="196.2" y="598.49" width="11.55" height="7.25" fill="#eeeeee"/>
<rect x="209.7" y="598.49" width="11.55" height="7.25" fill="#eeeeee"/>
<rect x="222.3" y="598.49" width="11.55" height="7.25" fill="#eeeeee"/>
<rect x="235.8" y="598.49" width="11.55" height="7.25" fill="#eeeeee"/>
<rect x="248.4" y="598.49" width="11.55" height="7.25" fill="#eeeeee"/>
<rect x="261.9" y="598.49" width="11.55" height="7.25" fill="#eeeeee"/>
<rect x="274.5" y="598.49" width="11.55" height="7.25" fill="#eeeeee"/>
<rect x="288" y="598.49" width="11.55" height="7.25" fill="#eeeeee"/>
<rect x="300.6" y="598.49" width="11.55" height="7.25" fill="#eeeeee"/>
<rect x="314.1" y="598.49" width="11.55" height="7.25" fill="#eeeeee"/>
<rect x="326.7" y="598.49" width="11.55" height="7.25" fill="#eeeeee"/>
<rect x="340.2" y="598.49" width="11.55" height="7.25" fill="#eeeeee"/>
<rect x="352.8" y="598.49" width="11.55" height="7.25" fill="#eeeeee"/>
<rect x="366.3" y="598.49" width="11.55" height="7.25" fill="#eeeeee"/>
<rect x="378.9" y="598.49" width="11.55" height="7.25" fill="#eeeeee"/>
<rect x="392.4" y="598.49" width="11.55" height="7.25" fill="#eeeeee"/>
<rect x="405" y="598.49" width="11.55" height="7.25" fill="#eeeeee"/>
<rect x="418.5" y="598.49" width="11.55" height="7.25" fill="#eeeeee"/>
<rect x="431.1" y="598.49" width="11.55" height="7.25" fill="#eeeeee"/>
<rect x="53.1" y="606.44" width="11.55" height="7.25" fill="#eeeeee"/>
<rect x="65.7" y="606.44" width="11.55" height="7.25" fill="#eeeeee"/>
<rect x="79.2" y="606.44" width="11.55" height="7.25" fill="#eeeeee"/>
<rect x="91.8" y="606.44" width="11.55" height="7.25" fill="#eeeeee"/>
<rect x="105.3" y="606.44" width="11.55" height="7.25" fill="#eeeeee"/>
<rect x="117.9" y="606.44" width="11.55" height="7.25" fill="#eeeeee"/>
<rect x="131.4" y="606.44" width="11.55" height="7.25" fill="#eeeeee"/>
<rect x="144" y="606.44" width="11.55" height="7.25" fill="#eeeeee"/>
<rect x="157.5" y="606.44" width="11.55" height="7.25" fill="#eeeeee"/>
<rect x="170.1" y="606.44" width="11.55" height="7.25" fill="#eeeeee"/>
<rect x="183.6" y="606.44" width="11.55" height="7.25" fill="#eeeeee"/>
<rect x="196.2" y="606.44" width="11.55" height="7.25" fill="#eeeeee"/>
<rect x="209.7" y="606.44" width="11.55" height="7.25" fill="#eeeeee"/>
<rect x="222.3" y="606.44" width="11.55" height="7.25" fill="#eeeeee"/>
<rect x="235.8" y="606.44" width="11.55" height="7.25" fill="#eeeeee"/>
<rect x="248.4" y="606.44" width="11.55" height="7.25" fill="#eeeeee"/>
<rect x="261.9" y="606.44" width="11.55" height="7.25" fill="#eeeeee"/>
<rect x="274.5" y="606.44" width="11.55" height="7.25" fill="#eeeeee"/>
<rect x="288" y="606.44" width="11.55" height="7.25" fill="#eeeeee"/>
<rect x="300.6" y="606.44" width="11.55" height="7.25" fill="#eeeeee"/>
<rect x="314.1" y="606.44" width="11.55" height="7.25" fill="#eeeeee"/>
<rect x="326.7" y="606.44" width="11.55" height="7.25" fill="#eeeeee"/>
<rect x="340.2" y="606.44" width="11.55" height="7.25" fill="#eeeeee"/>
<rect x="352.8" y="606.44" width="11.55" height="7.25" fill="#eeeeee"/>
<rect x="366.3" y="606.44" width="11.55" height="7.25" fill="#eeeeee"/>
<rect x="378.9" y="606.44" width="11.55" height="7.25" fill="#eeeeee"/>
<rect x="392.4" y="606.44" width="11.55" height="7.25" fill="#eeeeee"/>
<rect x="405" y="606.44" width="11.55" height="7.25" fill="#eeeeee"/>
<rect x="418.5" y="606.44" width="11.55" height="7.25" fill="#eeeeee"/>
<rect x="431.1" y="606.44" width="11.55" height="7.25" fill="#eeeeee"/>
<rect x="53.1" y="614.38" width="11.55" height="7.25" fill="#eeeeee"/>
<rect x="65.7" y="614.38" width="11.55" height="7.25" fill="#eeeeee"/>
<rect x="79.2" y="614.38" width="11.55" height="7.25" fill="#eeeeee"/>
<rect x="91.8" y="614.38" width="11.55" height="7.25" fill="#eeeeee"/>
<rect x="105.3" y="614.38" width="11.55" height="7.25" fill="#eeeeee"/>
<rect x="117.9" y="614.38" width="11.55" height="7.25" fill="#eeeeee"/>
<rect x="131.4" y="614.38" width="11.55" height="7.25" fill="#eeeeee"/>
<rect x="144" y="614.38" width="11.55" height="7.25" fill="#eeeeee"/>
<rect x="157.5" y="614.38" width="11.55" height="7.25" fill="#eeeeee"/>
<rect x="170.1" y="614.38" width="11.55" height="7.25" fill="#eeeeee"/>
<rect x="183.6" y="614.38" width="11.55" height="7.25" fill="#eeeeee"/>
<rect x="196.2" y="614.38" width="11.55" height="7.25" fill="#eeeeee"/>
<rect x="209.7" y="614.38" width="11.55" height="7.25" fill="#eeeeee"/>
<rect x="222.3" y="614.38" width="11.55" height="7.25" fill="#eeeeee"/>
<rect x="235.8" y="614.38" width="11.55" height="7.25" fill="#eeeeee"/>
<rect x="248.4" y="614.38" width="11.55" height="7.25" fill="#eeeeee"/>
<rect x="261.9" y="614.38" width="11.55" height="7.25" fill="#eeeeee"/>
<rect x="274.5" y="614.38" width="11.55" height="7.25" fill="#eeeeee"/>
<rect x="288" y="614.38" width="11.55" height="7.25" fill="#eeeeee"/>
<rect x="300.6" y="614.38" width="11.55" height="7.25" fill="#eeeeee"/>
<rect x="314.1" y="614.38" width="11.55" height="7.25" fill="#eeeeee"/>
<rect x="326.7" y="614.38" width="11.55" height="7.25" fill="#eeeeee"/>
<rect x="340.2" y="614.38" width="11.55" height="7.25" fill="#eeeeee"/>
<rect x="352.8" y="614.38" width="11.55" height="7.25" fill="#eeeeee"/>
<rect x="366.3" y="614.38" width="11.55" height="7.25" fill="#eeeeee"/>
<rect x="378.9" y="614.38" width="11.55" height="7.25" fill="#eeeeee"/>
<rect x="392.4" y="614.38" width="11.55" height="7.25" fill="#eeeeee"/>
<rect x="405" y="614.38" width="11.55" height="7.25" fill="#eeeeee"/>
<rect x="418.5" y="614.38" width="11.55" height="7.25" fill="#eeeeee"/>
<rect x="431.1" y="614.38" width="11.55" height="7.25" fill="#eeeeee"/>
<rect x="53.1" y="622.33" width="11.55" height="7.25" fill="#eeeeee"/>
<rect x="65.7" y="622.33" width="11.55" height="7.25" fill="#eeeeee"/>
<rect x="79.2" y="622.33" width="11.55" height="7.25" fill="#eeeeee"/>
<rect x="91.8" y="622.33" width="11.55" height="7.25" fill="#eeeeee"/>
<rect x="105.3" y="622.33" width="11.55" height="7.25" fill="#eeeeee"/>
<rect x="117.9" y="622.33" width="11.55" height="7.25" fill="#eeeeee"/>
<rect x="131.4" y="622.33" width="11.55" height="7.25" fill="#eeeeee"/>
<rect x="144" y="622.33" width="11.55" height="7.25" fill="#eeeeee"/>
<rect x="157.5" y="622.33" width="11.55" height="7.25" fill="#eeeeee"/>
<rect x="170.1" y="622.33" width="11.55" height="7.25" fill="#eeeeee"/>
<rect x="183.6" y="622.33" width="11.55" height="7.25" fill="#eeeeee"/>
<rect x="196.2" y="622.33" width="11.55" height="7.25" fill="#eeeeee"/>
<rect x="209.7" y="622.33" width="11.55" height="7.25" fill="#eeeeee"/>
<rect x="222.3" y="622.33" width="11.55" height="7.25" fill="#eeeeee"/>
<rect x="235.8" y="622.33" width="11.55" height="7.25" fill="#eeeeee"/>
<rect x="248.4" y="622.33" width="11.55" height="7.25" fill="#eeeeee"/>
<rect x="261.9" y="622.33" width="11.55" height="7.25" fill="#eeeeee"/>
<rect x="274.5" y="622.33" width="11.55" height="7.25" fill="#eeeeee"/>
<rect x="288" y="622.33" width="11.55" height="7.25" fill="#eeeeee"/>
<rect x="300.6" y="622.33" width="11.55" height="7.25" fill="#eeeeee"/>
<rect x="314.1" y="622.33" width="11.55" height="7.25" fill="#eeeeee"/>
<rect x="326.7" y="622.33" width="11.55" height="7.25" fill="#eeeeee"/>
<rect x="340.2" y="622.33" width="11.55" height="7.25" fill="#eeeeee"/>
<rect x="352.8" y="622.33" width="11.55" height="7.25" fill="#eeeeee"/>
<rect x="366.3" y="622.33" width="11.55" height="7.25" fill="#eeeeee"/>
<rect x="378.9" y="622.33" width="11.55" height="7.25" fill="#eeeeee"/>
<rect x="392.4" y="622.33" width="11.55" height="7.25" fill="#eeeeee"/>
<rect x="405" y="622.33" width="11.55" height="7.25" fill="#eeeeee"/>
<rect x="418.5" y="622.33" width="11.55" height="7.25" fill="#eeeeee"/>
<rect x="431.1" y="622.33" width="11.55" height="7.25" fill="#eeeeee"/>
<rect x="53.1" y="630.28" width="11.55" height="7.25" fill="#eeeeee"/>
<rect x="65.7" y="630.28" width="11.55" height="7.25" fill="#eeeeee"/>
<rect x="79.2" y="630.28" width="11.55" height="7.25" fill="#eeeeee"/>
<rect x="91.8" y="630.28" width="11.55" height="7.25" fill="#eeeeee"/>
<rect x="105.3" y="630.28" width="11.55" height="7.25" fill="#eeeeee"/>
<rect x="117.9" y="630.28" width="11.55" height="7.25" fill="#eeeeee"/>
<rect x="131.4" y="630.28" width="11.55" height="7.25" fill="#eeeeee"/>
<rect x="144" y="630.28" width="11.55" height="7.25" fill="#eeeeee"/>
<rect x="157.5" y="630.28" width="11.55" height="7.25" fill="#eeeeee"/>
<rect x="170.1" y="630.28" width="11.55" height="7.25" fill="#eeeeee"/>
<rect x="183.6" y="630.28" width="11.55" height="7.25" fill="#eeeeee"/>
<rect x="196.2" y="630.28" width="11.55" height="7.25" fill="#eeeeee"/>
<rect x="209.7" y="630.28" width="11.55" height="7.25" fill="#eeeeee"/>
<rect x="222.3" y="630.28" width="11.55" height="7.25" fill="#eeeeee"/>
<rect x="235.8" y="630.28" width="11.55" height="7.25" fill="#eeeeee"/>
<rect x="248.4" y="630.28" width="11.55" height="7.25" fill="#eeeeee"/>
<rect x="261.9" y="630.28" width="11.55" height="7.25" fill="#eeeeee"/>
<rect x="274.5" y="630.28" width="11.55" height="7.25" fill="#eeeeee"/>
<rect x="288" y="630.28" width="11.55" height="7.25" fill="#eeeeee"/>
<rect x="300.6" y="630.28" width="11.55" height="7.25" fill="#eeeeee"/>
<rect x="314.1" y="630.28" width="11.55" height="7.25" fill="#eeeeee"/>
<rect x="326.7" y="630.28" width="11.55" height="7.25" fill="#eeeeee"/>
<rect x="340.2" y="630.28" width="11.55" height="7.25" fill="#eeeeee"/>
<rect x="352.8" y="630.28" width="11.55" height="7.25" fill="#eeeeee"/>
<rect x="366.3" y="630.28" width="11.55" height="7.25" fill="#eeeeee"/>
<rect x="378.9" y="630.28" width="11.55" height="7.25" fill="#eeeeee"/>
<rect x="392.4" y="630.28" width="11.55" height="7.25" fill="#eeeeee"/>
<rect x="405" y="630.28" width="11.55" height="7.25" fill="#eeeeee"/>
<rect x="418.5" y="630.28" width="11.55" height="7.25" fill="#eeeeee"/>
<rect x="431.1" y="630.28" width="11.55" height="7.25" fill="#eeeeee"/>
<rect x="65.7" y="243.17" width="11.55" height="2.66" fill="#0b6f70"/>
<rect x="91.8" y="243.17" width="11.55" height="2.66" fill="#7eeaf8"/>
<rect x="105.3" y="243.17" width="11.55" height="2.66" fill="#0b6f70"/>
<rect x="117.9" y="243.17" width="11.55" height="2.66" fill="#0b6f70"/>
<rect x="131.4" y="243.17" width="11.55" height="2.66" fill="#0b6f70"/>
<rect x="144" y="243.17" width="11.55" height="2.66" fill="#0b6f70"/>
<rect x="157.5" y="243.17" width="11.55" height="2.66" fill="#0b6f70"/>
<rect x="170.1" y="243.17" width="11.55" height="2.66" fill="#0b6f70"/>
<rect x="187.38" y="240.53" width="4" height="7.95" fill="#000000"/>
<rect x="183.6" y="243.17" width="11.55" height="2.66" fill="#0b6f70"/>
<rect x="199.97" y="240.53" width="4" height="7.95" fill="#000000"/>
<rect x="196.2" y="243.17" width="11.55" height="2.66" fill="#0b6f70"/>
<rect x="209.7" y="243.17" width="11.55" height="2.66" fill="#0b6f70"/>
<rect x="222.3" y="243.17" width="11.55" height="2.66" fill="#0b6f70"/>
<rect x="235.8" y="243.17" width="11.55" height="2.66" fill="#7eeaf8"/>
<rect x="248.4" y="243.17" width="11.55" height="2.66" fill="#7eeaf8"/>
<rect x="261.9" y="243.17" width="11.55" height="2.66" fill="#0b6f70"/>
<rect x="274.5" y="243.17" width="11.55" height="2.66" fill="#0b6f70"/>
<rect x="314.1" y="243.17" width="11.55" height="2.66" fill="#0b6f70"/>
<rect x="326.7" y="243.17" width="11.55" height="2.66" fill="#0b6f70"/>
<rect x="340.2" y="243.17" width="11.55" height="2.66" fill="#0b6f70"/>
<rect x="352.8" y="243.17" width="11.55" height="2.66" fill="#0b6f70"/>
<rect x="366.3" y="243.17" width="11.55" height="2.66" fill="#0b6f70"/>
<rect x="378.9" y="243.17" width="11.55" height="2.66" fill="#0b6f70"/>
<rect x="392.4" y="243.17" width="11.55" height="2.66" fill="#0b6f70"/>
<rect x="405" y="243.17" width="11.55" height="2.66" fill="#0b6f70"/>
<rect x="418.5" y="243.17" width="11.55" height="2.66" fill="#0b6f70"/>
<rect x="431.1" y="243.17" width="11.55" height="2.66" fill="#0b6f70"/>
<rect x="53.1" y="251.12" width="11.55" height="2.66" fill="#7eeaf8"/>
<rect x="65.7" y="251.12" width="11.55" height="2.66" fill="#7eeaf8"/>
<rect x="79.2" y="251.12" width="11.55" height="2.66" fill="#7eeaf8"/>
<rect x="91.8" y="251.12" width="11.55" height="2.66" fill="#7eeaf8"/>
<rect x="187.38" y="248.47" width="4" height="7.95" fill="#000000"/>
<rect x="199.97" y="248.47" width="4" height="7.95" fill="#000000"/>
<rect x="209.7" y="251.12" width="11.55" height="2.66" fill="#7eeaf8"/>
<rect x="222.3" y="251.12" width="11.55" height="2.66" fill="#7eeaf8"/>
<rect x="261.9" y="251.12" width="11.55" height="2.66" fill="#0b6f70"/>
<rect x="274.5" y="251.12" width="11.55" height="2.66" fill="#0b6f70"/>
<rect x="288" y="251.12" width="11.55" height="2.66" fill="#7eeaf8"/>
<rect x="300.6" y="251.12" width="11.55" height="2.66" fill="#7eeaf8"/>
<rect x="314.1" y="251.12" width="11.55" height="2.66" fill="#0b6f70"/>
<rect x="326.7" y="251.12" width="11.55" height="2.66" fill="#0b6f70"/>
<rect x="344.12" y="248.67" width="3.7" height="7.55" fill="#8c8c8c" stroke="#666" stroke-width="0.45"/>
<rect x="356.72" y="248.67" width="3.7" height="7.55" fill="#8c8c8c" stroke="#666" stroke-width="0.45"/>
<rect x="105.3" y="259.06" width="11.55" height="2.66" fill="#0b6f70"/>
<rect x="117.9" y="259.06" width="11.55" height="2.66" fill="#0b6f70"/>
<rect x="131.4" y="259.06" width="11.55" height="2.66" fill="#0b6f70"/>
<rect x="144" y="259.06" width="11.55" height="2.66" fill="#0b6f70"/>
<rect x="157.5" y="259.06" width="11.55" height="2.66" fill="#0b6f70"/>
<rect x="170.1" y="259.06" width="11.55" height="2.66" fill="#0b6f70"/>
<rect x="183.6" y="256.77" width="11.55" height="7.25" fill="#ae4b3a"/>
<rect x="196.2" y="256.77" width="11.55" height="7.25" fill="#ae4b3a"/>
<rect x="235.8" y="259.06" width="11.55" height="2.66" fill="#0b6f70"/>
<rect x="248.4" y="259.06" width="11.55" height="2.66" fill="#0b6f70"/>
<rect x="274.5" y="256.77" width="11.55" height="7.25" fill="#ae4b3a"/>
<rect x="340.2" y="259.06" width="11.55" height="2.66" fill="#0b6f70"/>
<rect x="352.8" y="256.77" width="11.55" height="7.25" fill="#ae4b3a"/>
<rect x="352.8" y="259.06" width="11.55" height="2.66" fill="#0b6f70"/>
<rect x="79.2" y="267.01" width="11.55" height="2.66" fill="#7eeaf8"/>
<rect x="91.8" y="267.01" width="11.55" height="2.66" fill="#7eeaf8"/>
<rect x="187.38" y="264.37" width="4" height="7.95" fill="#000000"/>
<rect x="199.97" y="264.37" width="4" height="7.95" fill="#000000"/>
<rect x="235.8" y="267.01" width="11.55" height="2.66" fill="#7eeaf8"/>
<rect x="248.4" y="267.01" width="11.55" height="2.66" fill="#7eeaf8"/>
<rect x="265.67" y="264.37" width="4" height="7.95" fill="#000000"/>
<rect x="278.27" y="264.37" width="4" height="7.95" fill="#000000"/>
<rect x="317.87" y="264.37" width="4" height="7.95" fill="#000000"/>
<rect x="330.47" y="264.37" width="4" height="7.95" fill="#000000"/>
<rect x="105.3" y="272.66" width="11.55" height="7.25" fill="#64b998"/>
<rect x="117.9" y="272.66" width="11.55" height="7.25" fill="#64b998"/>
<rect x="209.7" y="274.96" width="11.55" height="2.66" fill="#7eeaf8"/>
<rect x="222.3" y="274.96" width="11.55" height="2.66" fill="#7eeaf8"/>
<rect x="235.8" y="272.66" width="11.55" height="7.25" fill="#64b998"/>
<rect x="366.3" y="272.66" width="11.55" height="7.25" fill="#64b998"/>
<rect x="378.9" y="272.66" width="11.55" height="7.25" fill="#64b998"/>
<rect x="392.4" y="272.66" width="11.55" height="7.25" fill="#ae4b3a"/>
<rect x="65.7" y="282.91" width="11.55" height="2.66" fill="#7eeaf8"/>
<rect x="79.2" y="282.91" width="11.55" height="2.66" fill="#7eeaf8"/>
<rect x="91.8" y="282.91" width="11.55" height="2.66" fill="#7eeaf8"/>
<rect x="274.5" y="280.61" width="11.55" height="7.25" fill="#ae4b3a"/>
<rect x="314.1" y="280.61" width="11.55" height="7.25" fill="#64b998"/>
<rect x="326.7" y="280.61" width="11.55" height="7.25" fill="#64b998"/>
<rect x="422.27" y="280.26" width="4" height="7.95" fill="#000000"/>
<rect x="434.88" y="280.26" width="4" height="7.95" fill="#000000"/>
<rect x="53.1" y="290.85" width="11.55" height="2.66" fill="#7eeaf8"/>
<rect x="65.7" y="290.85" width="11.55" height="2.66" fill="#7eeaf8"/>
<rect x="79.2" y="290.85" width="11.55" height="2.66" fill="#0b6f70"/>
<rect x="91.8" y="290.85" width="11.55" height="2.66" fill="#0b6f70"/>
<rect x="183.6" y="288.56" width="11.55" height="7.25" fill="#ae4b3a"/>
<rect x="196.2" y="288.56" width="11.55" height="7.25" fill="#ae4b3a"/>
<rect x="340.2" y="288.56" width="11.55" height="7.25" fill="#ae4b3a"/>
<rect x="352.8" y="288.56" width="11.55" height="7.25" fill="#ae4b3a"/>
<rect x="53.1" y="298.8" width="11.55" height="2.66" fill="#0b6f70"/>
<rect x="79.2" y="298.8" width="11.55" height="2.66" fill="#7eeaf8"/>
<rect x="91.8" y="298.8" width="11.55" height="2.66" fill="#7eeaf8"/>
<rect x="131.4" y="296.5" width="11.55" height="7.25" fill="#ae4b3a"/>
<rect x="144" y="296.5" width="11.55" height="7.25" fill="#ae4b3a"/>
<rect x="183.6" y="296.5" width="11.55" height="7.25" fill="#ae4b3a"/>
<rect x="196.2" y="296.5" width="11.55" height="7.25" fill="#ae4b3a"/>
<rect x="352.8" y="298.8" width="11.55" height="2.66" fill="#0b6f70"/>
<rect x="105.3" y="306.75" width="11.55" height="2.66" fill="#0b6f70"/>
<rect x="117.9" y="306.75" width="11.55" height="2.66" fill="#0b6f70"/>
<rect x="157.5" y="306.75" width="11.55" height="2.66" fill="#0b6f70"/>
<rect x="170.1" y="306.75" width="11.55" height="2.66" fill="#0b6f70"/>
<rect x="274.5" y="304.45" width="11.55" height="7.25" fill="#ae4b3a"/>
<rect x="366.3" y="304.45" width="11.55" height="7.25" fill="#64b998"/>
<rect x="378.9" y="304.45" width="11.55" height="7.25" fill="#64b998"/>
<rect x="91.8" y="314.69" width="11.55" height="2.66" fill="#0b6f70"/>
<rect x="183.6" y="314.69" width="11.55" height="2.66" fill="#0b6f70"/>
<rect x="196.2" y="314.69" width="11.55" height="2.66" fill="#0b6f70"/>
<rect x="314.1" y="314.69" width="11.55" height="2.66" fill="#0b6f70"/>
<rect x="326.7" y="314.69" width="11.55" height="2.66" fill="#0b6f70"/>
<rect x="418.5" y="312.4" width="11.55" height="7.25" fill="#ae4b3a"/>
<rect x="431.1" y="312.4" width="11.55" height="7.25" fill="#ae4b3a"/>
<rect x="53.1" y="322.64" width="11.55" height="2.66" fill="#0b6f70"/>
<rect x="91.8" y="322.64" width="11.55" height="2.66" fill="#0b6f70"/>
<rect x="235.8" y="320.35" width="11.55" height="7.25" fill="#64b998"/>
<rect x="248.4" y="320.35" width="11.55" height="7.25" fill="#64b998"/>
<rect x="326.7" y="320.35" width="11.55" height="7.25" fill="#64b998"/>
<rect x="382.68" y="320" width="4" height="7.95" fill="#000000"/>
<rect x="378.9" y="322.64" width="11.55" height="2.66" fill="#7eeaf8"/>
<rect x="131.4" y="328.29" width="11.55" height="7.25" fill="#ae4b3a"/>
<rect x="144" y="328.29" width="11.55" height="7.25" fill="#ae4b3a"/>
<rect x="157.5" y="328.29" width="11.55" height="7.25" fill="#ae4b3a"/>
<rect x="170.1" y="328.29" width="11.55" height="7.25" fill="#ae4b3a"/>
<rect x="183.6" y="328.29" width="11.55" height="7.25" fill="#ae4b3a"/>
<rect x="196.2" y="328.29" width="11.55" height="7.25" fill="#ae4b3a"/>
<rect x="261.9" y="338.53" width="11.55" height="2.66" fill="#7eeaf8"/>
<rect x="274.5" y="338.53" width="11.55" height="2.66" fill="#7eeaf8"/>
<rect x="314.1" y="338.53" width="11.55" height="2.66" fill="#0b6f70"/>
<rect x="326.7" y="338.53" width="11.55" height="2.66" fill="#0b6f70"/>
<rect x="344.12" y="336.09" width="3.7" height="7.55" fill="#8c8c8c" stroke="#666" stroke-width="0.45"/>
<rect x="356.72" y="336.09" width="3.7" height="7.55" fill="#8c8c8c" stroke="#666" stroke-width="0.45"/>
<rect x="105.3" y="346.48" width="11.55" height="2.66" fill="#7eeaf8"/>
<rect x="117.9" y="346.48" width="11.55" height="2.66" fill="#7eeaf8"/>
<rect x="183.6" y="344.19" width="11.55" height="7.25" fill="#ae4b3a"/>
<rect x="196.2" y="344.19" width="11.55" height="7.25" fill="#ae4b3a"/>
<rect x="274.5" y="344.19" width="11.55" height="7.25" fill="#ae4b3a"/>
<rect x="431.1" y="344.19" width="11.55" height="7.25" fill="#ae4b3a"/>
<rect x="105.3" y="352.13" width="11.55" height="7.25" fill="#64b998"/>
<rect x="117.9" y="352.13" width="11.55" height="7.25" fill="#64b998"/>
<rect x="235.8" y="352.13" width="11.55" height="7.25" fill="#64b998"/>
<rect x="366.3" y="352.13" width="11.55" height="7.25" fill="#64b998"/>
<rect x="378.9" y="352.13" width="11.55" height="7.25" fill="#64b998"/>
<rect x="392.4" y="352.13" width="11.55" height="7.25" fill="#ae4b3a"/>
<rect x="131.4" y="360.08" width="11.55" height="7.25" fill="#ae4b3a"/>
<rect x="144" y="360.08" width="11.55" height="7.25" fill="#ae4b3a"/>
<rect x="183.6" y="360.08" width="11.55" height="7.25" fill="#ae4b3a"/>
<rect x="196.2" y="360.08" width="11.55" height="7.25" fill="#ae4b3a"/>
<rect x="274.5" y="360.08" width="11.55" height="7.25" fill="#ae4b3a"/>
<rect x="352.8" y="360.08" width="11.55" height="7.25" fill="#ae4b3a"/>
<rect x="161.28" y="367.68" width="4" height="7.95" fill="#000000"/>
<rect x="173.88" y="367.68" width="4" height="7.95" fill="#000000"/>
<rect x="314.1" y="370.32" width="11.55" height="2.66" fill="#0b6f70"/>
<rect x="326.7" y="370.32" width="11.55" height="2.66" fill="#0b6f70"/>
<rect x="418.5" y="368.03" width="11.55" height="7.25" fill="#ae4b3a"/>
<rect x="431.1" y="368.03" width="11.55" height="7.25" fill="#ae4b3a"/>
<rect x="131.4" y="375.97" width="11.55" height="7.25" fill="#ae4b3a"/>
<rect x="144" y="375.97" width="11.55" height="7.25" fill="#ae4b3a"/>
<rect x="183.6" y="375.97" width="11.55" height="7.25" fill="#ae4b3a"/>
<rect x="196.2" y="375.97" width="11.55" height="7.25" fill="#ae4b3a"/>
<rect x="274.5" y="375.97" width="11.55" height="7.25" fill="#ae4b3a"/>
<rect x="352.8" y="375.97" width="11.55" height="7.25" fill="#ae4b3a"/>
<rect x="183.6" y="383.92" width="11.55" height="7.25" fill="#ae4b3a"/>
<rect x="196.2" y="383.92" width="11.55" height="7.25" fill="#ae4b3a"/>
<rect x="352.8" y="383.92" width="11.55" height="7.25" fill="#ae4b3a"/>
<rect x="366.3" y="386.22" width="11.55" height="2.66" fill="#0b6f70"/>
<rect x="378.9" y="386.22" width="11.55" height="2.66" fill="#0b6f70"/>
<rect x="392.4" y="383.92" width="11.55" height="7.25" fill="#ae4b3a"/>
<rect x="109.08" y="391.52" width="4" height="7.95" fill="#000000"/>
<rect x="121.68" y="391.52" width="4" height="7.95" fill="#000000"/>
<rect x="209.7" y="391.87" width="11.55" height="7.25" fill="#ae4b3a"/>
<rect x="222.3" y="391.87" width="11.55" height="7.25" fill="#ae4b3a"/>
<rect x="274.5" y="391.87" width="11.55" height="7.25" fill="#ae4b3a"/>
<rect x="352.8" y="391.87" width="11.55" height="7.25" fill="#ae4b3a"/>
<rect x="53.1" y="402.11" width="11.55" height="2.66" fill="#0b6f70"/>
<rect x="65.7" y="402.11" width="11.55" height="2.66" fill="#0b6f70"/>
<rect x="131.4" y="399.81" width="11.55" height="7.25" fill="#ae4b3a"/>
<rect x="144" y="399.81" width="11.55" height="7.25" fill="#ae4b3a"/>
<rect x="183.6" y="399.81" width="11.55" height="7.25" fill="#ae4b3a"/>
<rect x="196.2" y="399.81" width="11.55" height="7.25" fill="#ae4b3a"/>
<rect x="105.3" y="407.76" width="11.55" height="7.25" fill="#64b998"/>
<rect x="117.9" y="407.76" width="11.55" height="7.25" fill="#64b998"/>
<rect x="209.7" y="410.06" width="11.55" height="2.66" fill="#0b6f70"/>
<rect x="222.3" y="410.06" width="11.55" height="2.66" fill="#0b6f70"/>
<rect x="418.5" y="410.06" width="11.55" height="2.66" fill="#7eeaf8"/>
<rect x="431.1" y="410.06" width="11.55" height="2.66" fill="#0b6f70"/>
<rect x="131.4" y="415.71" width="11.55" height="7.25" fill="#ae4b3a"/>
<rect x="144" y="415.71" width="11.55" height="7.25" fill="#ae4b3a"/>
<rect x="183.6" y="415.71" width="11.55" height="7.25" fill="#ae4b3a"/>
<rect x="196.2" y="415.71" width="11.55" height="7.25" fill="#ae4b3a"/>
<rect x="274.5" y="415.71" width="11.55" height="7.25" fill="#ae4b3a"/>
<rect x="431.1" y="418" width="11.55" height="2.66" fill="#0b6f70"/>
<rect x="183.6" y="423.66" width="11.55" height="7.25" fill="#ae4b3a"/>
<rect x="196.2" y="423.66" width="11.55" height="7.25" fill="#ae4b3a"/>
<rect x="274.5" y="423.66" width="11.55" height="7.25" fill="#ae4b3a"/>
<rect x="422.27" y="423.31" width="4" height="7.95" fill="#000000"/>
<rect x="431.1" y="423.66" width="11.55" height="7.25" fill="#ae4b3a"/>
<rect x="105.3" y="431.6" width="11.55" height="7.25" fill="#ae4b3a"/>
<rect x="117.9" y="431.6" width="11.55" height="7.25" fill="#ae4b3a"/>
<rect x="352.8" y="431.6" width="11.55" height="7.25" fill="#ae4b3a"/>
<rect x="392.4" y="431.6" width="11.55" height="7.25" fill="#ae4b3a"/>
<rect x="418.5" y="431.6" width="11.55" height="7.25" fill="#ae4b3a"/>
<rect x="183.6" y="439.55" width="11.55" height="7.25" fill="#ae4b3a"/>
<rect x="196.2" y="439.55" width="11.55" height="7.25" fill="#ae4b3a"/>
<rect x="274.5" y="439.55" width="11.55" height="7.25" fill="#ae4b3a"/>
<rect x="352.8" y="439.55" width="11.55" height="7.25" fill="#ae4b3a"/>
<rect x="382.68" y="439.2" width="4" height="7.95" fill="#000000"/>
<rect x="131.4" y="447.5" width="11.55" height="7.25" fill="#ae4b3a"/>
<rect x="144" y="447.5" width="11.55" height="7.25" fill="#ae4b3a"/>
<rect x="161.43" y="447.35" width="3.7" height="7.55" fill="#8c8c8c" stroke="#666" stroke-width="0.45"/>
<rect x="183.6" y="447.5" width="11.55" height="7.25" fill="#ae4b3a"/>
<rect x="196.2" y="447.5" width="11.55" height="7.25" fill="#ae4b3a"/>
<rect x="53.1" y="457.74" width="11.55" height="2.66" fill="#7eeaf8"/>
<rect x="65.7" y="457.74" width="11.55" height="2.66" fill="#7eeaf8"/>
<rect x="183.6" y="455.44" width="11.55" height="7.25" fill="#ae4b3a"/>
<rect x="274.5" y="455.44" width="11.55" height="7.25" fill="#ae4b3a"/>
<rect x="352.8" y="455.44" width="11.55" height="7.25" fill="#ae4b3a"/>
<rect x="53.1" y="465.69" width="11.55" height="2.66" fill="#0b6f70"/>
<rect x="65.7" y="465.69" width="11.55" height="2.66" fill="#0b6f70"/>
<rect x="235.8" y="463.39" width="11.55" height="7.25" fill="#64b998"/>
<rect x="288" y="465.69" width="11.55" height="2.66" fill="#0b6f70"/>
<rect x="300.6" y="465.69" width="11.55" height="2.66" fill="#0b6f70"/>
<rect x="209.7" y="471.34" width="11.55" height="7.25" fill="#ae4b3a"/>
<rect x="222.3" y="471.34" width="11.55" height="7.25" fill="#ae4b3a"/>
<rect x="274.5" y="471.34" width="11.55" height="7.25" fill="#ae4b3a"/>
<rect x="366.3" y="471.34" width="11.55" height="7.25" fill="#64b998"/>
<rect x="378.9" y="471.34" width="11.55" height="7.25" fill="#64b998"/>
<rect x="173.88" y="478.94" width="4" height="7.95" fill="#000000"/>
<rect x="183.6" y="479.28" width="11.55" height="7.25" fill="#ae4b3a"/>
<rect x="196.2" y="479.28" width="11.55" height="7.25" fill="#ae4b3a"/>
<rect x="274.5" y="479.28" width="11.55" height="7.25" fill="#ae4b3a"/>
<rect x="431.1" y="479.28" width="11.55" height="7.25" fill="#ae4b3a"/>
<rect x="79.2" y="489.53" width="11.55" height="2.66" fill="#0b6f70"/>
<rect x="274.5" y="487.23" width="11.55" height="7.25" fill="#ae4b3a"/>
<rect x="392.4" y="487.23" width="11.55" height="7.25" fill="#ae4b3a"/>
<rect x="405" y="487.23" width="11.55" height="7.25" fill="#ae4b3a"/>
<rect x="431.1" y="487.23" width="11.55" height="7.25" fill="#ae4b3a"/>
<rect x="131.4" y="495.18" width="11.55" height="7.25" fill="#ae4b3a"/>
<rect x="144" y="495.18" width="11.55" height="7.25" fill="#ae4b3a"/>
<rect x="183.6" y="495.18" width="11.55" height="7.25" fill="#ae4b3a"/>
<rect x="196.2" y="495.18" width="11.55" height="7.25" fill="#ae4b3a"/>
<rect x="274.5" y="495.18" width="11.55" height="7.25" fill="#ae4b3a"/>
<rect x="53.1" y="505.42" width="11.55" height="2.66" fill="#0b6f70"/>
<rect x="65.7" y="505.42" width="11.55" height="2.66" fill="#0b6f70"/>
<rect x="91.8" y="503.13" width="11.55" height="7.25" fill="#64b998"/>
<rect x="105.3" y="503.13" width="11.55" height="7.25" fill="#64b998"/>
<rect x="117.9" y="503.13" width="11.55" height="7.25" fill="#64b998"/>
<rect x="53.1" y="513.37" width="11.55" height="2.66" fill="#0b6f70"/>
<rect x="79.2" y="513.37" width="11.55" height="2.66" fill="#7eeaf8"/>
<rect x="105.3" y="511.07" width="11.55" height="7.25" fill="#64b998"/>
<rect x="117.9" y="511.07" width="11.55" height="7.25" fill="#64b998"/>
<rect x="235.8" y="511.07" width="11.55" height="7.25" fill="#64b998"/>
<rect x="187.38" y="518.67" width="4" height="7.95" fill="#000000"/>
<rect x="199.97" y="518.67" width="4" height="7.95" fill="#000000"/>
<rect x="344.12" y="518.87" width="3.7" height="7.55" fill="#8c8c8c" stroke="#666" stroke-width="0.45"/>
<rect x="352.8" y="519.02" width="11.55" height="7.25" fill="#ae4b3a"/>
<rect x="392.4" y="519.02" width="11.55" height="7.25" fill="#ae4b3a"/>
<rect x="105.3" y="529.26" width="11.55" height="2.66" fill="#0b6f70"/>
<rect x="117.9" y="529.26" width="11.55" height="2.66" fill="#0b6f70"/>
<rect x="274.5" y="526.97" width="11.55" height="7.25" fill="#ae4b3a"/>
<rect x="366.3" y="526.97" width="11.55" height="7.25" fill="#64b998"/>
<rect x="378.9" y="526.97" width="11.55" height="7.25" fill="#64b998"/>
<rect x="131.4" y="534.91" width="11.55" height="7.25" fill="#ae4b3a"/>
<rect x="144" y="534.91" width="11.55" height="7.25" fill="#ae4b3a"/>
<rect x="183.6" y="534.91" width="11.55" height="7.25" fill="#ae4b3a"/>
<rect x="196.2" y="534.91" width="11.55" height="7.25" fill="#ae4b3a"/>
<rect x="340.2" y="537.21" width="11.55" height="2.66" fill="#0b6f70"/>
<rect x="53.1" y="545.16" width="11.55" height="2.66" fill="#0b6f70"/>
<rect x="65.7" y="545.16" width="11.55" height="2.66" fill="#0b6f70"/>
<rect x="79.2" y="545.16" width="11.55" height="2.66" fill="#7eeaf8"/>
<rect x="91.8" y="545.16" width="11.55" height="2.66" fill="#7eeaf8"/>
<rect x="352.8" y="542.86" width="11.55" height="7.25" fill="#ae4b3a"/>
<rect x="157.5" y="550.81" width="11.55" height="7.25" fill="#ae4b3a"/>
<rect x="170.1" y="550.81" width="11.55" height="7.25" fill="#ae4b3a"/>
<rect x="209.7" y="550.81" width="11.55" height="7.25" fill="#ae4b3a"/>
<rect x="222.3" y="550.81" width="11.55" height="7.25" fill="#ae4b3a"/>
<rect x="352.8" y="550.81" width="11.55" height="7.25" fill="#ae4b3a"/>
<rect x="53.1" y="561.05" width="11.55" height="2.66" fill="#7eeaf8"/>
<rect x="79.2" y="561.05" width="11.55" height="2.66" fill="#7eeaf8"/>
<rect x="105.3" y="558.75" width="11.55" height="7.25" fill="#64b998"/>
<rect x="117.9" y="558.75" width="11.55" height="7.25" fill="#64b998"/>
<rect x="431.1" y="561.05" width="11.55" height="2.66" fill="#0b6f70"/>
<rect x="53.1" y="569" width="11.55" height="2.66" fill="#0b6f70"/>
<rect x="65.7" y="569" width="11.55" height="2.66" fill="#0b6f70"/>
<rect x="91.8" y="569" width="11.55" height="2.66" fill="#0b6f70"/>
<rect x="314.1" y="566.7" width="11.55" height="7.25" fill="#64b998"/>
<rect x="352.8" y="566.7" width="11.55" height="7.25" fill="#ae4b3a"/>
<rect x="105.3" y="574.65" width="11.55" height="7.25" fill="#64b998"/>
<rect x="117.9" y="574.65" width="11.55" height="7.25" fill="#64b998"/>
<rect x="131.4" y="576.94" width="11.55" height="2.66" fill="#0b6f70"/>
<rect x="144" y="576.94" width="11.55" height="2.66" fill="#0b6f70"/>
<rect x="274.5" y="574.65" width="11.55" height="7.25" fill="#ae4b3a"/>
<rect x="91.8" y="584.89" width="11.55" height="2.66" fill="#7eeaf8"/>
<rect x="183.6" y="582.6" width="11.55" height="7.25" fill="#ae4b3a"/>
<rect x="196.2" y="582.6" width="11.55" height="7.25" fill="#ae4b3a"/>
<rect x="274.5" y="582.6" width="11.55" height="7.25" fill="#ae4b3a"/>
<rect x="431.1" y="582.6" width="11.55" height="7.25" fill="#ae4b3a"/>
<rect x="235.8" y="590.54" width="11.55" height="7.25" fill="#64b998"/>
<rect x="366.3" y="590.54" width="11.55" height="7.25" fill="#64b998"/>
<rect x="378.9" y="590.54" width="11.55" height="7.25" fill="#64b998"/>
<rect x="392.4" y="590.54" width="11.55" height="7.25" fill="#ae4b3a"/>
<rect x="53.1" y="600.78" width="11.55" height="2.66" fill="#0b6f70"/>
<rect x="65.7" y="600.78" width="11.55" height="2.66" fill="#0b6f70"/>
<rect x="209.7" y="598.49" width="11.55" height="7.25" fill="#ae4b3a"/>
<rect x="222.3" y="598.49" width="11.55" height="7.25" fill="#ae4b3a"/>
<rect x="157.5" y="606.44" width="11.55" height="7.25" fill="#ae4b3a"/>
<rect x="170.1" y="606.44" width="11.55" height="7.25" fill="#ae4b3a"/>
<rect x="183.6" y="606.44" width="11.55" height="7.25" fill="#ae4b3a"/>
<rect x="196.2" y="606.44" width="11.55" height="7.25" fill="#ae4b3a"/>
<rect x="91.8" y="616.68" width="11.55" height="2.66" fill="#0b6f70"/>
<rect x="196.2" y="614.38" width="11.55" height="7.25" fill="#ae4b3a"/>
<rect x="209.7" y="614.38" width="11.55" height="7.25" fill="#ae4b3a"/>
<rect x="222.3" y="614.38" width="11.55" height="7.25" fill="#ae4b3a"/>
<rect x="222.3" y="622.33" width="11.55" height="7.25" fill="#ae4b3a"/>
<rect x="274.5" y="622.33" width="11.55" height="7.25" fill="#ae4b3a"/>
<rect x="366.3" y="622.33" width="11.55" height="7.25" fill="#64b998"/>
<rect x="378.9" y="622.33" width="11.55" height="7.25" fill="#64b998"/>
<rect x="183.6" y="630.28" width="11.55" height="7.25" fill="#ae4b3a"/>
<rect x="274.5" y="630.28" width="11.55" height="7.25" fill="#ae4b3a"/>
<rect x="352.8" y="630.28" width="11.55" height="7.25" fill="#ae4b3a"/>
<rect x="392.4" y="630.28" width="11.55" height="7.25" fill="#ae4b3a"/>
<text x="51.2" y="246.65" font-size="4.6" text-anchor="end" class="s">TP53</text>
<rect x="19.3" y="240.53" width="6.9" height="7.95" fill="#000000" stroke="#1a1a1a" stroke-width="0.6"/>
<text x="453.3" y="246.6" font-size="4.6" text-anchor="end" class="s">87%</text>
<rect x="456.2" y="242.2" width="1.84" height="4.6" fill="#000000"/>
<rect x="458.04" y="242.2" width="21.16" height="4.6" fill="#0b6f70"/>
<rect x="479.2" y="242.2" width="2.76" height="4.6" fill="#7eeaf8"/>
<text x="51.2" y="254.6" font-size="4.6" text-anchor="end" class="s">PTEN</text>
<rect x="19.3" y="248.47" width="6.9" height="7.95" fill="#ff8562" stroke="#1a1a1a" stroke-width="0.6"/>
<text x="453.3" y="254.55" font-size="4.6" text-anchor="end" class="s">53%</text>
<rect x="456.2" y="250.15" width="1.84" height="4.6" fill="#8c8c8c"/>
<rect x="458.04" y="250.15" width="1.84" height="4.6" fill="#000000"/>
<rect x="459.88" y="250.15" width="3.68" height="4.6" fill="#0b6f70"/>
<rect x="463.56" y="250.15" width="7.36" height="4.6" fill="#7eeaf8"/>
<text x="51.2" y="262.54" font-size="4.6" text-anchor="end" class="s">PIK3CA</text>
<rect x="19.3" y="256.42" width="6.9" height="7.95" fill="#ff8562" stroke="#1a1a1a" stroke-width="0.6"/>
<text x="453.3" y="262.49" font-size="4.6" text-anchor="end" class="s">43%</text>
<rect x="456.2" y="258.09" width="3.68" height="4.6" fill="#ae4b3a"/>
<rect x="459.88" y="258.09" width="9.2" height="4.6" fill="#0b6f70"/>
<text x="51.2" y="270.49" font-size="4.6" text-anchor="end" class="s">RB1</text>
<rect x="19.3" y="264.37" width="6.9" height="7.95" fill="#177d93" stroke="#1a1a1a" stroke-width="0.6"/>
<text x="453.3" y="270.44" font-size="4.6" text-anchor="end" class="s">33%</text>
<rect x="456.2" y="266.04" width="5.52" height="4.6" fill="#000000"/>
<rect x="461.72" y="266.04" width="3.68" height="4.6" fill="#7eeaf8"/>
<text x="51.2" y="278.44" font-size="4.6" text-anchor="end" class="s">CDKN2A</text>
<rect x="19.3" y="272.31" width="6.9" height="7.95" fill="#177d93" stroke="#1a1a1a" stroke-width="0.6"/>
<text x="453.3" y="278.39" font-size="4.6" text-anchor="end" class="s">27%</text>
<rect x="456.2" y="273.99" width="4.6" height="4.6" fill="#64b998"/>
<rect x="460.8" y="273.99" width="0.92" height="4.6" fill="#ae4b3a"/>
<rect x="461.72" y="273.99" width="1.84" height="4.6" fill="#7eeaf8"/>
<text x="51.2" y="286.38" font-size="4.6" text-anchor="end" class="s">HDAC2</text>
<rect x="19.3" y="280.26" width="6.9" height="7.95" fill="#b24f3e" stroke="#1a1a1a" stroke-width="0.6"/>
<text x="453.3" y="286.34" font-size="4.6" text-anchor="end" class="s">27%</text>
<rect x="456.2" y="281.94" width="1.84" height="4.6" fill="#64b998"/>
<rect x="458.04" y="281.94" width="0.92" height="4.6" fill="#ae4b3a"/>
<rect x="458.96" y="281.94" width="1.84" height="4.6" fill="#000000"/>
<rect x="460.8" y="281.94" width="2.76" height="4.6" fill="#7eeaf8"/>
<text x="51.2" y="294.33" font-size="4.6" text-anchor="end" class="s">IRS2</text>
<rect x="19.3" y="288.21" width="6.9" height="7.95" fill="#6cc3a5" stroke="#1a1a1a" stroke-width="0.6"/>
<text x="453.3" y="294.28" font-size="4.6" text-anchor="end" class="s">27%</text>
<rect x="456.2" y="289.88" width="3.68" height="4.6" fill="#ae4b3a"/>
<rect x="459.88" y="289.88" width="1.84" height="4.6" fill="#0b6f70"/>
<rect x="461.72" y="289.88" width="1.84" height="4.6" fill="#7eeaf8"/>
<text x="51.2" y="302.28" font-size="4.6" text-anchor="end" class="s">KMT2B</text>
<rect x="19.3" y="296.16" width="6.9" height="7.95" fill="#b24f3e" stroke="#1a1a1a" stroke-width="0.6"/>
<text x="453.3" y="302.23" font-size="4.6" text-anchor="end" class="s">27%</text>
<rect x="456.2" y="297.83" width="3.68" height="4.6" fill="#ae4b3a"/>
<rect x="459.88" y="297.83" width="1.84" height="4.6" fill="#0b6f70"/>
<rect x="461.72" y="297.83" width="1.84" height="4.6" fill="#7eeaf8"/>
<text x="51.2" y="310.23" font-size="4.6" text-anchor="end" class="s">PPP2R1A</text>
<rect x="19.3" y="304.1" width="6.9" height="7.95" fill="#ff8562" stroke="#1a1a1a" stroke-width="0.6"/>
<text x="453.3" y="310.18" font-size="4.6" text-anchor="end" class="s">23%</text>
<rect x="456.2" y="305.78" width="1.84" height="4.6" fill="#64b998"/>
<rect x="458.04" y="305.78" width="0.92" height="4.6" fill="#ae4b3a"/>
<rect x="458.96" y="305.78" width="3.68" height="4.6" fill="#0b6f70"/>
<text x="51.2" y="318.17" font-size="4.6" text-anchor="end" class="s">SMARCA4</text>
<rect x="19.3" y="312.05" width="6.9" height="7.95" fill="#b24f3e" stroke="#1a1a1a" stroke-width="0.6"/>
<text x="453.3" y="318.12" font-size="4.6" text-anchor="end" class="s">23%</text>
<rect x="456.2" y="313.72" width="1.84" height="4.6" fill="#ae4b3a"/>
<rect x="458.04" y="313.72" width="4.6" height="4.6" fill="#0b6f70"/>
<text x="51.2" y="326.12" font-size="4.6" text-anchor="end" class="s">NOTCH1</text>
<rect x="19.3" y="320" width="6.9" height="7.95" fill="#757575" stroke="#1a1a1a" stroke-width="0.6"/>
<text x="453.3" y="326.07" font-size="4.6" text-anchor="end" class="s">20%</text>
<rect x="456.2" y="321.67" width="2.76" height="4.6" fill="#64b998"/>
<rect x="458.96" y="321.67" width="0.92" height="4.6" fill="#000000"/>
<rect x="459.88" y="321.67" width="1.84" height="4.6" fill="#0b6f70"/>
<rect x="461.72" y="321.67" width="0.92" height="4.6" fill="#7eeaf8"/>
<text x="51.2" y="334.07" font-size="4.6" text-anchor="end" class="s">AKT2</text>
<rect x="19.3" y="327.94" width="6.9" height="7.95" fill="#ff8562" stroke="#1a1a1a" stroke-width="0.6"/>
<text x="453.3" y="334.02" font-size="4.6" text-anchor="end" class="s">20%</text>
<rect x="456.2" y="329.62" width="5.52" height="4.6" fill="#ae4b3a"/>
<text x="51.2" y="342.01" font-size="4.6" text-anchor="end" class="s">PIK3R1</text>
<rect x="19.3" y="335.89" width="6.9" height="7.95" fill="#ff8562" stroke="#1a1a1a" stroke-width="0.6"/>
<text x="453.3" y="341.96" font-size="4.6" text-anchor="end" class="s">20%</text>
<rect x="456.2" y="337.56" width="1.84" height="4.6" fill="#8c8c8c"/>
<rect x="458.04" y="337.56" width="1.84" height="4.6" fill="#0b6f70"/>
<rect x="459.88" y="337.56" width="1.84" height="4.6" fill="#7eeaf8"/>
<text x="51.2" y="349.96" font-size="4.6" text-anchor="end" class="s">CDKN1B</text>
<rect x="19.3" y="343.84" width="6.9" height="7.95" fill="#177d93" stroke="#1a1a1a" stroke-width="0.6"/>
<text x="453.3" y="349.91" font-size="4.6" text-anchor="end" class="s">20%</text>
<rect x="456.2" y="345.51" width="3.68" height="4.6" fill="#ae4b3a"/>
<rect x="459.88" y="345.51" width="1.84" height="4.6" fill="#7eeaf8"/>
<text x="51.2" y="357.91" font-size="4.6" text-anchor="end" class="s">CDKN2B</text>
<rect x="19.3" y="351.78" width="6.9" height="7.95" fill="#177d93" stroke="#1a1a1a" stroke-width="0.6"/>
<text x="453.3" y="357.86" font-size="4.6" text-anchor="end" class="s">20%</text>
<rect x="456.2" y="353.46" width="4.6" height="4.6" fill="#64b998"/>
<rect x="460.8" y="353.46" width="0.92" height="4.6" fill="#ae4b3a"/>
<text x="51.2" y="365.85" font-size="4.6" text-anchor="end" class="s">WWTR1</text>
<rect x="19.3" y="359.73" width="6.9" height="7.95" fill="#757575" stroke="#1a1a1a" stroke-width="0.6"/>
<text x="453.3" y="365.81" font-size="4.6" text-anchor="end" class="s">20%</text>
<rect x="456.2" y="361.4" width="5.52" height="4.6" fill="#ae4b3a"/>
<text x="51.2" y="373.8" font-size="4.6" text-anchor="end" class="s">KEAP1</text>
<rect x="19.3" y="367.68" width="6.9" height="7.95" fill="#757575" stroke="#1a1a1a" stroke-width="0.6"/>
<text x="453.3" y="373.75" font-size="4.6" text-anchor="end" class="s">20%</text>
<rect x="456.2" y="369.35" width="1.84" height="4.6" fill="#ae4b3a"/>
<rect x="458.04" y="369.35" width="1.84" height="4.6" fill="#000000"/>
<rect x="459.88" y="369.35" width="1.84" height="4.6" fill="#0b6f70"/>
<text x="51.2" y="381.75" font-size="4.6" text-anchor="end" class="s">DVL3</text>
<rect x="19.3" y="375.63" width="6.9" height="7.95" fill="#757575" stroke="#1a1a1a" stroke-width="0.6"/>
<text x="453.3" y="381.7" font-size="4.6" text-anchor="end" class="s">20%</text>
<rect x="456.2" y="377.3" width="5.52" height="4.6" fill="#ae4b3a"/>
<text x="51.2" y="389.7" font-size="4.6" text-anchor="end" class="s">FZD7</text>
<rect x="19.3" y="383.57" width="6.9" height="7.95" fill="#757575" stroke="#1a1a1a" stroke-width="0.6"/>
<text x="453.3" y="389.65" font-size="4.6" text-anchor="end" class="s">20%</text>
<rect x="456.2" y="385.25" width="3.68" height="4.6" fill="#ae4b3a"/>
<rect x="459.88" y="385.25" width="1.84" height="4.6" fill="#0b6f70"/>
<text x="51.2" y="397.64" font-size="4.6" text-anchor="end" class="s">SFRP1</text>
<rect x="19.3" y="391.52" width="6.9" height="7.95" fill="#757575" stroke="#1a1a1a" stroke-width="0.6"/>
<text x="453.3" y="397.59" font-size="4.6" text-anchor="end" class="s">20%</text>
<rect x="456.2" y="393.19" width="3.68" height="4.6" fill="#ae4b3a"/>
<rect x="459.88" y="393.19" width="1.84" height="4.6" fill="#000000"/>
<text x="51.2" y="405.59" font-size="4.6" text-anchor="end" class="s">SPRED3</text>
<rect x="19.3" y="399.47" width="6.9" height="7.95" fill="#6cc3a5" stroke="#1a1a1a" stroke-width="0.6"/>
<text x="453.3" y="405.54" font-size="4.6" text-anchor="end" class="s">20%</text>
<rect x="456.2" y="401.14" width="3.68" height="4.6" fill="#ae4b3a"/>
<rect x="459.88" y="401.14" width="1.84" height="4.6" fill="#0b6f70"/>
<text x="51.2" y="413.54" font-size="4.6" text-anchor="end" class="s">KMT2E</text>
<rect x="19.3" y="407.41" width="6.9" height="7.95" fill="#b24f3e" stroke="#1a1a1a" stroke-width="0.6"/>
<text x="453.3" y="413.49" font-size="4.6" text-anchor="end" class="s">20%</text>
<rect x="456.2" y="409.09" width="1.84" height="4.6" fill="#64b998"/>
<rect x="458.04" y="409.09" width="2.76" height="4.6" fill="#0b6f70"/>
<rect x="460.8" y="409.09" width="0.92" height="4.6" fill="#7eeaf8"/>
<text x="51.2" y="421.48" font-size="4.6" text-anchor="end" class="s">PHC3</text>
<rect x="19.3" y="415.36" width="6.9" height="7.95" fill="#b24f3e" stroke="#1a1a1a" stroke-width="0.6"/>
<text x="453.3" y="421.43" font-size="4.6" text-anchor="end" class="s">20%</text>
<rect x="456.2" y="417.03" width="4.6" height="4.6" fill="#ae4b3a"/>
<rect x="460.8" y="417.03" width="0.92" height="4.6" fill="#0b6f70"/>
<text x="51.2" y="429.43" font-size="4.6" text-anchor="end" class="s">CCND2</text>
<rect x="19.3" y="423.31" width="6.9" height="7.95" fill="#177d93" stroke="#1a1a1a" stroke-width="0.6"/>
<text x="453.3" y="429.38" font-size="4.6" text-anchor="end" class="s">17%</text>
<rect x="456.2" y="424.98" width="3.68" height="4.6" fill="#ae4b3a"/>
<rect x="459.88" y="424.98" width="0.92" height="4.6" fill="#000000"/>
<text x="51.2" y="437.38" font-size="4.6" text-anchor="end" class="s">E2F1</text>
<rect x="19.3" y="431.25" width="6.9" height="7.95" fill="#177d93" stroke="#1a1a1a" stroke-width="0.6"/>
<text x="453.3" y="437.33" font-size="4.6" text-anchor="end" class="s">17%</text>
<rect x="456.2" y="432.93" width="4.6" height="4.6" fill="#ae4b3a"/>
<text x="51.2" y="445.32" font-size="4.6" text-anchor="end" class="s">PTPN14</text>
<rect x="19.3" y="439.2" width="6.9" height="7.95" fill="#757575" stroke="#1a1a1a" stroke-width="0.6"/>
<text x="453.3" y="445.28" font-size="4.6" text-anchor="end" class="s">17%</text>
<rect x="456.2" y="440.88" width="3.68" height="4.6" fill="#ae4b3a"/>
<rect x="459.88" y="440.88" width="0.92" height="4.6" fill="#000000"/>
<text x="51.2" y="453.27" font-size="4.6" text-anchor="end" class="s">DLL3</text>
<rect x="19.3" y="447.15" width="6.9" height="7.95" fill="#757575" stroke="#1a1a1a" stroke-width="0.6"/>
<text x="453.3" y="453.22" font-size="4.6" text-anchor="end" class="s">17%</text>
<rect x="456.2" y="448.82" width="3.68" height="4.6" fill="#ae4b3a"/>
<rect x="459.88" y="448.82" width="0.92" height="4.6" fill="#8c8c8c"/>
<text x="51.2" y="461.22" font-size="4.6" text-anchor="end" class="s">JAG1</text>
<rect x="19.3" y="455.1" width="6.9" height="7.95" fill="#757575" stroke="#1a1a1a" stroke-width="0.6"/>
<text x="453.3" y="461.17" font-size="4.6" text-anchor="end" class="s">17%</text>
<rect x="456.2" y="456.77" width="2.76" height="4.6" fill="#ae4b3a"/>
<rect x="458.96" y="456.77" width="1.84" height="4.6" fill="#7eeaf8"/>
<text x="51.2" y="469.17" font-size="4.6" text-anchor="end" class="s">CTNNB1</text>
<rect x="19.3" y="463.04" width="6.9" height="7.95" fill="#757575" stroke="#1a1a1a" stroke-width="0.6"/>
<text x="453.3" y="469.12" font-size="4.6" text-anchor="end" class="s">17%</text>
<rect x="456.2" y="464.72" width="0.92" height="4.6" fill="#64b998"/>
<rect x="457.12" y="464.72" width="3.68" height="4.6" fill="#0b6f70"/>
<text x="51.2" y="477.11" font-size="4.6" text-anchor="end" class="s">FZD6</text>
<rect x="19.3" y="470.99" width="6.9" height="7.95" fill="#757575" stroke="#1a1a1a" stroke-width="0.6"/>
<text x="453.3" y="477.06" font-size="4.6" text-anchor="end" class="s">17%</text>
<rect x="456.2" y="472.66" width="1.84" height="4.6" fill="#64b998"/>
<rect x="458.04" y="472.66" width="2.76" height="4.6" fill="#ae4b3a"/>
<text x="51.2" y="485.06" font-size="4.6" text-anchor="end" class="s">LRP6</text>
<rect x="19.3" y="478.94" width="6.9" height="7.95" fill="#757575" stroke="#1a1a1a" stroke-width="0.6"/>
<text x="453.3" y="485.01" font-size="4.6" text-anchor="end" class="s">17%</text>
<rect x="456.2" y="480.61" width="3.68" height="4.6" fill="#ae4b3a"/>
<rect x="459.88" y="480.61" width="0.92" height="4.6" fill="#000000"/>
<text x="51.2" y="493.01" font-size="4.6" text-anchor="end" class="s">KRAS</text>
<rect x="19.3" y="486.88" width="6.9" height="7.95" fill="#6cc3a5" stroke="#1a1a1a" stroke-width="0.6"/>
<text x="453.3" y="492.96" font-size="4.6" text-anchor="end" class="s">17%</text>
<rect x="456.2" y="488.56" width="3.68" height="4.6" fill="#ae4b3a"/>
<rect x="459.88" y="488.56" width="0.92" height="4.6" fill="#0b6f70"/>
<text x="51.2" y="500.95" font-size="4.6" text-anchor="end" class="s">RASA2</text>
<rect x="19.3" y="494.83" width="6.9" height="7.95" fill="#6cc3a5" stroke="#1a1a1a" stroke-width="0.6"/>
<text x="453.3" y="500.9" font-size="4.6" text-anchor="end" class="s">17%</text>
<rect x="456.2" y="496.5" width="4.6" height="4.6" fill="#ae4b3a"/>
<text x="51.2" y="508.9" font-size="4.6" text-anchor="end" class="s">SOS2</text>
<rect x="19.3" y="502.78" width="6.9" height="7.95" fill="#6cc3a5" stroke="#1a1a1a" stroke-width="0.6"/>
<text x="453.3" y="508.85" font-size="4.6" text-anchor="end" class="s">17%</text>
<rect x="456.2" y="504.45" width="2.76" height="4.6" fill="#64b998"/>
<rect x="458.96" y="504.45" width="1.84" height="4.6" fill="#0b6f70"/>
<text x="51.2" y="516.85" font-size="4.6" text-anchor="end" class="s">PLXNB1</text>
<rect x="19.3" y="510.72" width="6.9" height="7.95" fill="#6cc3a5" stroke="#1a1a1a" stroke-width="0.6"/>
<text x="453.3" y="516.8" font-size="4.6" text-anchor="end" class="s">17%</text>
<rect x="456.2" y="512.4" width="2.76" height="4.6" fill="#64b998"/>
<rect x="458.96" y="512.4" width="0.92" height="4.6" fill="#0b6f70"/>
<rect x="459.88" y="512.4" width="0.92" height="4.6" fill="#7eeaf8"/>
<text x="51.2" y="524.79" font-size="4.6" text-anchor="end" class="s">ERBB4</text>
<rect x="19.3" y="518.67" width="6.9" height="7.95" fill="#757575" stroke="#1a1a1a" stroke-width="0.6"/>
<text x="453.3" y="524.75" font-size="4.6" text-anchor="end" class="s">17%</text>
<rect x="456.2" y="520.35" width="1.84" height="4.6" fill="#ae4b3a"/>
<rect x="458.04" y="520.35" width="0.92" height="4.6" fill="#8c8c8c"/>
<rect x="458.96" y="520.35" width="1.84" height="4.6" fill="#000000"/>
<text x="51.2" y="532.74" font-size="4.6" text-anchor="end" class="s">ARID1B</text>
<rect x="19.3" y="526.62" width="6.9" height="7.95" fill="#b24f3e" stroke="#1a1a1a" stroke-width="0.6"/>
<text x="453.3" y="532.69" font-size="4.6" text-anchor="end" class="s">17%</text>
<rect x="456.2" y="528.29" width="1.84" height="4.6" fill="#64b998"/>
<rect x="458.04" y="528.29" width="0.92" height="4.6" fill="#ae4b3a"/>
<rect x="458.96" y="528.29" width="1.84" height="4.6" fill="#0b6f70"/>
<text x="51.2" y="540.69" font-size="4.6" text-anchor="end" class="s">DPF1</text>
<rect x="19.3" y="534.57" width="6.9" height="7.95" fill="#b24f3e" stroke="#1a1a1a" stroke-width="0.6"/>
<text x="453.3" y="540.64" font-size="4.6" text-anchor="end" class="s">17%</text>
<rect x="456.2" y="536.24" width="3.68" height="4.6" fill="#ae4b3a"/>
<rect x="459.88" y="536.24" width="0.92" height="4.6" fill="#0b6f70"/>
<text x="51.2" y="548.64" font-size="4.6" text-anchor="end" class="s">SETD1B</text>
<rect x="19.3" y="542.51" width="6.9" height="7.95" fill="#b24f3e" stroke="#1a1a1a" stroke-width="0.6"/>
<text x="453.3" y="548.59" font-size="4.6" text-anchor="end" class="s">17%</text>
<rect x="456.2" y="544.19" width="0.92" height="4.6" fill="#ae4b3a"/>
<rect x="457.12" y="544.19" width="1.84" height="4.6" fill="#0b6f70"/>
<rect x="458.96" y="544.19" width="1.84" height="4.6" fill="#7eeaf8"/>
<text x="51.2" y="556.58" font-size="4.6" text-anchor="end" class="s">KAT6A</text>
<rect x="19.3" y="550.46" width="6.9" height="7.95" fill="#b24f3e" stroke="#1a1a1a" stroke-width="0.6"/>
<text x="453.3" y="556.53" font-size="4.6" text-anchor="end" class="s">17%</text>
<rect x="456.2" y="552.13" width="4.6" height="4.6" fill="#ae4b3a"/>
<text x="51.2" y="564.53" font-size="4.6" text-anchor="end" class="s">KMT2C</text>
<rect x="19.3" y="558.41" width="6.9" height="7.95" fill="#b24f3e" stroke="#1a1a1a" stroke-width="0.6"/>
<text x="453.3" y="564.48" font-size="4.6" text-anchor="end" class="s">17%</text>
<rect x="456.2" y="560.08" width="1.84" height="4.6" fill="#64b998"/>
<rect x="458.04" y="560.08" width="0.92" height="4.6" fill="#0b6f70"/>
<rect x="458.96" y="560.08" width="1.84" height="4.6" fill="#7eeaf8"/>
<text x="51.2" y="572.48" font-size="4.6" text-anchor="end" class="s">KMT5A</text>
<rect x="19.3" y="566.35" width="6.9" height="7.95" fill="#b24f3e" stroke="#1a1a1a" stroke-width="0.6"/>
<text x="453.3" y="572.43" font-size="4.6" text-anchor="end" class="s">17%</text>
<rect x="456.2" y="568.03" width="0.92" height="4.6" fill="#64b998"/>
<rect x="457.12" y="568.03" width="0.92" height="4.6" fill="#ae4b3a"/>
<rect x="458.04" y="568.03" width="2.76" height="4.6" fill="#0b6f70"/>
<text x="51.2" y="580.42" font-size="4.6" text-anchor="end" class="s">PRMT6</text>
<rect x="19.3" y="574.3" width="6.9" height="7.95" fill="#b24f3e" stroke="#1a1a1a" stroke-width="0.6"/>
<text x="453.3" y="580.37" font-size="4.6" text-anchor="end" class="s">17%</text>
<rect x="456.2" y="575.97" width="1.84" height="4.6" fill="#64b998"/>
<rect x="458.04" y="575.97" width="0.92" height="4.6" fill="#ae4b3a"/>
<rect x="458.96" y="575.97" width="1.84" height="4.6" fill="#0b6f70"/>
<text x="51.2" y="588.37" font-size="4.6" text-anchor="end" class="s">PRMT8</text>
<rect x="19.3" y="582.25" width="6.9" height="7.95" fill="#b24f3e" stroke="#1a1a1a" stroke-width="0.6"/>
<text x="453.3" y="588.32" font-size="4.6" text-anchor="end" class="s">17%</text>
<rect x="456.2" y="583.92" width="3.68" height="4.6" fill="#ae4b3a"/>
<rect x="459.88" y="583.92" width="0.92" height="4.6" fill="#7eeaf8"/>
<text x="51.2" y="596.32" font-size="4.6" text-anchor="end" class="s">RPS6</text>
<rect x="19.3" y="590.19" width="6.9" height="7.95" fill="#ff8562" stroke="#1a1a1a" stroke-width="0.6"/>
<text x="453.3" y="596.27" font-size="4.6" text-anchor="end" class="s">13%</text>
<rect x="456.2" y="591.87" width="2.76" height="4.6" fill="#64b998"/>
<rect x="458.96" y="591.87" width="0.92" height="4.6" fill="#ae4b3a"/>
<text x="51.2" y="604.26" font-size="4.6" text-anchor="end" class="s">CCND1</text>
<rect x="19.3" y="598.14" width="6.9" height="7.95" fill="#177d93" stroke="#1a1a1a" stroke-width="0.6"/>
<text x="453.3" y="604.22" font-size="4.6" text-anchor="end" class="s">13%</text>
<rect x="456.2" y="599.82" width="1.84" height="4.6" fill="#ae4b3a"/>
<rect x="458.04" y="599.82" width="1.84" height="4.6" fill="#0b6f70"/>
<text x="51.2" y="612.21" font-size="4.6" text-anchor="end" class="s">CCNE1</text>
<rect x="19.3" y="606.09" width="6.9" height="7.95" fill="#177d93" stroke="#1a1a1a" stroke-width="0.6"/>
<text x="453.3" y="612.16" font-size="4.6" text-anchor="end" class="s">13%</text>
<rect x="456.2" y="607.76" width="3.68" height="4.6" fill="#ae4b3a"/>
<text x="51.2" y="620.16" font-size="4.6" text-anchor="end" class="s">SCRIB</text>
<rect x="19.3" y="614.04" width="6.9" height="7.95" fill="#6cc3a5" stroke="#1a1a1a" stroke-width="0.6"/>
<text x="453.3" y="620.11" font-size="4.6" text-anchor="end" class="s">13%</text>
<rect x="456.2" y="615.71" width="2.76" height="4.6" fill="#ae4b3a"/>
<rect x="458.96" y="615.71" width="0.92" height="4.6" fill="#0b6f70"/>
<text x="51.2" y="628.11" font-size="4.6" text-anchor="end" class="s">STK3</text>
<rect x="19.3" y="621.98" width="6.9" height="7.95" fill="#757575" stroke="#1a1a1a" stroke-width="0.6"/>
<text x="453.3" y="628.06" font-size="4.6" text-anchor="end" class="s">13%</text>
<rect x="456.2" y="623.66" width="1.84" height="4.6" fill="#64b998"/>
<rect x="458.04" y="623.66" width="1.84" height="4.6" fill="#ae4b3a"/>
<text x="51.2" y="636.05" font-size="4.6" text-anchor="end" class="s">STK4</text>
<rect x="19.3" y="629.93" width="6.9" height="7.95" fill="#757575" stroke="#1a1a1a" stroke-width="0.6"/>
<text x="453.3" y="636" font-size="4.6" text-anchor="end" class="s">13%</text>
<rect x="456.2" y="631.6" width="3.68" height="4.6" fill="#ae4b3a"/>
<text x="12.4" y="238.2" font-size="6.1">pathway</text>
<line x1="456.2" y1="240.5" x2="482.8" y2="240.5" stroke="#000" stroke-width="0.45"/>
<line x1="456.2" y1="240.5" x2="456.2" y2="239.6" stroke="#000" stroke-width="0.45"/>
<text x="456.2" y="238.2" font-size="4" text-anchor="middle" class="s">0</text>
<line x1="465.4" y1="240.5" x2="465.4" y2="239.6" stroke="#000" stroke-width="0.45"/>
<text x="465.4" y="238.2" font-size="4" text-anchor="middle" class="s">10</text>
<line x1="474.6" y1="240.5" x2="474.6" y2="239.6" stroke="#000" stroke-width="0.45"/>
<text x="474.6" y="238.2" font-size="4" text-anchor="middle" class="s">20</text>
<rect x="55.3" y="230.55" width="7.4" height="8.55" fill="#0b6f70"/>
<rect x="55.3" y="226.75" width="7.4" height="3.8" fill="#7eeaf8"/>
<rect x="67.9" y="232.45" width="7.4" height="6.65" fill="#0b6f70"/>
<rect x="67.9" y="228.65" width="7.4" height="3.8" fill="#7eeaf8"/>
<rect x="81.4" y="237.2" width="7.4" height="1.9" fill="#0b6f70"/>
<rect x="81.4" y="230.55" width="7.4" height="6.65" fill="#7eeaf8"/>
<rect x="94" y="238.15" width="7.4" height="0.95" fill="#64b998"/>
<rect x="94" y="233.4" width="7.4" height="4.75" fill="#0b6f70"/>
<rect x="94" y="226.75" width="7.4" height="6.65" fill="#7eeaf8"/>
<rect x="107.5" y="232.45" width="7.4" height="6.65" fill="#64b998"/>
<rect x="107.5" y="231.5" width="7.4" height="0.95" fill="#ae4b3a"/>
<rect x="107.5" y="230.55" width="7.4" height="0.95" fill="#000000"/>
<rect x="107.5" y="226.75" width="7.4" height="3.8" fill="#0b6f70"/>
<rect x="107.5" y="225.8" width="7.4" height="0.95" fill="#7eeaf8"/>
<rect x="120.1" y="232.45" width="7.4" height="6.65" fill="#64b998"/>
<rect x="120.1" y="231.5" width="7.4" height="0.95" fill="#ae4b3a"/>
<rect x="120.1" y="230.55" width="7.4" height="0.95" fill="#000000"/>
<rect x="120.1" y="226.75" width="7.4" height="3.8" fill="#0b6f70"/>
<rect x="120.1" y="225.8" width="7.4" height="0.95" fill="#7eeaf8"/>
<rect x="133.6" y="230.55" width="7.4" height="8.55" fill="#ae4b3a"/>
<rect x="133.6" y="227.7" width="7.4" height="2.85" fill="#0b6f70"/>
<rect x="146.2" y="230.55" width="7.4" height="8.55" fill="#ae4b3a"/>
<rect x="146.2" y="227.7" width="7.4" height="2.85" fill="#0b6f70"/>
<rect x="159.7" y="236.25" width="7.4" height="2.85" fill="#ae4b3a"/>
<rect x="159.7" y="235.3" width="7.4" height="0.95" fill="#8c8c8c"/>
<rect x="159.7" y="234.35" width="7.4" height="0.95" fill="#000000"/>
<rect x="159.7" y="231.5" width="7.4" height="2.85" fill="#0b6f70"/>
<rect x="172.3" y="236.25" width="7.4" height="2.85" fill="#ae4b3a"/>
<rect x="172.3" y="234.35" width="7.4" height="1.9" fill="#000000"/>
<rect x="172.3" y="231.5" width="7.4" height="2.85" fill="#0b6f70"/>
<rect x="185.8" y="220.1" width="7.4" height="19" fill="#ae4b3a"/>
<rect x="185.8" y="216.3" width="7.4" height="3.8" fill="#000000"/>
<rect x="185.8" y="214.4" width="7.4" height="1.9" fill="#0b6f70"/>
<rect x="198.4" y="221.05" width="7.4" height="18.05" fill="#ae4b3a"/>
<rect x="198.4" y="217.25" width="7.4" height="3.8" fill="#000000"/>
<rect x="198.4" y="215.35" width="7.4" height="1.9" fill="#0b6f70"/>
<rect x="211.9" y="234.35" width="7.4" height="4.75" fill="#ae4b3a"/>
<rect x="211.9" y="232.45" width="7.4" height="1.9" fill="#0b6f70"/>
<rect x="211.9" y="230.55" width="7.4" height="1.9" fill="#7eeaf8"/>
<rect x="224.5" y="233.4" width="7.4" height="5.7" fill="#ae4b3a"/>
<rect x="224.5" y="231.5" width="7.4" height="1.9" fill="#0b6f70"/>
<rect x="224.5" y="229.6" width="7.4" height="1.9" fill="#7eeaf8"/>
<rect x="238" y="233.4" width="7.4" height="5.7" fill="#64b998"/>
<rect x="238" y="232.45" width="7.4" height="0.95" fill="#0b6f70"/>
<rect x="238" y="230.55" width="7.4" height="1.9" fill="#7eeaf8"/>
<rect x="250.6" y="238.15" width="7.4" height="0.95" fill="#64b998"/>
<rect x="250.6" y="237.2" width="7.4" height="0.95" fill="#0b6f70"/>
<rect x="250.6" y="235.3" width="7.4" height="1.9" fill="#7eeaf8"/>
<rect x="264.1" y="238.15" width="7.4" height="0.95" fill="#000000"/>
<rect x="264.1" y="236.25" width="7.4" height="1.9" fill="#0b6f70"/>
<rect x="264.1" y="235.3" width="7.4" height="0.95" fill="#7eeaf8"/>
<rect x="276.7" y="220.1" width="7.4" height="19" fill="#ae4b3a"/>
<rect x="276.7" y="219.15" width="7.4" height="0.95" fill="#000000"/>
<rect x="276.7" y="217.25" width="7.4" height="1.9" fill="#0b6f70"/>
<rect x="276.7" y="216.3" width="7.4" height="0.95" fill="#7eeaf8"/>
<rect x="290.2" y="238.15" width="7.4" height="0.95" fill="#0b6f70"/>
<rect x="290.2" y="237.2" width="7.4" height="0.95" fill="#7eeaf8"/>
<rect x="302.8" y="238.15" width="7.4" height="0.95" fill="#0b6f70"/>
<rect x="302.8" y="237.2" width="7.4" height="0.95" fill="#7eeaf8"/>
<rect x="316.3" y="237.2" width="7.4" height="1.9" fill="#64b998"/>
<rect x="316.3" y="236.25" width="7.4" height="0.95" fill="#000000"/>
<rect x="316.3" y="231.5" width="7.4" height="4.75" fill="#0b6f70"/>
<rect x="328.9" y="237.2" width="7.4" height="1.9" fill="#64b998"/>
<rect x="328.9" y="236.25" width="7.4" height="0.95" fill="#000000"/>
<rect x="328.9" y="231.5" width="7.4" height="4.75" fill="#0b6f70"/>
<rect x="342.4" y="238.15" width="7.4" height="0.95" fill="#ae4b3a"/>
<rect x="342.4" y="235.3" width="7.4" height="2.85" fill="#8c8c8c"/>
<rect x="342.4" y="232.45" width="7.4" height="2.85" fill="#0b6f70"/>
<rect x="355" y="225.8" width="7.4" height="13.3" fill="#ae4b3a"/>
<rect x="355" y="223.9" width="7.4" height="1.9" fill="#8c8c8c"/>
<rect x="355" y="221.05" width="7.4" height="2.85" fill="#0b6f70"/>
<rect x="368.5" y="232.45" width="7.4" height="6.65" fill="#64b998"/>
<rect x="368.5" y="230.55" width="7.4" height="1.9" fill="#0b6f70"/>
<rect x="381.1" y="232.45" width="7.4" height="6.65" fill="#64b998"/>
<rect x="381.1" y="230.55" width="7.4" height="1.9" fill="#000000"/>
<rect x="381.1" y="228.65" width="7.4" height="1.9" fill="#0b6f70"/>
<rect x="381.1" y="227.7" width="7.4" height="0.95" fill="#7eeaf8"/>
<rect x="394.6" y="231.5" width="7.4" height="7.6" fill="#ae4b3a"/>
<rect x="394.6" y="230.55" width="7.4" height="0.95" fill="#0b6f70"/>
<rect x="407.2" y="238.15" width="7.4" height="0.95" fill="#ae4b3a"/>
<rect x="407.2" y="237.2" width="7.4" height="0.95" fill="#0b6f70"/>
<rect x="420.7" y="236.25" width="7.4" height="2.85" fill="#ae4b3a"/>
<rect x="420.7" y="234.35" width="7.4" height="1.9" fill="#000000"/>
<rect x="420.7" y="233.4" width="7.4" height="0.95" fill="#0b6f70"/>
<rect x="420.7" y="232.45" width="7.4" height="0.95" fill="#7eeaf8"/>
<rect x="433.3" y="232.45" width="7.4" height="6.65" fill="#ae4b3a"/>
<rect x="433.3" y="231.5" width="7.4" height="0.95" fill="#000000"/>
<rect x="433.3" y="227.7" width="7.4" height="3.8" fill="#0b6f70"/>
<line x1="52.5" y1="213.1" x2="52.5" y2="239.1" stroke="#000" stroke-width="0.45"/>
<line x1="52.5" y1="239.1" x2="51.5" y2="239.1" stroke="#000" stroke-width="0.45"/>
<text x="50.7" y="240.5" font-size="4" text-anchor="end" class="s">0</text>
<line x1="52.5" y1="229.6" x2="51.5" y2="229.6" stroke="#000" stroke-width="0.45"/>
<text x="50.7" y="231" font-size="4" text-anchor="end" class="s">10</text>
<line x1="52.5" y1="220.1" x2="51.5" y2="220.1" stroke="#000" stroke-width="0.45"/>
<text x="50.7" y="221.5" font-size="4" text-anchor="end" class="s">20</text>
<line x1="53.1" y1="637.8" x2="77.25" y2="637.8" stroke="#555" stroke-width="0.6"/>
<text x="59.4" y="644" font-size="7.6" text-anchor="middle" class="n">a</text>
<text x="70.9" y="644" font-size="7.6" text-anchor="middle" class="n">b</text>
<rect x="53" y="645.6" width="24.4" height="1.3" fill="#000"/>
<text x="67.2" y="653.9" font-size="7.8" text-anchor="middle" font-weight="bold">P01</text>
<line x1="79.2" y1="637.8" x2="103.35" y2="637.8" stroke="#555" stroke-width="0.6"/>
<text x="85.5" y="644" font-size="7.6" text-anchor="middle" class="n">a</text>
<text x="97" y="644" font-size="7.6" text-anchor="middle" class="n">b</text>
<rect x="79.1" y="645.6" width="24.4" height="1.3" fill="#000"/>
<text x="93.3" y="653.9" font-size="7.8" text-anchor="middle" font-weight="bold">P02</text>
<line x1="105.3" y1="637.8" x2="129.45" y2="637.8" stroke="#555" stroke-width="0.6"/>
<text x="111.6" y="644" font-size="7.6" text-anchor="middle" class="n">a</text>
<text x="123.1" y="644" font-size="7.6" text-anchor="middle" class="n">b</text>
<rect x="105.2" y="645.6" width="24.4" height="1.3" fill="#000"/>
<text x="119.4" y="653.9" font-size="7.8" text-anchor="middle" font-weight="bold">P03</text>
<line x1="131.4" y1="637.8" x2="155.55" y2="637.8" stroke="#555" stroke-width="0.6"/>
<text x="137.7" y="644" font-size="7.6" text-anchor="middle" class="n">a</text>
<text x="149.2" y="644" font-size="7.6" text-anchor="middle" class="n">b</text>
<rect x="131.3" y="645.6" width="24.4" height="1.3" fill="#000"/>
<text x="145.5" y="653.9" font-size="7.8" text-anchor="middle" font-weight="bold">P04</text>
<line x1="157.5" y1="637.8" x2="181.65" y2="637.8" stroke="#555" stroke-width="0.6"/>
<text x="163.8" y="644" font-size="7.6" text-anchor="middle" class="n">a</text>
<text x="175.3" y="644" font-size="7.6" text-anchor="middle" class="n">b</text>
<rect x="157.4" y="645.6" width="24.4" height="1.3" fill="#000"/>
<text x="171.6" y="653.9" font-size="7.8" text-anchor="middle" font-weight="bold">P05</text>
<line x1="183.6" y1="637.8" x2="207.75" y2="637.8" stroke="#555" stroke-width="0.6"/>
<text x="189.9" y="644" font-size="7.6" text-anchor="middle" class="n">a</text>
<text x="201.4" y="644" font-size="7.6" text-anchor="middle" class="n">b</text>
<rect x="183.5" y="645.6" width="24.4" height="1.3" fill="#000"/>
<text x="197.7" y="653.9" font-size="7.8" text-anchor="middle" font-weight="bold">P06</text>
<line x1="209.7" y1="637.8" x2="233.85" y2="637.8" stroke="#555" stroke-width="0.6"/>
<text x="216" y="644" font-size="7.6" text-anchor="middle" class="n">a</text>
<text x="227.5" y="644" font-size="7.6" text-anchor="middle" class="n">b</text>
<rect x="209.6" y="645.6" width="24.4" height="1.3" fill="#000"/>
<text x="223.8" y="653.9" font-size="7.8" text-anchor="middle" font-weight="bold">P07</text>
<line x1="235.8" y1="637.8" x2="259.95" y2="637.8" stroke="#555" stroke-width="0.6"/>
<text x="242.1" y="644" font-size="7.6" text-anchor="middle" class="n">a</text>
<text x="253.6" y="644" font-size="7.6" text-anchor="middle" class="n">b</text>
<rect x="235.7" y="645.6" width="24.4" height="1.3" fill="#000"/>
<text x="249.9" y="653.9" font-size="7.8" text-anchor="middle" font-weight="bold">P08</text>
<line x1="261.9" y1="637.8" x2="286.05" y2="637.8" stroke="#555" stroke-width="0.6"/>
<text x="268.2" y="644" font-size="7.6" text-anchor="middle" class="n">a</text>
<text x="279.7" y="644" font-size="7.6" text-anchor="middle" class="n">b</text>
<rect x="261.8" y="645.6" width="24.4" height="1.3" fill="#000"/>
<text x="276" y="653.9" font-size="7.8" text-anchor="middle" font-weight="bold">P09</text>
<line x1="288" y1="637.8" x2="312.15" y2="637.8" stroke="#555" stroke-width="0.6"/>
<text x="294.3" y="644" font-size="7.6" text-anchor="middle" class="n">a</text>
<text x="305.8" y="644" font-size="7.6" text-anchor="middle" class="n">b</text>
<rect x="287.9" y="645.6" width="24.4" height="1.3" fill="#000"/>
<text x="302.1" y="653.9" font-size="7.8" text-anchor="middle" font-weight="bold">P10</text>
<line x1="314.1" y1="637.8" x2="338.25" y2="637.8" stroke="#555" stroke-width="0.6"/>
<text x="320.4" y="644" font-size="7.6" text-anchor="middle" class="n">a</text>
<text x="331.9" y="644" font-size="7.6" text-anchor="middle" class="n">b</text>
<rect x="314" y="645.6" width="24.4" height="1.3" fill="#000"/>
<text x="328.2" y="653.9" font-size="7.8" text-anchor="middle" font-weight="bold">P11</text>
<line x1="340.2" y1="637.8" x2="364.35" y2="637.8" stroke="#555" stroke-width="0.6"/>
<text x="346.5" y="644" font-size="7.6" text-anchor="middle" class="n">a</text>
<text x="358" y="644" font-size="7.6" text-anchor="middle" class="n">b</text>
<rect x="340.1" y="645.6" width="24.4" height="1.3" fill="#000"/>
<text x="354.3" y="653.9" font-size="7.8" text-anchor="middle" font-weight="bold">P12</text>
<line x1="366.3" y1="637.8" x2="390.45" y2="637.8" stroke="#555" stroke-width="0.6"/>
<text x="372.6" y="644" font-size="7.6" text-anchor="middle" class="n">a</text>
<text x="384.1" y="644" font-size="7.6" text-anchor="middle" class="n">b</text>
<rect x="366.2" y="645.6" width="24.4" height="1.3" fill="#000"/>
<text x="380.4" y="653.9" font-size="7.8" text-anchor="middle" font-weight="bold">P13</text>
<line x1="392.4" y1="637.8" x2="416.55" y2="637.8" stroke="#555" stroke-width="0.6"/>
<text x="398.7" y="644" font-size="7.6" text-anchor="middle" class="n">a</text>
<text x="410.2" y="644" font-size="7.6" text-anchor="middle" class="n">b</text>
<rect x="392.3" y="645.6" width="24.4" height="1.3" fill="#000"/>
<text x="406.5" y="653.9" font-size="7.8" text-anchor="middle" font-weight="bold">P14</text>
<line x1="418.5" y1="637.8" x2="442.65" y2="637.8" stroke="#555" stroke-width="0.6"/>
<text x="424.8" y="644" font-size="7.6" text-anchor="middle" class="n">a</text>
<text x="436.3" y="644" font-size="7.6" text-anchor="middle" class="n">b</text>
<rect x="418.4" y="645.6" width="24.4" height="1.3" fill="#000"/>
<text x="432.6" y="653.9" font-size="7.8" text-anchor="middle" font-weight="bold">P15</text>
<text x="52.4" y="643.7" font-size="6.1" text-anchor="end">sample</text>
<text x="52.4" y="652.1" font-size="6.1" text-anchor="end">tumor</text>
<text x="458.2" y="3.8" font-size="4.65" class="s" font-weight="bold">tissue</text>
<rect x="458.2" y="6.3" width="5.2" height="5.2" fill="#fff" stroke="#000" stroke-width="0.5"/>
<text x="464.7" y="10.6" font-size="4.65" class="s">endometrium</text>
<rect x="458.2" y="11.6" width="5.2" height="5.2" fill="#000" stroke="#000" stroke-width="0.5"/>
<text x="464.7" y="15.9" font-size="4.65" class="s">ovarian</text>
<text x="458.2" y="26" font-size="4.65" class="s" font-weight="bold">histopathological subtype</text>
<rect x="458.2" y="28.2" width="5.2" height="5.2" fill="#c6e9dd" stroke="#000" stroke-width="0.5"/>
<text x="464.7" y="32.5" font-size="4.65" class="s">endometrioid carcinoma</text>
<rect x="458.2" y="33.5" width="5.2" height="5.2" fill="#6cc3a5" stroke="#000" stroke-width="0.5"/>
<text x="464.7" y="37.8" font-size="4.65" class="s">mixed carcinoma</text>
<rect x="458.2" y="38.7" width="5.2" height="5.2" fill="#1c9167" stroke="#000" stroke-width="0.5"/>
<text x="464.7" y="43" font-size="4.65" class="s">serous carcinoma</text>
<rect x="458.2" y="43.9" width="5.2" height="5.2" fill="#fad8e9" stroke="#000" stroke-width="0.5"/>
<text x="464.7" y="48.2" font-size="4.65" class="s">heterologous sarcoma</text>
<rect x="458.2" y="49.1" width="5.2" height="5.2" fill="#e0047a" stroke="#000" stroke-width="0.5"/>
<text x="464.7" y="53.4" font-size="4.65" class="s">homologous sarcoma</text>
<text x="458.2" y="63.4" font-size="4.65" class="s" font-weight="bold">sample component</text>
<rect x="458.2" y="65.4" width="5.2" height="5.2" fill="#000" stroke="#000" stroke-width="0.5"/>
<text x="464.7" y="69.7" font-size="4.65" class="s">normal</text>
<rect x="458.2" y="70.7" width="5.2" height="5.2" fill="#6cc3a5" stroke="#000" stroke-width="0.5"/>
<text x="464.7" y="75" font-size="4.65" class="s">carcinoma</text>
<rect x="458.2" y="76" width="5.2" height="5.2" fill="#e0047a" stroke="#000" stroke-width="0.5"/>
<text x="464.7" y="80.3" font-size="4.65" class="s">sarcoma</text>
<rect x="458.2" y="81.3" width="5.2" height="5.2" fill="#fff" stroke="#000" stroke-width="0.5"/>
<text x="464.7" y="85.6" font-size="4.65" class="s">undifferentiated</text>
<rect x="458.2" y="86.6" width="5.2" height="5.2" fill="#6e6e6e" stroke="#000" stroke-width="0.5"/>
<text x="464.7" y="90.9" font-size="4.65" class="s">mixed</text>
<text x="458.2" y="100.8" font-size="4.65" class="s" font-weight="bold">purity (%)</text>
<rect x="457.9" y="103.2" width="41.2" height="5.3" fill="url(#gp)" stroke="#000" stroke-width="0.5"/>
<text x="458.9" y="113.1" font-size="4.7" text-anchor="middle" class="s">20</text>
<line x1="458.9" y1="103.2" x2="458.9" y2="104.1" stroke="#000" stroke-width="0.4"/>
<line x1="458.9" y1="108.5" x2="458.9" y2="107.6" stroke="#000" stroke-width="0.4"/>
<text x="468.6" y="113.1" font-size="4.7" text-anchor="middle" class="s">40</text>
<line x1="468.6" y1="103.2" x2="468.6" y2="104.1" stroke="#000" stroke-width="0.4"/>
<line x1="468.6" y1="108.5" x2="468.6" y2="107.6" stroke="#000" stroke-width="0.4"/>
<text x="478.3" y="113.1" font-size="4.7" text-anchor="middle" class="s">60</text>
<line x1="478.3" y1="103.2" x2="478.3" y2="104.1" stroke="#000" stroke-width="0.4"/>
<line x1="478.3" y1="108.5" x2="478.3" y2="107.6" stroke="#000" stroke-width="0.4"/>
<text x="488" y="113.1" font-size="4.7" text-anchor="middle" class="s">80</text>
<line x1="488" y1="103.2" x2="488" y2="104.1" stroke="#000" stroke-width="0.4"/>
<line x1="488" y1="108.5" x2="488" y2="107.6" stroke="#000" stroke-width="0.4"/>
<text x="497.9" y="113.1" font-size="4.7" text-anchor="middle" class="s">100</text>
<line x1="497.9" y1="103.2" x2="497.9" y2="104.1" stroke="#000" stroke-width="0.4"/>
<line x1="497.9" y1="108.5" x2="497.9" y2="107.6" stroke="#000" stroke-width="0.4"/>
<text x="458.2" y="121.9" font-size="4.65" class="s" font-weight="bold">ploidy</text>
<rect x="457.9" y="124.4" width="41.2" height="5.3" fill="url(#gl)" stroke="#000" stroke-width="0.5"/>
<text x="458.9" y="134.8" font-size="4.7" text-anchor="middle" class="s">2</text>
<line x1="458.9" y1="124.4" x2="458.9" y2="125.3" stroke="#000" stroke-width="0.4"/>
<line x1="458.9" y1="129.7" x2="458.9" y2="128.8" stroke="#000" stroke-width="0.4"/>
<text x="471.9" y="134.8" font-size="4.7" text-anchor="middle" class="s">3</text>
<line x1="471.9" y1="124.4" x2="471.9" y2="125.3" stroke="#000" stroke-width="0.4"/>
<line x1="471.9" y1="129.7" x2="471.9" y2="128.8" stroke="#000" stroke-width="0.4"/>
<text x="484.9" y="134.8" font-size="4.7" text-anchor="middle" class="s">4</text>
<line x1="484.9" y1="124.4" x2="484.9" y2="125.3" stroke="#000" stroke-width="0.4"/>
<line x1="484.9" y1="129.7" x2="484.9" y2="128.8" stroke="#000" stroke-width="0.4"/>
<text x="497.9" y="134.8" font-size="4.7" text-anchor="middle" class="s">5</text>
<line x1="497.9" y1="124.4" x2="497.9" y2="125.3" stroke="#000" stroke-width="0.4"/>
<line x1="497.9" y1="129.7" x2="497.9" y2="128.8" stroke="#000" stroke-width="0.4"/>
<text x="458.2" y="142.8" font-size="4.65" class="s" font-weight="bold">mutational signature</text>
<rect x="458.2" y="145.4" width="5.2" height="5.2" fill="#1fc7c4" stroke="#000" stroke-width="0.5"/>
<text x="464.7" y="149.7" font-size="4.65" class="s">MSI</text>
<rect x="458.2" y="150.7" width="5.2" height="5.2" fill="#3b2b80" stroke="#000" stroke-width="0.5"/>
<text x="464.7" y="155" font-size="4.65" class="s">BRCAness</text>
<rect x="458.2" y="155.9" width="5.2" height="5.2" fill="#000000" stroke="#000" stroke-width="0.5"/>
<text x="464.7" y="160.2" font-size="4.65" class="s">APOBEC</text>
<rect x="458.2" y="161.2" width="5.2" height="5.2" fill="#b3b3b3" stroke="#000" stroke-width="0.5"/>
<text x="464.7" y="165.5" font-size="4.65" class="s">AGE</text>
<text x="458.2" y="175.1" font-size="4.65" class="s" font-weight="bold">HRD status</text>
<rect x="458.2" y="177.8" width="5.2" height="5.2" fill="#fff" stroke="#000" stroke-width="0.5"/>
<text x="464.7" y="182.1" font-size="4.65" class="s">low</text>
<rect x="458.2" y="183" width="5.2" height="5.2" fill="#9a8fc9" stroke="#000" stroke-width="0.5"/>
<text x="464.7" y="187.3" font-size="4.65" class="s">int</text>
<rect x="458.2" y="188.2" width="5.2" height="5.2" fill="#3b2b80" stroke="#000" stroke-width="0.5"/>
<text x="464.7" y="192.5" font-size="4.65" class="s">high</text>
<text x="458.2" y="202" font-size="4.65" class="s" font-weight="bold">TCGA.endometrial.classif</text>
<rect x="458.2" y="204.3" width="5.2" height="5.2" fill="#177d93" stroke="#000" stroke-width="0.5"/>
<text x="464.7" y="208.6" font-size="4.65" class="s">MSI</text>
<rect x="458.2" y="209.6" width="5.2" height="5.2" fill="#b24f3e" stroke="#000" stroke-width="0.5"/>
<text x="464.7" y="213.9" font-size="4.65" class="s">CN_high</text>
<text x="485.7" y="335.9" font-size="4.65" class="s" font-weight="bold">alteration</text>
<rect x="486" y="338.2" width="4.3" height="4.6" fill="#64b998"/>
<rect x="486" y="343.5" width="4.3" height="4.6" fill="#ae4b3a"/>
<rect x="487.5" y="348.7" width="1.3" height="4.8" fill="#8c8c8c"/>
<rect x="487.5" y="353.9" width="1.3" height="4.8" fill="#000000"/>
<rect x="486" y="360.9" width="4.3" height="1.4" fill="#0b6f70"/>
<rect x="486" y="365.9" width="4.3" height="1.8" fill="#7eeaf8"/>
<text x="492" y="342.2" font-size="4.65" class="s">deletion</text>
<text x="492" y="347.5" font-size="4.65" class="s">amplification</text>
<text x="492" y="352.8" font-size="4.65" class="s">fusion</text>
<text x="492" y="358" font-size="4.65" class="s">broken.by.SV</text>
<text x="492" y="363.3" font-size="4.65" class="s">missense</text>
<text x="492" y="368.5" font-size="4.65" class="s">truncated</text>
<text x="485.7" y="381.7" font-size="4.65" class="s" font-weight="bold">pathway</text>
<rect x="486" y="383.7" width="4.6" height="5.2" fill="#000" stroke="#000" stroke-width="0.5"/>
<text x="492.4" y="388" font-size="4.65" class="s">TP53</text>
<rect x="486" y="389" width="4.6" height="5.2" fill="#ff8562" stroke="#000" stroke-width="0.5"/>
<text x="492.4" y="393.3" font-size="4.65" class="s">PI3K</text>
<rect x="486" y="394.3" width="4.6" height="5.2" fill="#177d93" stroke="#000" stroke-width="0.5"/>
<text x="492.4" y="398.6" font-size="4.65" class="s">Cell Cycle</text>
<rect x="486" y="399.5" width="4.6" height="5.2" fill="#6cc3a5" stroke="#000" stroke-width="0.5"/>
<text x="492.4" y="403.8" font-size="4.65" class="s">RAS</text>
<rect x="486" y="404.7" width="4.6" height="5.2" fill="#b24f3e" stroke="#000" stroke-width="0.5"/>
<text x="492.4" y="409" font-size="4.65" class="s">CRG</text>
<rect x="486" y="409.9" width="4.6" height="5.2" fill="#757575" stroke="#000" stroke-width="0.5"/>
<text x="492.4" y="414.2" font-size="4.65" class="s">other</text>
</svg>
</body>
</html>
